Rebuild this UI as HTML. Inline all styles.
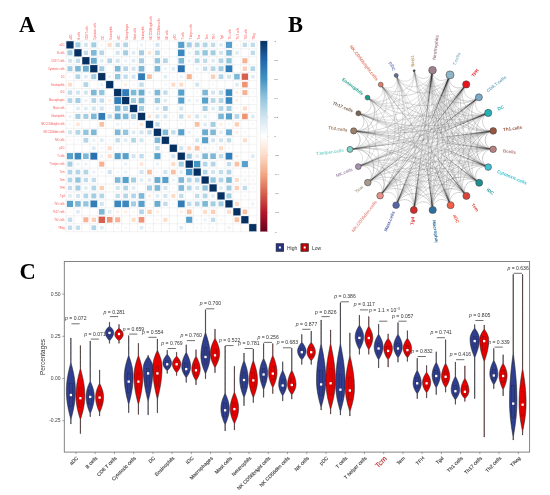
<!DOCTYPE html>
<html><head><meta charset="utf-8"><title>Figure</title>
<style>html,body{margin:0;padding:0;background:#fff;width:550px;height:495px;overflow:hidden}svg{display:block}</style>
</head><body>
<svg width="550" height="495" viewBox="0 0 550 495"><g id="panelA">
<text x="19" y="31.7" font-family="Liberation Serif, Times New Roman, serif" font-weight="bold" font-size="22.5" fill="#000">A</text>
<g><rect x="66.20" y="41.10" width="7.55" height="7.55" fill="#053061"/><rect x="75.41" y="42.36" width="5.02" height="5.02" fill="#a2cde2"/><rect x="83.90" y="42.90" width="3.94" height="3.94" fill="#d1e5f0"/><rect x="91.31" y="42.36" width="5.02" height="5.02" fill="#a2cde2"/><rect x="100.64" y="43.74" width="2.27" height="2.27" fill="#f4f8fb"/><rect x="107.75" y="42.90" width="3.94" height="3.94" fill="#fddbc7"/><rect x="115.51" y="42.71" width="4.34" height="4.34" fill="#c1ddec"/><rect x="123.28" y="42.53" width="4.69" height="4.69" fill="#b2d5e7"/><rect x="140.04" y="43.39" width="2.96" height="2.96" fill="#e8f2f8"/><rect x="148.34" y="43.74" width="2.27" height="2.27" fill="#f4f8fb"/><rect x="155.45" y="42.90" width="3.94" height="3.94" fill="#d1e5f0"/><rect x="164.24" y="43.74" width="2.27" height="2.27" fill="#fef6f1"/><rect x="178.20" y="41.80" width="6.14" height="6.14" fill="#57a0ca"/><rect x="186.71" y="42.36" width="5.02" height="5.02" fill="#a2cde2"/><rect x="194.83" y="42.53" width="4.69" height="4.69" fill="#b2d5e7"/><rect x="202.78" y="42.53" width="4.69" height="4.69" fill="#b2d5e7"/><rect x="210.91" y="42.71" width="4.34" height="4.34" fill="#c1ddec"/><rect x="219.28" y="43.13" width="3.49" height="3.49" fill="#dcecf4"/><rect x="225.90" y="41.80" width="6.14" height="6.14" fill="#57a0ca"/><rect x="235.79" y="43.74" width="2.27" height="2.27" fill="#fef6f1"/><rect x="242.71" y="42.71" width="4.34" height="4.34" fill="#c1ddec"/><rect x="250.66" y="42.71" width="4.34" height="4.34" fill="#c1ddec"/><rect x="67.46" y="50.31" width="5.02" height="5.02" fill="#a2cde2"/><rect x="74.15" y="49.05" width="7.55" height="7.55" fill="#053061"/><rect x="83.71" y="50.66" width="4.34" height="4.34" fill="#c1ddec"/><rect x="91.02" y="50.02" width="5.61" height="5.61" fill="#7eb8d7"/><rect x="99.43" y="50.48" width="4.69" height="4.69" fill="#b2d5e7"/><rect x="115.70" y="50.85" width="3.94" height="3.94" fill="#d1e5f0"/><rect x="123.11" y="50.31" width="5.02" height="5.02" fill="#a2cde2"/><rect x="131.83" y="51.08" width="3.49" height="3.49" fill="#dcecf4"/><rect x="139.01" y="50.31" width="5.02" height="5.02" fill="#a2cde2"/><rect x="147.73" y="51.08" width="3.49" height="3.49" fill="#fee4d5"/><rect x="155.08" y="50.48" width="4.69" height="4.69" fill="#b2d5e7"/><rect x="164.24" y="51.69" width="2.27" height="2.27" fill="#f4f8fb"/><rect x="177.96" y="49.51" width="6.62" height="6.62" fill="#3a88bd"/><rect x="187.74" y="51.34" width="2.96" height="2.96" fill="#e8f2f8"/><rect x="194.83" y="50.48" width="4.69" height="4.69" fill="#b2d5e7"/><rect x="202.46" y="50.16" width="5.33" height="5.33" fill="#92c5de"/><rect x="210.56" y="50.31" width="5.02" height="5.02" fill="#a2cde2"/><rect x="219.05" y="50.85" width="3.94" height="3.94" fill="#d1e5f0"/><rect x="226.17" y="50.02" width="5.61" height="5.61" fill="#7eb8d7"/><rect x="235.18" y="51.08" width="3.49" height="3.49" fill="#dcecf4"/><rect x="250.66" y="50.66" width="4.34" height="4.34" fill="#c1ddec"/><rect x="68.00" y="58.80" width="3.94" height="3.94" fill="#d1e5f0"/><rect x="75.76" y="58.61" width="4.34" height="4.34" fill="#c1ddec"/><rect x="82.10" y="57.00" width="7.55" height="7.55" fill="#053061"/><rect x="90.88" y="57.83" width="5.88" height="5.88" fill="#6aacd0"/><rect x="100.03" y="59.03" width="3.49" height="3.49" fill="#dcecf4"/><rect x="107.38" y="58.43" width="4.69" height="4.69" fill="#b2d5e7"/><rect x="115.70" y="58.80" width="3.94" height="3.94" fill="#d1e5f0"/><rect x="124.14" y="59.29" width="2.96" height="2.96" fill="#e8f2f8"/><rect x="131.83" y="59.03" width="3.49" height="3.49" fill="#dcecf4"/><rect x="139.01" y="58.26" width="5.02" height="5.02" fill="#a2cde2"/><rect x="154.76" y="58.11" width="5.33" height="5.33" fill="#92c5de"/><rect x="163.03" y="58.43" width="4.69" height="4.69" fill="#b2d5e7"/><rect x="178.47" y="57.97" width="5.61" height="5.61" fill="#7eb8d7"/><rect x="187.74" y="59.29" width="2.96" height="2.96" fill="#e8f2f8"/><rect x="194.83" y="58.43" width="4.69" height="4.69" fill="#b2d5e7"/><rect x="202.96" y="58.61" width="4.34" height="4.34" fill="#c1ddec"/><rect x="211.33" y="59.03" width="3.49" height="3.49" fill="#dcecf4"/><rect x="218.68" y="58.43" width="4.69" height="4.69" fill="#b2d5e7"/><rect x="226.31" y="58.11" width="5.33" height="5.33" fill="#92c5de"/><rect x="242.36" y="58.26" width="5.02" height="5.02" fill="#f6b293"/><rect x="67.46" y="66.21" width="5.02" height="5.02" fill="#a2cde2"/><rect x="75.12" y="65.92" width="5.61" height="5.61" fill="#7eb8d7"/><rect x="82.93" y="65.78" width="5.88" height="5.88" fill="#6aacd0"/><rect x="90.05" y="64.95" width="7.55" height="7.55" fill="#053061"/><rect x="99.26" y="66.21" width="5.02" height="5.02" fill="#a2cde2"/><rect x="114.87" y="65.92" width="5.61" height="5.61" fill="#7eb8d7"/><rect x="123.28" y="66.38" width="4.69" height="4.69" fill="#b2d5e7"/><rect x="131.60" y="66.75" width="3.94" height="3.94" fill="#d1e5f0"/><rect x="138.72" y="65.92" width="5.61" height="5.61" fill="#7eb8d7"/><rect x="154.62" y="65.92" width="5.61" height="5.61" fill="#7eb8d7"/><rect x="163.89" y="67.24" width="2.96" height="2.96" fill="#e8f2f8"/><rect x="171.58" y="66.98" width="3.49" height="3.49" fill="#dcecf4"/><rect x="177.74" y="65.19" width="7.07" height="7.07" fill="#2a71b2"/><rect x="195.69" y="67.24" width="2.96" height="2.96" fill="#e8f2f8"/><rect x="202.96" y="66.56" width="4.34" height="4.34" fill="#c1ddec"/><rect x="210.73" y="66.38" width="4.69" height="4.69" fill="#b2d5e7"/><rect x="218.51" y="66.21" width="5.02" height="5.02" fill="#a2cde2"/><rect x="225.55" y="65.30" width="6.85" height="6.85" fill="#327cb8"/><rect x="242.71" y="66.56" width="4.34" height="4.34" fill="#fbceb6"/><rect x="250.48" y="66.38" width="4.69" height="4.69" fill="#b2d5e7"/><rect x="68.84" y="75.54" width="2.27" height="2.27" fill="#f4f8fb"/><rect x="75.58" y="74.33" width="4.69" height="4.69" fill="#b2d5e7"/><rect x="84.13" y="74.93" width="3.49" height="3.49" fill="#dcecf4"/><rect x="91.31" y="74.16" width="5.02" height="5.02" fill="#a2cde2"/><rect x="98.00" y="72.90" width="7.55" height="7.55" fill="#053061"/><rect x="108.24" y="75.19" width="2.96" height="2.96" fill="#e8f2f8"/><rect x="115.01" y="74.01" width="5.33" height="5.33" fill="#92c5de"/><rect x="123.46" y="74.51" width="4.34" height="4.34" fill="#c1ddec"/><rect x="131.60" y="74.70" width="3.94" height="3.94" fill="#d1e5f0"/><rect x="138.10" y="73.25" width="6.85" height="6.85" fill="#327cb8"/><rect x="147.13" y="74.33" width="4.69" height="4.69" fill="#f8c0a4"/><rect x="163.63" y="74.93" width="3.49" height="3.49" fill="#dcecf4"/><rect x="172.19" y="75.54" width="2.27" height="2.27" fill="#f4f8fb"/><rect x="179.79" y="75.19" width="2.96" height="2.96" fill="#e8f2f8"/><rect x="186.71" y="74.16" width="5.02" height="5.02" fill="#f6b293"/><rect x="196.04" y="75.54" width="2.27" height="2.27" fill="#f4f8fb"/><rect x="210.91" y="74.51" width="4.34" height="4.34" fill="#fbceb6"/><rect x="218.68" y="74.33" width="4.69" height="4.69" fill="#b2d5e7"/><rect x="227.00" y="74.70" width="3.94" height="3.94" fill="#d1e5f0"/><rect x="234.12" y="73.87" width="5.61" height="5.61" fill="#7eb8d7"/><rect x="241.68" y="73.48" width="6.39" height="6.39" fill="#d6604d"/><rect x="251.08" y="74.93" width="3.49" height="3.49" fill="#dcecf4"/><rect x="68.00" y="82.65" width="3.94" height="3.94" fill="#fddbc7"/><rect x="83.53" y="82.28" width="4.69" height="4.69" fill="#b2d5e7"/><rect x="100.29" y="83.14" width="2.96" height="2.96" fill="#e8f2f8"/><rect x="105.95" y="80.85" width="7.55" height="7.55" fill="#053061"/><rect x="124.14" y="83.14" width="2.96" height="2.96" fill="#feede3"/><rect x="132.44" y="83.49" width="2.27" height="2.27" fill="#f4f8fb"/><rect x="139.36" y="82.46" width="4.34" height="4.34" fill="#c1ddec"/><rect x="164.24" y="83.49" width="2.27" height="2.27" fill="#f4f8fb"/><rect x="171.35" y="82.65" width="3.94" height="3.94" fill="#fddbc7"/><rect x="179.30" y="82.65" width="3.94" height="3.94" fill="#fddbc7"/><rect x="195.20" y="82.65" width="3.94" height="3.94" fill="#d1e5f0"/><rect x="211.94" y="83.49" width="2.27" height="2.27" fill="#fef6f1"/><rect x="235.18" y="82.88" width="3.49" height="3.49" fill="#dcecf4"/><rect x="242.07" y="81.82" width="5.61" height="5.61" fill="#ec9475"/><rect x="67.81" y="90.41" width="4.34" height="4.34" fill="#c1ddec"/><rect x="75.95" y="90.60" width="3.94" height="3.94" fill="#d1e5f0"/><rect x="83.90" y="90.60" width="3.94" height="3.94" fill="#d1e5f0"/><rect x="91.02" y="89.77" width="5.61" height="5.61" fill="#7eb8d7"/><rect x="99.11" y="89.91" width="5.33" height="5.33" fill="#92c5de"/><rect x="113.90" y="88.80" width="7.55" height="7.55" fill="#053061"/><rect x="122.20" y="89.15" width="6.85" height="6.85" fill="#327cb8"/><rect x="130.77" y="89.77" width="5.61" height="5.61" fill="#7eb8d7"/><rect x="138.58" y="89.63" width="5.88" height="5.88" fill="#6aacd0"/><rect x="147.99" y="91.09" width="2.96" height="2.96" fill="#e8f2f8"/><rect x="154.62" y="89.77" width="5.61" height="5.61" fill="#7eb8d7"/><rect x="163.21" y="90.41" width="4.34" height="4.34" fill="#c1ddec"/><rect x="172.19" y="91.44" width="2.27" height="2.27" fill="#f4f8fb"/><rect x="178.20" y="89.50" width="6.14" height="6.14" fill="#57a0ca"/><rect x="196.04" y="91.44" width="2.27" height="2.27" fill="#f4f8fb"/><rect x="202.32" y="89.77" width="5.61" height="5.61" fill="#7eb8d7"/><rect x="211.10" y="90.60" width="3.94" height="3.94" fill="#d1e5f0"/><rect x="218.86" y="90.41" width="4.34" height="4.34" fill="#c1ddec"/><rect x="225.66" y="89.26" width="6.62" height="6.62" fill="#3a88bd"/><rect x="235.44" y="91.09" width="2.96" height="2.96" fill="#feede3"/><rect x="242.36" y="90.06" width="5.02" height="5.02" fill="#f6b293"/><rect x="251.69" y="91.44" width="2.27" height="2.27" fill="#f4f8fb"/><rect x="67.63" y="98.18" width="4.69" height="4.69" fill="#b2d5e7"/><rect x="75.41" y="98.01" width="5.02" height="5.02" fill="#a2cde2"/><rect x="84.39" y="99.04" width="2.96" height="2.96" fill="#e8f2f8"/><rect x="91.48" y="98.18" width="4.69" height="4.69" fill="#b2d5e7"/><rect x="99.61" y="98.36" width="4.34" height="4.34" fill="#c1ddec"/><rect x="108.24" y="99.04" width="2.96" height="2.96" fill="#feede3"/><rect x="114.25" y="97.10" width="6.85" height="6.85" fill="#327cb8"/><rect x="121.85" y="96.75" width="7.55" height="7.55" fill="#053061"/><rect x="131.06" y="98.01" width="5.02" height="5.02" fill="#a2cde2"/><rect x="138.72" y="97.72" width="5.61" height="5.61" fill="#7eb8d7"/><rect x="148.34" y="99.39" width="2.27" height="2.27" fill="#f4f8fb"/><rect x="154.76" y="97.86" width="5.33" height="5.33" fill="#92c5de"/><rect x="163.63" y="98.78" width="3.49" height="3.49" fill="#dcecf4"/><rect x="178.20" y="97.45" width="6.14" height="6.14" fill="#57a0ca"/><rect x="187.74" y="99.04" width="2.96" height="2.96" fill="#e8f2f8"/><rect x="195.69" y="99.04" width="2.96" height="2.96" fill="#e8f2f8"/><rect x="202.05" y="97.45" width="6.14" height="6.14" fill="#57a0ca"/><rect x="210.73" y="98.18" width="4.69" height="4.69" fill="#b2d5e7"/><rect x="218.68" y="98.18" width="4.69" height="4.69" fill="#b2d5e7"/><rect x="225.66" y="97.21" width="6.62" height="6.62" fill="#3a88bd"/><rect x="235.44" y="99.04" width="2.96" height="2.96" fill="#feede3"/><rect x="251.69" y="99.39" width="2.27" height="2.27" fill="#f4f8fb"/><rect x="76.18" y="106.73" width="3.49" height="3.49" fill="#dcecf4"/><rect x="84.13" y="106.73" width="3.49" height="3.49" fill="#dcecf4"/><rect x="91.85" y="106.50" width="3.94" height="3.94" fill="#d1e5f0"/><rect x="99.80" y="106.50" width="3.94" height="3.94" fill="#d1e5f0"/><rect x="108.59" y="107.34" width="2.27" height="2.27" fill="#f4f8fb"/><rect x="114.87" y="105.67" width="5.61" height="5.61" fill="#7eb8d7"/><rect x="123.11" y="105.96" width="5.02" height="5.02" fill="#a2cde2"/><rect x="129.80" y="104.70" width="7.55" height="7.55" fill="#053061"/><rect x="139.01" y="105.96" width="5.02" height="5.02" fill="#a2cde2"/><rect x="148.34" y="107.34" width="2.27" height="2.27" fill="#f4f8fb"/><rect x="155.68" y="106.73" width="3.49" height="3.49" fill="#dcecf4"/><rect x="163.03" y="106.13" width="4.69" height="4.69" fill="#b2d5e7"/><rect x="179.30" y="106.50" width="3.94" height="3.94" fill="#d1e5f0"/><rect x="202.61" y="105.96" width="5.02" height="5.02" fill="#a2cde2"/><rect x="211.33" y="106.73" width="3.49" height="3.49" fill="#dcecf4"/><rect x="218.68" y="106.13" width="4.69" height="4.69" fill="#b2d5e7"/><rect x="226.46" y="105.96" width="5.02" height="5.02" fill="#a2cde2"/><rect x="235.79" y="107.34" width="2.27" height="2.27" fill="#fef6f1"/><rect x="242.90" y="106.50" width="3.94" height="3.94" fill="#fddbc7"/><rect x="68.49" y="114.94" width="2.96" height="2.96" fill="#e8f2f8"/><rect x="75.41" y="113.91" width="5.02" height="5.02" fill="#a2cde2"/><rect x="83.36" y="113.91" width="5.02" height="5.02" fill="#a2cde2"/><rect x="91.02" y="113.62" width="5.61" height="5.61" fill="#7eb8d7"/><rect x="98.35" y="113.00" width="6.85" height="6.85" fill="#327cb8"/><rect x="107.56" y="114.26" width="4.34" height="4.34" fill="#c1ddec"/><rect x="114.73" y="113.48" width="5.88" height="5.88" fill="#6aacd0"/><rect x="122.82" y="113.62" width="5.61" height="5.61" fill="#7eb8d7"/><rect x="131.06" y="113.91" width="5.02" height="5.02" fill="#a2cde2"/><rect x="137.75" y="112.65" width="7.55" height="7.55" fill="#053061"/><rect x="147.73" y="114.68" width="3.49" height="3.49" fill="#fee4d5"/><rect x="155.45" y="114.45" width="3.94" height="3.94" fill="#d1e5f0"/><rect x="163.40" y="114.45" width="3.94" height="3.94" fill="#d1e5f0"/><rect x="172.19" y="115.29" width="2.27" height="2.27" fill="#fef6f1"/><rect x="179.11" y="114.26" width="4.34" height="4.34" fill="#c1ddec"/><rect x="187.48" y="114.68" width="3.49" height="3.49" fill="#fee4d5"/><rect x="195.20" y="114.45" width="3.94" height="3.94" fill="#d1e5f0"/><rect x="203.38" y="114.68" width="3.49" height="3.49" fill="#dcecf4"/><rect x="218.22" y="113.62" width="5.61" height="5.61" fill="#7eb8d7"/><rect x="225.90" y="113.35" width="6.14" height="6.14" fill="#57a0ca"/><rect x="234.58" y="114.08" width="4.69" height="4.69" fill="#b2d5e7"/><rect x="242.07" y="113.62" width="5.61" height="5.61" fill="#ec9475"/><rect x="251.08" y="114.68" width="3.49" height="3.49" fill="#dcecf4"/><rect x="68.84" y="123.24" width="2.27" height="2.27" fill="#f4f8fb"/><rect x="76.18" y="122.63" width="3.49" height="3.49" fill="#fee4d5"/><rect x="99.43" y="122.03" width="4.69" height="4.69" fill="#f8c0a4"/><rect x="116.19" y="122.89" width="2.96" height="2.96" fill="#e8f2f8"/><rect x="124.49" y="123.24" width="2.27" height="2.27" fill="#f4f8fb"/><rect x="132.44" y="123.24" width="2.27" height="2.27" fill="#f4f8fb"/><rect x="139.78" y="122.63" width="3.49" height="3.49" fill="#fee4d5"/><rect x="145.70" y="120.60" width="7.55" height="7.55" fill="#053061"/><rect x="155.26" y="122.21" width="4.34" height="4.34" fill="#c1ddec"/><rect x="164.24" y="123.24" width="2.27" height="2.27" fill="#f4f8fb"/><rect x="180.14" y="123.24" width="2.27" height="2.27" fill="#f4f8fb"/><rect x="194.83" y="122.03" width="4.69" height="4.69" fill="#f8c0a4"/><rect x="203.38" y="122.63" width="3.49" height="3.49" fill="#dcecf4"/><rect x="210.56" y="121.86" width="5.02" height="5.02" fill="#a2cde2"/><rect x="219.54" y="122.89" width="2.96" height="2.96" fill="#feede3"/><rect x="227.84" y="123.24" width="2.27" height="2.27" fill="#f4f8fb"/><rect x="234.76" y="122.21" width="4.34" height="4.34" fill="#fbceb6"/><rect x="251.69" y="123.24" width="2.27" height="2.27" fill="#fef6f1"/><rect x="68.00" y="130.35" width="3.94" height="3.94" fill="#d1e5f0"/><rect x="75.58" y="129.98" width="4.69" height="4.69" fill="#b2d5e7"/><rect x="83.21" y="129.66" width="5.33" height="5.33" fill="#92c5de"/><rect x="91.02" y="129.52" width="5.61" height="5.61" fill="#7eb8d7"/><rect x="114.87" y="129.52" width="5.61" height="5.61" fill="#7eb8d7"/><rect x="122.96" y="129.66" width="5.33" height="5.33" fill="#92c5de"/><rect x="131.83" y="130.58" width="3.49" height="3.49" fill="#dcecf4"/><rect x="139.55" y="130.35" width="3.94" height="3.94" fill="#d1e5f0"/><rect x="147.31" y="130.16" width="4.34" height="4.34" fill="#c1ddec"/><rect x="153.65" y="128.55" width="7.55" height="7.55" fill="#053061"/><rect x="162.57" y="129.52" width="5.61" height="5.61" fill="#7eb8d7"/><rect x="171.16" y="130.16" width="4.34" height="4.34" fill="#c1ddec"/><rect x="178.20" y="129.25" width="6.14" height="6.14" fill="#57a0ca"/><rect x="187.74" y="130.84" width="2.96" height="2.96" fill="#e8f2f8"/><rect x="196.04" y="131.19" width="2.27" height="2.27" fill="#f4f8fb"/><rect x="202.18" y="129.38" width="5.88" height="5.88" fill="#6aacd0"/><rect x="210.27" y="129.52" width="5.61" height="5.61" fill="#7eb8d7"/><rect x="219.28" y="130.58" width="3.49" height="3.49" fill="#dcecf4"/><rect x="226.03" y="129.38" width="5.88" height="5.88" fill="#6aacd0"/><rect x="235.44" y="130.84" width="2.96" height="2.96" fill="#feede3"/><rect x="243.74" y="131.19" width="2.27" height="2.27" fill="#fef6f1"/><rect x="68.84" y="139.14" width="2.27" height="2.27" fill="#fef6f1"/><rect x="76.79" y="139.14" width="2.27" height="2.27" fill="#f4f8fb"/><rect x="83.53" y="137.93" width="4.69" height="4.69" fill="#b2d5e7"/><rect x="92.34" y="138.79" width="2.96" height="2.96" fill="#e8f2f8"/><rect x="100.03" y="138.53" width="3.49" height="3.49" fill="#dcecf4"/><rect x="108.59" y="139.14" width="2.27" height="2.27" fill="#f4f8fb"/><rect x="115.51" y="138.11" width="4.34" height="4.34" fill="#c1ddec"/><rect x="123.88" y="138.53" width="3.49" height="3.49" fill="#dcecf4"/><rect x="131.23" y="137.93" width="4.69" height="4.69" fill="#b2d5e7"/><rect x="139.55" y="138.30" width="3.94" height="3.94" fill="#d1e5f0"/><rect x="148.34" y="139.14" width="2.27" height="2.27" fill="#f4f8fb"/><rect x="154.62" y="137.47" width="5.61" height="5.61" fill="#7eb8d7"/><rect x="161.60" y="136.50" width="7.55" height="7.55" fill="#053061"/><rect x="172.19" y="139.14" width="2.27" height="2.27" fill="#f4f8fb"/><rect x="180.14" y="139.14" width="2.27" height="2.27" fill="#f4f8fb"/><rect x="195.20" y="138.30" width="3.94" height="3.94" fill="#d1e5f0"/><rect x="202.05" y="137.20" width="6.14" height="6.14" fill="#57a0ca"/><rect x="211.10" y="138.30" width="3.94" height="3.94" fill="#d1e5f0"/><rect x="219.05" y="138.30" width="3.94" height="3.94" fill="#d1e5f0"/><rect x="226.81" y="138.11" width="4.34" height="4.34" fill="#c1ddec"/><rect x="242.90" y="138.30" width="3.94" height="3.94" fill="#fddbc7"/><rect x="92.08" y="146.48" width="3.49" height="3.49" fill="#dcecf4"/><rect x="100.64" y="147.09" width="2.27" height="2.27" fill="#f4f8fb"/><rect x="107.75" y="146.25" width="3.94" height="3.94" fill="#fddbc7"/><rect x="116.54" y="147.09" width="2.27" height="2.27" fill="#f4f8fb"/><rect x="140.39" y="147.09" width="2.27" height="2.27" fill="#fef6f1"/><rect x="155.26" y="146.06" width="4.34" height="4.34" fill="#c1ddec"/><rect x="164.24" y="147.09" width="2.27" height="2.27" fill="#f4f8fb"/><rect x="169.55" y="144.45" width="7.55" height="7.55" fill="#053061"/><rect x="179.30" y="146.25" width="3.94" height="3.94" fill="#d1e5f0"/><rect x="187.25" y="146.25" width="3.94" height="3.94" fill="#fddbc7"/><rect x="194.83" y="145.88" width="4.69" height="4.69" fill="#f8c0a4"/><rect x="203.64" y="146.74" width="2.96" height="2.96" fill="#e8f2f8"/><rect x="211.94" y="147.09" width="2.27" height="2.27" fill="#fef6f1"/><rect x="219.05" y="146.25" width="3.94" height="3.94" fill="#fddbc7"/><rect x="227.84" y="147.09" width="2.27" height="2.27" fill="#f4f8fb"/><rect x="66.90" y="153.10" width="6.14" height="6.14" fill="#57a0ca"/><rect x="74.61" y="152.86" width="6.62" height="6.62" fill="#3a88bd"/><rect x="83.07" y="153.37" width="5.61" height="5.61" fill="#7eb8d7"/><rect x="90.29" y="152.64" width="7.07" height="7.07" fill="#2a71b2"/><rect x="100.29" y="154.69" width="2.96" height="2.96" fill="#e8f2f8"/><rect x="107.75" y="154.20" width="3.94" height="3.94" fill="#fddbc7"/><rect x="114.60" y="153.10" width="6.14" height="6.14" fill="#57a0ca"/><rect x="122.55" y="153.10" width="6.14" height="6.14" fill="#57a0ca"/><rect x="131.60" y="154.20" width="3.94" height="3.94" fill="#d1e5f0"/><rect x="139.36" y="154.01" width="4.34" height="4.34" fill="#c1ddec"/><rect x="148.34" y="155.04" width="2.27" height="2.27" fill="#f4f8fb"/><rect x="154.35" y="153.10" width="6.14" height="6.14" fill="#57a0ca"/><rect x="164.24" y="155.04" width="2.27" height="2.27" fill="#f4f8fb"/><rect x="171.35" y="154.20" width="3.94" height="3.94" fill="#d1e5f0"/><rect x="177.50" y="152.40" width="7.55" height="7.55" fill="#053061"/><rect x="186.71" y="153.66" width="5.02" height="5.02" fill="#a2cde2"/><rect x="195.43" y="154.43" width="3.49" height="3.49" fill="#dcecf4"/><rect x="202.32" y="153.37" width="5.61" height="5.61" fill="#7eb8d7"/><rect x="210.27" y="153.37" width="5.61" height="5.61" fill="#7eb8d7"/><rect x="218.86" y="154.01" width="4.34" height="4.34" fill="#c1ddec"/><rect x="225.55" y="152.75" width="6.85" height="6.85" fill="#327cb8"/><rect x="235.44" y="154.69" width="2.96" height="2.96" fill="#feede3"/><rect x="251.08" y="154.43" width="3.49" height="3.49" fill="#dcecf4"/><rect x="67.46" y="161.61" width="5.02" height="5.02" fill="#a2cde2"/><rect x="76.44" y="162.64" width="2.96" height="2.96" fill="#e8f2f8"/><rect x="84.39" y="162.64" width="2.96" height="2.96" fill="#e8f2f8"/><rect x="99.26" y="161.61" width="5.02" height="5.02" fill="#f6b293"/><rect x="124.14" y="162.64" width="2.96" height="2.96" fill="#e8f2f8"/><rect x="139.78" y="162.38" width="3.49" height="3.49" fill="#fee4d5"/><rect x="155.94" y="162.64" width="2.96" height="2.96" fill="#e8f2f8"/><rect x="171.35" y="162.15" width="3.94" height="3.94" fill="#fddbc7"/><rect x="178.76" y="161.61" width="5.02" height="5.02" fill="#a2cde2"/><rect x="185.45" y="160.35" width="7.55" height="7.55" fill="#053061"/><rect x="193.98" y="160.93" width="6.39" height="6.39" fill="#4393c3"/><rect x="202.78" y="161.78" width="4.69" height="4.69" fill="#b2d5e7"/><rect x="210.73" y="161.78" width="4.69" height="4.69" fill="#b2d5e7"/><rect x="226.81" y="161.96" width="4.34" height="4.34" fill="#c1ddec"/><rect x="234.58" y="161.78" width="4.69" height="4.69" fill="#f8c0a4"/><rect x="241.80" y="161.05" width="6.14" height="6.14" fill="#57a0ca"/><rect x="67.63" y="169.73" width="4.69" height="4.69" fill="#b2d5e7"/><rect x="75.58" y="169.73" width="4.69" height="4.69" fill="#b2d5e7"/><rect x="83.53" y="169.73" width="4.69" height="4.69" fill="#b2d5e7"/><rect x="92.34" y="170.59" width="2.96" height="2.96" fill="#e8f2f8"/><rect x="100.64" y="170.94" width="2.27" height="2.27" fill="#f4f8fb"/><rect x="107.75" y="170.10" width="3.94" height="3.94" fill="#d1e5f0"/><rect x="116.54" y="170.94" width="2.27" height="2.27" fill="#f4f8fb"/><rect x="124.14" y="170.59" width="2.96" height="2.96" fill="#e8f2f8"/><rect x="139.55" y="170.10" width="3.94" height="3.94" fill="#d1e5f0"/><rect x="147.13" y="169.73" width="4.69" height="4.69" fill="#f8c0a4"/><rect x="156.29" y="170.94" width="2.27" height="2.27" fill="#f4f8fb"/><rect x="163.40" y="170.10" width="3.94" height="3.94" fill="#d1e5f0"/><rect x="170.98" y="169.73" width="4.69" height="4.69" fill="#f8c0a4"/><rect x="179.53" y="170.33" width="3.49" height="3.49" fill="#dcecf4"/><rect x="186.03" y="168.88" width="6.39" height="6.39" fill="#4393c3"/><rect x="193.40" y="168.30" width="7.55" height="7.55" fill="#053061"/><rect x="202.78" y="169.73" width="4.69" height="4.69" fill="#b2d5e7"/><rect x="211.10" y="170.10" width="3.94" height="3.94" fill="#d1e5f0"/><rect x="218.86" y="169.91" width="4.34" height="4.34" fill="#c1ddec"/><rect x="226.63" y="169.73" width="4.69" height="4.69" fill="#b2d5e7"/><rect x="243.74" y="170.94" width="2.27" height="2.27" fill="#f4f8fb"/><rect x="251.69" y="170.94" width="2.27" height="2.27" fill="#f4f8fb"/><rect x="67.63" y="177.68" width="4.69" height="4.69" fill="#b2d5e7"/><rect x="75.26" y="177.36" width="5.33" height="5.33" fill="#92c5de"/><rect x="83.71" y="177.86" width="4.34" height="4.34" fill="#c1ddec"/><rect x="91.66" y="177.86" width="4.34" height="4.34" fill="#c1ddec"/><rect x="114.87" y="177.22" width="5.61" height="5.61" fill="#7eb8d7"/><rect x="122.55" y="176.95" width="6.14" height="6.14" fill="#57a0ca"/><rect x="131.06" y="177.51" width="5.02" height="5.02" fill="#a2cde2"/><rect x="139.78" y="178.28" width="3.49" height="3.49" fill="#dcecf4"/><rect x="147.73" y="178.28" width="3.49" height="3.49" fill="#dcecf4"/><rect x="154.48" y="177.08" width="5.88" height="5.88" fill="#6aacd0"/><rect x="162.30" y="176.95" width="6.14" height="6.14" fill="#57a0ca"/><rect x="171.84" y="178.54" width="2.96" height="2.96" fill="#e8f2f8"/><rect x="178.47" y="177.22" width="5.61" height="5.61" fill="#7eb8d7"/><rect x="186.88" y="177.68" width="4.69" height="4.69" fill="#b2d5e7"/><rect x="194.83" y="177.68" width="4.69" height="4.69" fill="#b2d5e7"/><rect x="201.35" y="176.25" width="7.55" height="7.55" fill="#053061"/><rect x="210.41" y="177.36" width="5.33" height="5.33" fill="#92c5de"/><rect x="218.68" y="177.68" width="4.69" height="4.69" fill="#b2d5e7"/><rect x="226.17" y="177.22" width="5.61" height="5.61" fill="#7eb8d7"/><rect x="234.95" y="178.05" width="3.94" height="3.94" fill="#fddbc7"/><rect x="243.39" y="178.54" width="2.96" height="2.96" fill="#e8f2f8"/><rect x="251.69" y="178.89" width="2.27" height="2.27" fill="#fef6f1"/><rect x="67.81" y="185.81" width="4.34" height="4.34" fill="#c1ddec"/><rect x="75.41" y="185.46" width="5.02" height="5.02" fill="#a2cde2"/><rect x="84.13" y="186.23" width="3.49" height="3.49" fill="#dcecf4"/><rect x="91.48" y="185.63" width="4.69" height="4.69" fill="#b2d5e7"/><rect x="99.61" y="185.81" width="4.34" height="4.34" fill="#fbceb6"/><rect x="108.59" y="186.84" width="2.27" height="2.27" fill="#fef6f1"/><rect x="115.70" y="186.00" width="3.94" height="3.94" fill="#d1e5f0"/><rect x="123.28" y="185.63" width="4.69" height="4.69" fill="#b2d5e7"/><rect x="131.83" y="186.23" width="3.49" height="3.49" fill="#dcecf4"/><rect x="146.96" y="185.46" width="5.02" height="5.02" fill="#a2cde2"/><rect x="154.62" y="185.17" width="5.61" height="5.61" fill="#7eb8d7"/><rect x="163.40" y="186.00" width="3.94" height="3.94" fill="#d1e5f0"/><rect x="172.19" y="186.84" width="2.27" height="2.27" fill="#fef6f1"/><rect x="178.47" y="185.17" width="5.61" height="5.61" fill="#7eb8d7"/><rect x="186.88" y="185.63" width="4.69" height="4.69" fill="#b2d5e7"/><rect x="195.20" y="186.00" width="3.94" height="3.94" fill="#d1e5f0"/><rect x="202.46" y="185.31" width="5.33" height="5.33" fill="#92c5de"/><rect x="209.30" y="184.20" width="7.55" height="7.55" fill="#053061"/><rect x="219.28" y="186.23" width="3.49" height="3.49" fill="#dcecf4"/><rect x="226.46" y="185.46" width="5.02" height="5.02" fill="#a2cde2"/><rect x="234.76" y="185.81" width="4.34" height="4.34" fill="#fbceb6"/><rect x="242.71" y="185.81" width="4.34" height="4.34" fill="#c1ddec"/><rect x="251.69" y="186.84" width="2.27" height="2.27" fill="#f4f8fb"/><rect x="68.23" y="194.18" width="3.49" height="3.49" fill="#dcecf4"/><rect x="75.95" y="193.95" width="3.94" height="3.94" fill="#d1e5f0"/><rect x="83.53" y="193.58" width="4.69" height="4.69" fill="#b2d5e7"/><rect x="91.31" y="193.41" width="5.02" height="5.02" fill="#a2cde2"/><rect x="99.43" y="193.58" width="4.69" height="4.69" fill="#b2d5e7"/><rect x="115.51" y="193.76" width="4.34" height="4.34" fill="#c1ddec"/><rect x="123.28" y="193.58" width="4.69" height="4.69" fill="#b2d5e7"/><rect x="131.23" y="193.58" width="4.69" height="4.69" fill="#b2d5e7"/><rect x="138.72" y="193.12" width="5.61" height="5.61" fill="#7eb8d7"/><rect x="147.99" y="194.44" width="2.96" height="2.96" fill="#feede3"/><rect x="155.68" y="194.18" width="3.49" height="3.49" fill="#dcecf4"/><rect x="163.40" y="193.95" width="3.94" height="3.94" fill="#d1e5f0"/><rect x="171.35" y="193.95" width="3.94" height="3.94" fill="#fddbc7"/><rect x="179.11" y="193.76" width="4.34" height="4.34" fill="#c1ddec"/><rect x="195.01" y="193.76" width="4.34" height="4.34" fill="#c1ddec"/><rect x="202.78" y="193.58" width="4.69" height="4.69" fill="#b2d5e7"/><rect x="211.33" y="194.18" width="3.49" height="3.49" fill="#dcecf4"/><rect x="217.25" y="192.15" width="7.55" height="7.55" fill="#053061"/><rect x="226.46" y="193.41" width="5.02" height="5.02" fill="#a2cde2"/><rect x="243.74" y="194.79" width="2.27" height="2.27" fill="#fef6f1"/><rect x="66.90" y="200.80" width="6.14" height="6.14" fill="#57a0ca"/><rect x="75.12" y="201.07" width="5.61" height="5.61" fill="#7eb8d7"/><rect x="83.21" y="201.21" width="5.33" height="5.33" fill="#92c5de"/><rect x="90.40" y="200.45" width="6.85" height="6.85" fill="#327cb8"/><rect x="99.80" y="201.90" width="3.94" height="3.94" fill="#d1e5f0"/><rect x="114.36" y="200.56" width="6.62" height="6.62" fill="#3a88bd"/><rect x="122.31" y="200.56" width="6.62" height="6.62" fill="#3a88bd"/><rect x="131.06" y="201.36" width="5.02" height="5.02" fill="#a2cde2"/><rect x="138.45" y="200.80" width="6.14" height="6.14" fill="#57a0ca"/><rect x="148.34" y="202.74" width="2.27" height="2.27" fill="#f4f8fb"/><rect x="154.48" y="200.93" width="5.88" height="5.88" fill="#6aacd0"/><rect x="163.21" y="201.71" width="4.34" height="4.34" fill="#c1ddec"/><rect x="172.19" y="202.74" width="2.27" height="2.27" fill="#f4f8fb"/><rect x="177.85" y="200.45" width="6.85" height="6.85" fill="#327cb8"/><rect x="187.06" y="201.71" width="4.34" height="4.34" fill="#c1ddec"/><rect x="194.83" y="201.53" width="4.69" height="4.69" fill="#b2d5e7"/><rect x="202.32" y="201.07" width="5.61" height="5.61" fill="#7eb8d7"/><rect x="210.56" y="201.36" width="5.02" height="5.02" fill="#a2cde2"/><rect x="218.51" y="201.36" width="5.02" height="5.02" fill="#a2cde2"/><rect x="225.20" y="200.10" width="7.55" height="7.55" fill="#053061"/><rect x="234.95" y="201.90" width="3.94" height="3.94" fill="#fddbc7"/><rect x="251.34" y="202.39" width="2.96" height="2.96" fill="#e8f2f8"/><rect x="68.84" y="210.69" width="2.27" height="2.27" fill="#fef6f1"/><rect x="76.18" y="210.08" width="3.49" height="3.49" fill="#dcecf4"/><rect x="98.97" y="209.02" width="5.61" height="5.61" fill="#7eb8d7"/><rect x="107.98" y="210.08" width="3.49" height="3.49" fill="#dcecf4"/><rect x="116.19" y="210.34" width="2.96" height="2.96" fill="#feede3"/><rect x="124.14" y="210.34" width="2.96" height="2.96" fill="#feede3"/><rect x="132.44" y="210.69" width="2.27" height="2.27" fill="#fef6f1"/><rect x="139.18" y="209.48" width="4.69" height="4.69" fill="#b2d5e7"/><rect x="147.31" y="209.66" width="4.34" height="4.34" fill="#fbceb6"/><rect x="155.94" y="210.34" width="2.96" height="2.96" fill="#feede3"/><rect x="179.79" y="210.34" width="2.96" height="2.96" fill="#feede3"/><rect x="186.88" y="209.48" width="4.69" height="4.69" fill="#f8c0a4"/><rect x="203.15" y="209.85" width="3.94" height="3.94" fill="#fddbc7"/><rect x="210.91" y="209.66" width="4.34" height="4.34" fill="#fbceb6"/><rect x="227.00" y="209.85" width="3.94" height="3.94" fill="#fddbc7"/><rect x="233.15" y="208.05" width="7.55" height="7.55" fill="#053061"/><rect x="242.53" y="209.48" width="4.69" height="4.69" fill="#f8c0a4"/><rect x="67.81" y="217.61" width="4.34" height="4.34" fill="#c1ddec"/><rect x="83.36" y="217.26" width="5.02" height="5.02" fill="#f6b293"/><rect x="91.66" y="217.61" width="4.34" height="4.34" fill="#fbceb6"/><rect x="98.58" y="216.58" width="6.39" height="6.39" fill="#d6604d"/><rect x="106.92" y="216.97" width="5.61" height="5.61" fill="#ec9475"/><rect x="115.16" y="217.26" width="5.02" height="5.02" fill="#f6b293"/><rect x="131.60" y="217.80" width="3.94" height="3.94" fill="#fddbc7"/><rect x="138.72" y="216.97" width="5.61" height="5.61" fill="#ec9475"/><rect x="156.29" y="218.64" width="2.27" height="2.27" fill="#fef6f1"/><rect x="163.40" y="217.80" width="3.94" height="3.94" fill="#fddbc7"/><rect x="186.15" y="216.70" width="6.14" height="6.14" fill="#57a0ca"/><rect x="196.04" y="218.64" width="2.27" height="2.27" fill="#f4f8fb"/><rect x="203.64" y="218.29" width="2.96" height="2.96" fill="#e8f2f8"/><rect x="210.91" y="217.61" width="4.34" height="4.34" fill="#c1ddec"/><rect x="219.89" y="218.64" width="2.27" height="2.27" fill="#fef6f1"/><rect x="234.58" y="217.43" width="4.69" height="4.69" fill="#f8c0a4"/><rect x="241.10" y="216.00" width="7.55" height="7.55" fill="#053061"/><rect x="67.81" y="225.56" width="4.34" height="4.34" fill="#c1ddec"/><rect x="75.76" y="225.56" width="4.34" height="4.34" fill="#c1ddec"/><rect x="91.48" y="225.38" width="4.69" height="4.69" fill="#b2d5e7"/><rect x="100.03" y="225.98" width="3.49" height="3.49" fill="#dcecf4"/><rect x="116.54" y="226.59" width="2.27" height="2.27" fill="#f4f8fb"/><rect x="124.49" y="226.59" width="2.27" height="2.27" fill="#f4f8fb"/><rect x="139.78" y="225.98" width="3.49" height="3.49" fill="#dcecf4"/><rect x="148.34" y="226.59" width="2.27" height="2.27" fill="#fef6f1"/><rect x="179.53" y="225.98" width="3.49" height="3.49" fill="#dcecf4"/><rect x="196.04" y="226.59" width="2.27" height="2.27" fill="#f4f8fb"/><rect x="203.99" y="226.59" width="2.27" height="2.27" fill="#fef6f1"/><rect x="211.94" y="226.59" width="2.27" height="2.27" fill="#f4f8fb"/><rect x="227.49" y="226.24" width="2.96" height="2.96" fill="#e8f2f8"/><rect x="249.05" y="223.95" width="7.55" height="7.55" fill="#053061"/></g>
<path d="M66.00 40.90V231.70M66.00 40.90H256.80M73.95 40.90V231.70M66.00 48.85H256.80M81.90 40.90V231.70M66.00 56.80H256.80M89.85 40.90V231.70M66.00 64.75H256.80M97.80 40.90V231.70M66.00 72.70H256.80M105.75 40.90V231.70M66.00 80.65H256.80M113.70 40.90V231.70M66.00 88.60H256.80M121.65 40.90V231.70M66.00 96.55H256.80M129.60 40.90V231.70M66.00 104.50H256.80M137.55 40.90V231.70M66.00 112.45H256.80M145.50 40.90V231.70M66.00 120.40H256.80M153.45 40.90V231.70M66.00 128.35H256.80M161.40 40.90V231.70M66.00 136.30H256.80M169.35 40.90V231.70M66.00 144.25H256.80M177.30 40.90V231.70M66.00 152.20H256.80M185.25 40.90V231.70M66.00 160.15H256.80M193.20 40.90V231.70M66.00 168.10H256.80M201.15 40.90V231.70M66.00 176.05H256.80M209.10 40.90V231.70M66.00 184.00H256.80M217.05 40.90V231.70M66.00 191.95H256.80M225.00 40.90V231.70M66.00 199.90H256.80M232.95 40.90V231.70M66.00 207.85H256.80M240.90 40.90V231.70M66.00 215.80H256.80M248.85 40.90V231.70M66.00 223.75H256.80M256.80 40.90V231.70M66.00 231.70H256.80" stroke="#e2e2e2" stroke-width="0.45" fill="none"/>
<g font-family="Liberation Sans, Arial, sans-serif" font-size="2.6" fill="#ff3030" fill-opacity="0.85"><text x="64.6" y="45.77" text-anchor="end">aDC</text><text transform="translate(72.38 39.6) rotate(-90)">aDC</text><text x="64.6" y="53.73" text-anchor="end">B cells</text><text transform="translate(80.33 39.6) rotate(-90)">B cells</text><text x="64.6" y="61.67" text-anchor="end">CD8 T cells</text><text transform="translate(88.28 39.6) rotate(-90)">CD8 T cells</text><text x="64.6" y="69.62" text-anchor="end">Cytotoxic cells</text><text transform="translate(96.22 39.6) rotate(-90)">Cytotoxic cells</text><text x="64.6" y="77.58" text-anchor="end">DC</text><text transform="translate(104.17 39.6) rotate(-90)">DC</text><text x="64.6" y="85.53" text-anchor="end">Eosinophils</text><text transform="translate(112.12 39.6) rotate(-90)">Eosinophils</text><text x="64.6" y="93.47" text-anchor="end">iDC</text><text transform="translate(120.08 39.6) rotate(-90)">iDC</text><text x="64.6" y="101.42" text-anchor="end">Macrophages</text><text transform="translate(128.03 39.6) rotate(-90)">Macrophages</text><text x="64.6" y="109.38" text-anchor="end">Mast cells</text><text transform="translate(135.97 39.6) rotate(-90)">Mast cells</text><text x="64.6" y="117.32" text-anchor="end">Neutrophils</text><text transform="translate(143.93 39.6) rotate(-90)">Neutrophils</text><text x="64.6" y="125.28" text-anchor="end">NK CD56bright cells</text><text transform="translate(151.88 39.6) rotate(-90)">NK CD56bright cells</text><text x="64.6" y="133.22" text-anchor="end">NK CD56dim cells</text><text transform="translate(159.82 39.6) rotate(-90)">NK CD56dim cells</text><text x="64.6" y="141.18" text-anchor="end">NK cells</text><text transform="translate(167.78 39.6) rotate(-90)">NK cells</text><text x="64.6" y="149.12" text-anchor="end">pDC</text><text transform="translate(175.73 39.6) rotate(-90)">pDC</text><text x="64.6" y="157.07" text-anchor="end">T cells</text><text transform="translate(183.68 39.6) rotate(-90)">T cells</text><text x="64.6" y="165.03" text-anchor="end">T helper cells</text><text transform="translate(191.62 39.6) rotate(-90)">T helper cells</text><text x="64.6" y="172.97" text-anchor="end">Tcm</text><text transform="translate(199.57 39.6) rotate(-90)">Tcm</text><text x="64.6" y="180.93" text-anchor="end">Tem</text><text transform="translate(207.53 39.6) rotate(-90)">Tem</text><text x="64.6" y="188.88" text-anchor="end">TFH</text><text transform="translate(215.47 39.6) rotate(-90)">TFH</text><text x="64.6" y="196.83" text-anchor="end">Tgd</text><text transform="translate(223.43 39.6) rotate(-90)">Tgd</text><text x="64.6" y="204.78" text-anchor="end">Th1 cells</text><text transform="translate(231.38 39.6) rotate(-90)">Th1 cells</text><text x="64.6" y="212.73" text-anchor="end">Th17 cells</text><text transform="translate(239.33 39.6) rotate(-90)">Th17 cells</text><text x="64.6" y="220.68" text-anchor="end">Th2 cells</text><text transform="translate(247.28 39.6) rotate(-90)">Th2 cells</text><text x="64.6" y="228.62" text-anchor="end">TReg</text><text transform="translate(255.22 39.6) rotate(-90)">TReg</text></g>
<defs><linearGradient id="cb" x1="0" y1="0" x2="0" y2="1"><stop offset="0.000" stop-color="#053061"/><stop offset="0.100" stop-color="#2166AC"/><stop offset="0.200" stop-color="#4393C3"/><stop offset="0.300" stop-color="#92C5DE"/><stop offset="0.400" stop-color="#D1E5F0"/><stop offset="0.500" stop-color="#FFFFFF"/><stop offset="0.600" stop-color="#FDDBC7"/><stop offset="0.700" stop-color="#F4A582"/><stop offset="0.800" stop-color="#D6604D"/><stop offset="0.900" stop-color="#B2182B"/><stop offset="1.000" stop-color="#67001F"/></linearGradient></defs>
<rect x="260.1" y="40.90" width="7.3" height="190.80" fill="url(#cb)" stroke="#ddd" stroke-width="0.3"/>
<g font-family="Liberation Sans, Arial, sans-serif" font-size="2.4" fill="#222"><path d="M267.4 40.90h1.2" stroke="#888" stroke-width="0.3"/><text x="274.4" y="41.70">1</text><path d="M267.4 59.98h1.2" stroke="#888" stroke-width="0.3"/><text x="274.4" y="60.78">0.8</text><path d="M267.4 79.06h1.2" stroke="#888" stroke-width="0.3"/><text x="274.4" y="79.86">0.6</text><path d="M267.4 98.14h1.2" stroke="#888" stroke-width="0.3"/><text x="274.4" y="98.94">0.4</text><path d="M267.4 117.22h1.2" stroke="#888" stroke-width="0.3"/><text x="274.4" y="118.02">0.2</text><path d="M267.4 136.30h1.2" stroke="#888" stroke-width="0.3"/><text x="274.4" y="137.10">0</text><path d="M267.4 155.38h1.2" stroke="#888" stroke-width="0.3"/><text x="274.4" y="156.18">-0.2</text><path d="M267.4 174.46h1.2" stroke="#888" stroke-width="0.3"/><text x="274.4" y="175.26">-0.4</text><path d="M267.4 193.54h1.2" stroke="#888" stroke-width="0.3"/><text x="274.4" y="194.34">-0.6</text><path d="M267.4 212.62h1.2" stroke="#888" stroke-width="0.3"/><text x="274.4" y="213.42">-0.8</text><path d="M267.4 231.70h1.2" stroke="#888" stroke-width="0.3"/><text x="274.4" y="232.50">-1</text></g>
</g>
<g id="panelB">
<text x="288" y="31.8" font-family="Liberation Serif, Times New Roman, serif" font-weight="bold" font-size="22.5" fill="#000">B</text>
<g fill="none" stroke="#777777"><path d="M432.50 70.20A9.14 9.14 0 0 0 450.00 74.90" stroke-opacity="0.53" stroke-width="0.57"/><path d="M432.50 70.20A18.93 18.93 0 0 0 466.20 84.40" stroke-opacity="0.45" stroke-width="0.50"/><path d="M432.50 70.20A29.08 29.08 0 0 0 478.90 97.30" stroke-opacity="0.56" stroke-width="0.60"/><path d="M432.50 70.20A40.52 40.52 0 0 0 488.20 112.90" stroke-opacity="0.52" stroke-width="0.71"/><path d="M432.50 70.20A54.10 54.10 0 0 0 493.20 130.90" stroke-opacity="0.48" stroke-width="0.67"/><path d="M432.50 70.20A70.46 70.46 0 0 0 493.10 149.30" stroke-opacity="0.42" stroke-width="0.60"/><path d="M432.50 70.20A91.80 91.80 0 0 0 488.20 167.10" stroke-opacity="0.46" stroke-width="0.64"/><path d="M432.50 70.20A121.90 121.90 0 0 0 479.20 182.80" stroke-opacity="0.49" stroke-width="0.65"/><path d="M432.50 70.20A170.10 170.10 0 0 0 466.40 195.90" stroke-opacity="0.39" stroke-width="0.55"/><path d="M432.50 70.20A535.53 535.53 0 0 0 432.70 210.00" stroke-opacity="0.50" stroke-width="0.64"/><path d="M432.50 70.20L413.80 210.00" stroke-opacity="0.52" stroke-width="0.64"/><path d="M432.50 70.20A535.61 535.61 0 0 1 396.10 205.20" stroke-opacity="0.47" stroke-width="0.60"/><path d="M432.50 70.20A262.73 262.73 0 0 1 380.10 195.70" stroke-opacity="0.42" stroke-width="0.56"/><path d="M432.50 70.20A169.45 169.45 0 0 1 367.80 182.60" stroke-opacity="0.40" stroke-width="0.56"/><path d="M432.50 70.20A121.65 121.65 0 0 1 358.30 166.60" stroke-opacity="0.40" stroke-width="0.56"/><path d="M432.50 70.20A93.93 93.93 0 0 1 350.00 149.40" stroke-opacity="0.37" stroke-width="0.55"/><path d="M432.50 70.20A70.33 70.33 0 0 1 353.70 130.90" stroke-opacity="0.46" stroke-width="0.64"/><path d="M432.50 70.20A54.03 54.03 0 0 1 358.40 113.30" stroke-opacity="0.40" stroke-width="0.59"/><path d="M432.50 70.20A40.73 40.73 0 0 1 367.50 97.60" stroke-opacity="0.38" stroke-width="0.57"/><path d="M432.50 70.20A29.10 29.10 0 0 1 380.70 84.60" stroke-opacity="0.50" stroke-width="0.55"/><path d="M432.50 70.20A18.98 18.98 0 0 1 396.20 75.40" stroke-opacity="0.47" stroke-width="0.52"/><path d="M432.50 70.20A9.23 9.23 0 0 1 414.20 70.70" stroke-opacity="0.50" stroke-width="0.55"/><path d="M450.00 74.90A9.47 9.47 0 0 0 466.20 84.40" stroke-opacity="0.59" stroke-width="0.64"/><path d="M450.00 74.90A18.93 18.93 0 0 0 478.90 97.30" stroke-opacity="0.59" stroke-width="0.64"/><path d="M450.00 74.90A29.16 29.16 0 0 0 488.20 112.90" stroke-opacity="0.48" stroke-width="0.53"/><path d="M450.00 74.90A40.83 40.83 0 0 0 493.20 130.90" stroke-opacity="0.52" stroke-width="0.71"/><path d="M450.00 74.90A54.19 54.19 0 0 0 493.10 149.30" stroke-opacity="0.51" stroke-width="0.70"/><path d="M450.00 74.90A70.57 70.57 0 0 0 488.20 167.10" stroke-opacity="0.54" stroke-width="0.72"/><path d="M450.00 74.90A91.81 91.81 0 0 0 479.20 182.80" stroke-opacity="0.49" stroke-width="0.67"/><path d="M450.00 74.90A122.11 122.11 0 0 0 466.40 195.90" stroke-opacity="0.47" stroke-width="0.64"/><path d="M450.00 74.90A170.25 170.25 0 0 0 450.60 205.20" stroke-opacity="0.51" stroke-width="0.67"/><path d="M450.00 74.90A263.12 263.12 0 0 0 432.70 210.00" stroke-opacity="0.52" stroke-width="0.67"/><path d="M450.00 74.90A535.78 535.78 0 0 0 413.80 210.00" stroke-opacity="0.44" stroke-width="0.57"/><path d="M450.00 74.90L396.10 205.20" stroke-opacity="0.44" stroke-width="0.56"/><path d="M450.00 74.90A534.63 534.63 0 0 1 380.10 195.70" stroke-opacity="0.53" stroke-width="0.67"/><path d="M450.00 74.90A261.74 261.74 0 0 1 367.80 182.60" stroke-opacity="0.40" stroke-width="0.55"/><path d="M450.00 74.90A124.70 124.70 0 0 1 350.00 149.40" stroke-opacity="0.44" stroke-width="0.60"/><path d="M450.00 74.90A53.93 53.93 0 0 1 367.50 97.60" stroke-opacity="0.37" stroke-width="0.56"/><path d="M450.00 74.90A29.12 29.12 0 0 1 396.20 75.40" stroke-opacity="0.52" stroke-width="0.56"/><path d="M450.00 74.90A18.66 18.66 0 0 1 414.20 70.70" stroke-opacity="0.50" stroke-width="0.55"/><path d="M466.20 84.40A9.13 9.13 0 0 0 478.90 97.30" stroke-opacity="0.50" stroke-width="0.55"/><path d="M466.20 84.40A18.64 18.64 0 0 0 488.20 112.90" stroke-opacity="0.53" stroke-width="0.57"/><path d="M466.20 84.40A29.10 29.10 0 0 0 493.20 130.90" stroke-opacity="0.56" stroke-width="0.60"/><path d="M466.20 84.40A40.56 40.56 0 0 0 493.10 149.30" stroke-opacity="0.41" stroke-width="0.60"/><path d="M466.20 84.40A53.93 53.93 0 0 0 488.20 167.10" stroke-opacity="0.40" stroke-width="0.59"/><path d="M466.20 84.40A70.18 70.18 0 0 0 479.20 182.80" stroke-opacity="0.38" stroke-width="0.56"/><path d="M466.20 84.40A91.58 91.58 0 0 0 466.40 195.90" stroke-opacity="0.45" stroke-width="0.62"/><path d="M466.20 84.40A121.80 121.80 0 0 0 450.60 205.20" stroke-opacity="0.41" stroke-width="0.57"/><path d="M466.20 84.40A169.84 169.84 0 0 0 432.70 210.00" stroke-opacity="0.43" stroke-width="0.59"/><path d="M466.20 84.40A262.91 262.91 0 0 0 413.80 210.00" stroke-opacity="0.40" stroke-width="0.55"/><path d="M466.20 84.40A535.01 535.01 0 0 0 396.10 205.20" stroke-opacity="0.41" stroke-width="0.55"/><path d="M466.20 84.40L380.10 195.70" stroke-opacity="0.52" stroke-width="0.64"/><path d="M466.20 84.40A532.53 532.53 0 0 1 367.80 182.60" stroke-opacity="0.43" stroke-width="0.56"/><path d="M466.20 84.40A262.04 262.04 0 0 1 358.30 166.60" stroke-opacity="0.42" stroke-width="0.56"/><path d="M466.20 84.40A173.96 173.96 0 0 1 350.00 149.40" stroke-opacity="0.43" stroke-width="0.59"/><path d="M466.20 84.40A121.73 121.73 0 0 1 353.70 130.90" stroke-opacity="0.41" stroke-width="0.57"/><path d="M466.20 84.40A91.67 91.67 0 0 1 358.40 113.30" stroke-opacity="0.40" stroke-width="0.57"/><path d="M466.20 84.40A53.89 53.89 0 0 1 380.70 84.60" stroke-opacity="0.42" stroke-width="0.60"/><path d="M466.20 84.40A29.10 29.10 0 0 1 414.20 70.70" stroke-opacity="0.47" stroke-width="0.52"/><path d="M478.90 97.30A9.16 9.16 0 0 0 488.20 112.90" stroke-opacity="0.50" stroke-width="0.55"/><path d="M478.90 97.30A18.90 18.90 0 0 0 493.20 130.90" stroke-opacity="0.57" stroke-width="0.62"/><path d="M478.90 97.30A29.17 29.17 0 0 0 493.10 149.30" stroke-opacity="0.53" stroke-width="0.57"/><path d="M478.90 97.30A40.66 40.66 0 0 0 488.20 167.10" stroke-opacity="0.46" stroke-width="0.65"/><path d="M478.90 97.30A53.89 53.89 0 0 0 479.20 182.80" stroke-opacity="0.37" stroke-width="0.56"/><path d="M478.90 97.30A70.28 70.28 0 0 0 466.40 195.90" stroke-opacity="0.40" stroke-width="0.57"/><path d="M478.90 97.30A91.62 91.62 0 0 0 450.60 205.20" stroke-opacity="0.39" stroke-width="0.56"/><path d="M478.90 97.30A170.05 170.05 0 0 0 413.80 210.00" stroke-opacity="0.43" stroke-width="0.59"/><path d="M478.90 97.30A262.75 262.75 0 0 0 396.10 205.20" stroke-opacity="0.40" stroke-width="0.55"/><path d="M478.90 97.30A534.15 534.15 0 0 0 380.10 195.70" stroke-opacity="0.49" stroke-width="0.62"/><path d="M478.90 97.30L367.80 182.60" stroke-opacity="0.47" stroke-width="0.59"/><path d="M478.90 97.30A532.82 532.82 0 0 1 358.30 166.60" stroke-opacity="0.46" stroke-width="0.59"/><path d="M478.90 97.30A169.37 169.37 0 0 1 353.70 130.90" stroke-opacity="0.45" stroke-width="0.60"/><path d="M478.90 97.30A91.50 91.50 0 0 1 367.50 97.60" stroke-opacity="0.42" stroke-width="0.59"/><path d="M488.20 112.90A9.42 9.42 0 0 0 493.20 130.90" stroke-opacity="0.51" stroke-width="0.56"/><path d="M488.20 112.90A19.01 19.01 0 0 0 493.10 149.30" stroke-opacity="0.54" stroke-width="0.59"/><path d="M488.20 112.90A29.33 29.33 0 0 0 488.20 167.10" stroke-opacity="0.56" stroke-width="0.60"/><path d="M488.20 112.90A40.69 40.69 0 0 0 479.20 182.80" stroke-opacity="0.43" stroke-width="0.62"/><path d="M488.20 112.90A91.86 91.86 0 0 0 432.70 210.00" stroke-opacity="0.40" stroke-width="0.57"/><path d="M488.20 112.90A122.33 122.33 0 0 0 413.80 210.00" stroke-opacity="0.43" stroke-width="0.59"/><path d="M488.20 112.90A170.36 170.36 0 0 0 396.10 205.20" stroke-opacity="0.40" stroke-width="0.56"/><path d="M488.20 112.90L358.30 166.60" stroke-opacity="0.42" stroke-width="0.55"/><path d="M488.20 112.90A547.55 547.55 0 0 1 350.00 149.40" stroke-opacity="0.47" stroke-width="0.60"/><path d="M488.20 112.90A262.15 262.15 0 0 1 353.70 130.90" stroke-opacity="0.54" stroke-width="0.68"/><path d="M488.20 112.90A169.59 169.59 0 0 1 358.40 113.30" stroke-opacity="0.48" stroke-width="0.64"/><path d="M488.20 112.90A91.30 91.30 0 0 1 380.70 84.60" stroke-opacity="0.42" stroke-width="0.59"/><path d="M488.20 112.90A53.69 53.69 0 0 1 414.20 70.70" stroke-opacity="0.36" stroke-width="0.55"/><path d="M493.20 130.90A9.28 9.28 0 0 0 493.10 149.30" stroke-opacity="0.59" stroke-width="0.64"/><path d="M493.20 130.90A18.92 18.92 0 0 0 488.20 167.10" stroke-opacity="0.66" stroke-width="0.71"/><path d="M493.20 130.90A29.09 29.09 0 0 0 479.20 182.80" stroke-opacity="0.65" stroke-width="0.70"/><path d="M493.20 130.90A40.59 40.59 0 0 0 466.40 195.90" stroke-opacity="0.44" stroke-width="0.64"/><path d="M493.20 130.90A53.98 53.98 0 0 0 450.60 205.20" stroke-opacity="0.48" stroke-width="0.67"/><path d="M493.20 130.90A70.42 70.42 0 0 0 432.70 210.00" stroke-opacity="0.52" stroke-width="0.70"/><path d="M493.20 130.90A92.05 92.05 0 0 0 413.80 210.00" stroke-opacity="0.43" stroke-width="0.60"/><path d="M493.20 130.90A122.27 122.27 0 0 0 396.10 205.20" stroke-opacity="0.44" stroke-width="0.60"/><path d="M493.20 130.90A170.31 170.31 0 0 0 380.10 195.70" stroke-opacity="0.49" stroke-width="0.65"/><path d="M493.20 130.90A262.04 262.04 0 0 0 367.80 182.60" stroke-opacity="0.45" stroke-width="0.59"/><path d="M493.20 130.90A534.54 534.54 0 0 0 358.30 166.60" stroke-opacity="0.44" stroke-width="0.57"/><path d="M493.20 130.90L350.00 149.40" stroke-opacity="0.46" stroke-width="0.57"/><path d="M493.20 130.90A262.62 262.62 0 0 1 358.40 113.30" stroke-opacity="0.42" stroke-width="0.56"/><path d="M493.10 149.30A9.31 9.31 0 0 0 488.20 167.10" stroke-opacity="0.59" stroke-width="0.64"/><path d="M493.10 149.30A18.77 18.77 0 0 0 479.20 182.80" stroke-opacity="0.51" stroke-width="0.56"/><path d="M493.10 149.30A29.07 29.07 0 0 0 466.40 195.90" stroke-opacity="0.57" stroke-width="0.62"/><path d="M493.10 149.30A40.54 40.54 0 0 0 450.60 205.20" stroke-opacity="0.41" stroke-width="0.60"/><path d="M493.10 149.30A53.97 53.97 0 0 0 432.70 210.00" stroke-opacity="0.42" stroke-width="0.60"/><path d="M493.10 149.30A70.62 70.62 0 0 0 413.80 210.00" stroke-opacity="0.38" stroke-width="0.56"/><path d="M493.10 149.30A91.95 91.95 0 0 0 396.10 205.20" stroke-opacity="0.37" stroke-width="0.55"/><path d="M493.10 149.30A122.16 122.16 0 0 0 380.10 195.70" stroke-opacity="0.43" stroke-width="0.59"/><path d="M493.10 149.30A169.40 169.40 0 0 0 367.80 182.60" stroke-opacity="0.43" stroke-width="0.59"/><path d="M493.10 149.30A534.10 534.10 0 0 1 358.40 113.30" stroke-opacity="0.41" stroke-width="0.55"/><path d="M493.10 149.30A169.45 169.45 0 0 1 380.70 84.60" stroke-opacity="0.39" stroke-width="0.55"/><path d="M493.10 149.30A91.47 91.47 0 0 1 414.20 70.70" stroke-opacity="0.40" stroke-width="0.57"/><path d="M488.20 167.10A9.13 9.13 0 0 0 479.20 182.80" stroke-opacity="0.59" stroke-width="0.64"/><path d="M488.20 167.10A18.70 18.70 0 0 0 466.40 195.90" stroke-opacity="0.53" stroke-width="0.57"/><path d="M488.20 167.10A28.97 28.97 0 0 0 450.60 205.20" stroke-opacity="0.56" stroke-width="0.60"/><path d="M488.20 167.10A40.50 40.50 0 0 0 432.70 210.00" stroke-opacity="0.40" stroke-width="0.59"/><path d="M488.20 167.10A54.13 54.13 0 0 0 413.80 210.00" stroke-opacity="0.42" stroke-width="0.60"/><path d="M488.20 167.10A70.48 70.48 0 0 0 396.10 205.20" stroke-opacity="0.38" stroke-width="0.56"/><path d="M488.20 167.10A91.84 91.84 0 0 0 380.10 195.70" stroke-opacity="0.46" stroke-width="0.64"/><path d="M488.20 167.10A533.56 533.56 0 0 0 353.70 130.90" stroke-opacity="0.44" stroke-width="0.57"/><path d="M488.20 167.10A169.72 169.72 0 0 1 396.20 75.40" stroke-opacity="0.39" stroke-width="0.55"/><path d="M488.20 167.10A121.53 121.53 0 0 1 414.20 70.70" stroke-opacity="0.43" stroke-width="0.59"/><path d="M479.20 182.80A9.24 9.24 0 0 0 466.40 195.90" stroke-opacity="0.59" stroke-width="0.64"/><path d="M479.20 182.80A18.80 18.80 0 0 0 450.60 205.20" stroke-opacity="0.53" stroke-width="0.57"/><path d="M479.20 182.80A29.15 29.15 0 0 0 432.70 210.00" stroke-opacity="0.67" stroke-width="0.71"/><path d="M479.20 182.80A40.89 40.89 0 0 0 413.80 210.00" stroke-opacity="0.38" stroke-width="0.57"/><path d="M479.20 182.80A54.24 54.24 0 0 0 396.10 205.20" stroke-opacity="0.45" stroke-width="0.64"/><path d="M479.20 182.80A70.67 70.67 0 0 0 380.10 195.70" stroke-opacity="0.46" stroke-width="0.64"/><path d="M479.20 182.80A121.98 121.98 0 0 0 358.30 166.60" stroke-opacity="0.41" stroke-width="0.57"/><path d="M479.20 182.80A262.36 262.36 0 0 0 353.70 130.90" stroke-opacity="0.46" stroke-width="0.60"/><path d="M466.40 195.90A9.25 9.25 0 0 0 450.60 205.20" stroke-opacity="0.54" stroke-width="0.59"/><path d="M466.40 195.90A18.91 18.91 0 0 0 432.70 210.00" stroke-opacity="0.62" stroke-width="0.67"/><path d="M466.40 195.90A29.47 29.47 0 0 0 413.80 210.00" stroke-opacity="0.55" stroke-width="0.59"/><path d="M466.40 195.90A40.94 40.94 0 0 0 396.10 205.20" stroke-opacity="0.41" stroke-width="0.60"/><path d="M466.40 195.90A54.39 54.39 0 0 0 380.10 195.70" stroke-opacity="0.46" stroke-width="0.65"/><path d="M466.40 195.90A70.35 70.35 0 0 0 367.80 182.60" stroke-opacity="0.41" stroke-width="0.59"/><path d="M466.40 195.90A91.99 91.99 0 0 0 358.30 166.60" stroke-opacity="0.49" stroke-width="0.67"/><path d="M466.40 195.90A125.34 125.34 0 0 0 350.00 149.40" stroke-opacity="0.43" stroke-width="0.59"/><path d="M466.40 195.90A262.67 262.67 0 0 0 358.40 113.30" stroke-opacity="0.42" stroke-width="0.56"/><path d="M466.40 195.90L380.70 84.60" stroke-opacity="0.42" stroke-width="0.55"/><path d="M450.60 205.20A9.35 9.35 0 0 0 432.70 210.00" stroke-opacity="0.54" stroke-width="0.59"/><path d="M450.60 205.20A19.21 19.21 0 0 0 413.80 210.00" stroke-opacity="0.50" stroke-width="0.55"/><path d="M450.60 205.20A29.50 29.50 0 0 0 396.10 205.20" stroke-opacity="0.45" stroke-width="0.50"/><path d="M450.60 205.20A41.07 41.07 0 0 0 380.10 195.70" stroke-opacity="0.37" stroke-width="0.56"/><path d="M450.60 205.20A54.09 54.09 0 0 0 367.80 182.60" stroke-opacity="0.40" stroke-width="0.59"/><path d="M450.60 205.20A94.49 94.49 0 0 0 350.00 149.40" stroke-opacity="0.43" stroke-width="0.60"/><path d="M450.60 205.20A122.11 122.11 0 0 0 353.70 130.90" stroke-opacity="0.41" stroke-width="0.57"/><path d="M450.60 205.20A262.64 262.64 0 0 0 367.50 97.60" stroke-opacity="0.42" stroke-width="0.56"/><path d="M450.60 205.20A533.76 533.76 0 0 1 414.20 70.70" stroke-opacity="0.44" stroke-width="0.57"/><path d="M432.70 210.00A9.53 9.53 0 0 0 413.80 210.00" stroke-opacity="0.54" stroke-width="0.59"/><path d="M432.70 210.00A19.11 19.11 0 0 0 396.10 205.20" stroke-opacity="0.56" stroke-width="0.60"/><path d="M432.70 210.00A29.50 29.50 0 0 0 380.10 195.70" stroke-opacity="0.57" stroke-width="0.62"/><path d="M432.70 210.00A54.28 54.28 0 0 0 358.30 166.60" stroke-opacity="0.36" stroke-width="0.55"/><path d="M413.80 210.00A9.25 9.25 0 0 0 396.10 205.20" stroke-opacity="0.54" stroke-width="0.59"/><path d="M413.80 210.00A18.95 18.95 0 0 0 380.10 195.70" stroke-opacity="0.50" stroke-width="0.55"/><path d="M413.80 210.00A28.98 28.98 0 0 0 367.80 182.60" stroke-opacity="0.53" stroke-width="0.57"/><path d="M413.80 210.00A40.68 40.68 0 0 0 358.30 166.60" stroke-opacity="0.37" stroke-width="0.56"/><path d="M413.80 210.00A262.24 262.24 0 0 0 396.20 75.40" stroke-opacity="0.42" stroke-width="0.56"/><path d="M396.10 205.20A9.38 9.38 0 0 0 380.10 195.70" stroke-opacity="0.50" stroke-width="0.55"/><path d="M396.10 205.20A18.75 18.75 0 0 0 367.80 182.60" stroke-opacity="0.45" stroke-width="0.50"/><path d="M396.10 205.20A29.24 29.24 0 0 0 358.30 166.60" stroke-opacity="0.55" stroke-width="0.59"/><path d="M396.10 205.20A53.91 53.91 0 0 0 353.70 130.90" stroke-opacity="0.37" stroke-width="0.56"/><path d="M380.10 195.70A9.06 9.06 0 0 0 367.80 182.60" stroke-opacity="0.47" stroke-width="0.52"/><path d="M380.10 195.70A18.82 18.82 0 0 0 358.30 166.60" stroke-opacity="0.59" stroke-width="0.64"/><path d="M380.10 195.70A29.89 29.89 0 0 0 350.00 149.40" stroke-opacity="0.48" stroke-width="0.53"/><path d="M380.10 195.70A91.25 91.25 0 0 0 380.70 84.60" stroke-opacity="0.40" stroke-width="0.57"/><path d="M380.10 195.70A121.37 121.37 0 0 0 396.20 75.40" stroke-opacity="0.41" stroke-width="0.57"/><path d="M367.80 182.60A9.38 9.38 0 0 0 358.30 166.60" stroke-opacity="0.51" stroke-width="0.56"/><path d="M367.80 182.60A19.50 19.50 0 0 0 350.00 149.40" stroke-opacity="0.63" stroke-width="0.68"/><path d="M367.80 182.60A29.00 29.00 0 0 0 353.70 130.90" stroke-opacity="0.47" stroke-width="0.52"/><path d="M367.80 182.60A53.57 53.57 0 0 0 367.50 97.60" stroke-opacity="0.37" stroke-width="0.56"/><path d="M367.80 182.60A69.89 69.89 0 0 0 380.70 84.60" stroke-opacity="0.41" stroke-width="0.59"/><path d="M367.80 182.60A91.09 91.09 0 0 0 396.20 75.40" stroke-opacity="0.42" stroke-width="0.59"/><path d="M358.30 166.60A9.63 9.63 0 0 0 350.00 149.40" stroke-opacity="0.45" stroke-width="0.50"/><path d="M358.30 166.60A18.63 18.63 0 0 0 353.70 130.90" stroke-opacity="0.51" stroke-width="0.56"/><path d="M358.30 166.60A28.85 28.85 0 0 0 358.40 113.30" stroke-opacity="0.45" stroke-width="0.50"/><path d="M350.00 149.40A9.51 9.51 0 0 0 353.70 130.90" stroke-opacity="0.62" stroke-width="0.67"/><path d="M350.00 149.40A19.19 19.19 0 0 0 358.40 113.30" stroke-opacity="0.54" stroke-width="0.59"/><path d="M350.00 149.40A29.59 29.59 0 0 0 367.50 97.60" stroke-opacity="0.45" stroke-width="0.50"/><path d="M350.00 149.40A54.98 54.98 0 0 0 396.20 75.40" stroke-opacity="0.37" stroke-width="0.56"/><path d="M353.70 130.90A9.19 9.19 0 0 0 358.40 113.30" stroke-opacity="0.54" stroke-width="0.59"/><path d="M353.70 130.90A18.66 18.66 0 0 0 367.50 97.60" stroke-opacity="0.59" stroke-width="0.64"/><path d="M353.70 130.90A29.01 29.01 0 0 0 380.70 84.60" stroke-opacity="0.45" stroke-width="0.50"/><path d="M358.40 113.30A9.15 9.15 0 0 0 367.50 97.60" stroke-opacity="0.50" stroke-width="0.55"/><path d="M358.40 113.30A18.81 18.81 0 0 0 380.70 84.60" stroke-opacity="0.53" stroke-width="0.57"/><path d="M358.40 113.30A28.97 28.97 0 0 0 396.20 75.40" stroke-opacity="0.45" stroke-width="0.50"/><path d="M367.50 97.60A9.34 9.34 0 0 0 380.70 84.60" stroke-opacity="0.45" stroke-width="0.50"/><path d="M367.50 97.60A18.78 18.78 0 0 0 396.20 75.40" stroke-opacity="0.51" stroke-width="0.56"/><path d="M367.50 97.60A29.17 29.17 0 0 0 414.20 70.70" stroke-opacity="0.45" stroke-width="0.50"/><path d="M380.70 84.60A9.09 9.09 0 0 0 396.20 75.40" stroke-opacity="0.45" stroke-width="0.50"/><path d="M380.70 84.60A18.77 18.77 0 0 0 414.20 70.70" stroke-opacity="0.47" stroke-width="0.52"/><path d="M396.20 75.40A9.38 9.38 0 0 0 414.20 70.70" stroke-opacity="0.45" stroke-width="0.50"/></g>
<defs><linearGradient id="sg0" gradientUnits="userSpaceOnUse" x1="432.50" y1="70.20" x2="425.06" y2="126.04"><stop offset="0" stop-opacity="0.81"/><stop offset="0.5" stop-opacity="0.49"/><stop offset="1" stop-opacity="0.00"/></linearGradient><linearGradient id="sg1" gradientUnits="userSpaceOnUse" x1="450.00" y1="74.90" x2="428.56" y2="126.98"><stop offset="0" stop-opacity="0.85"/><stop offset="0.5" stop-opacity="0.51"/><stop offset="1" stop-opacity="0.00"/></linearGradient><linearGradient id="sg2" gradientUnits="userSpaceOnUse" x1="466.20" y1="84.40" x2="431.80" y2="128.88"><stop offset="0" stop-opacity="0.75"/><stop offset="0.5" stop-opacity="0.45"/><stop offset="1" stop-opacity="0.00"/></linearGradient><linearGradient id="sg3" gradientUnits="userSpaceOnUse" x1="478.90" y1="97.30" x2="434.34" y2="131.46"><stop offset="0" stop-opacity="0.72"/><stop offset="0.5" stop-opacity="0.43"/><stop offset="1" stop-opacity="0.00"/></linearGradient><linearGradient id="sg4" gradientUnits="userSpaceOnUse" x1="488.20" y1="112.90" x2="436.20" y2="134.58"><stop offset="0" stop-opacity="0.75"/><stop offset="0.5" stop-opacity="0.45"/><stop offset="1" stop-opacity="0.00"/></linearGradient><linearGradient id="sg5" gradientUnits="userSpaceOnUse" x1="493.20" y1="130.90" x2="437.20" y2="138.18"><stop offset="0" stop-opacity="0.66"/><stop offset="0.5" stop-opacity="0.40"/><stop offset="1" stop-opacity="0.00"/></linearGradient><linearGradient id="sg6" gradientUnits="userSpaceOnUse" x1="493.10" y1="149.30" x2="437.18" y2="141.86"><stop offset="0" stop-opacity="0.66"/><stop offset="0.5" stop-opacity="0.40"/><stop offset="1" stop-opacity="0.00"/></linearGradient><linearGradient id="sg7" gradientUnits="userSpaceOnUse" x1="488.20" y1="167.10" x2="436.20" y2="145.42"><stop offset="0" stop-opacity="0.66"/><stop offset="0.5" stop-opacity="0.40"/><stop offset="1" stop-opacity="0.00"/></linearGradient><linearGradient id="sg8" gradientUnits="userSpaceOnUse" x1="479.20" y1="182.80" x2="434.40" y2="148.56"><stop offset="0" stop-opacity="0.72"/><stop offset="0.5" stop-opacity="0.43"/><stop offset="1" stop-opacity="0.00"/></linearGradient><linearGradient id="sg9" gradientUnits="userSpaceOnUse" x1="466.40" y1="195.90" x2="431.84" y2="151.18"><stop offset="0" stop-opacity="0.72"/><stop offset="0.5" stop-opacity="0.43"/><stop offset="1" stop-opacity="0.00"/></linearGradient><linearGradient id="sg10" gradientUnits="userSpaceOnUse" x1="450.60" y1="205.20" x2="428.68" y2="153.04"><stop offset="0" stop-opacity="0.72"/><stop offset="0.5" stop-opacity="0.43"/><stop offset="1" stop-opacity="0.00"/></linearGradient><linearGradient id="sg11" gradientUnits="userSpaceOnUse" x1="432.70" y1="210.00" x2="425.10" y2="154.00"><stop offset="0" stop-opacity="0.75"/><stop offset="0.5" stop-opacity="0.45"/><stop offset="1" stop-opacity="0.00"/></linearGradient><linearGradient id="sg12" gradientUnits="userSpaceOnUse" x1="413.80" y1="210.00" x2="421.32" y2="154.00"><stop offset="0" stop-opacity="0.72"/><stop offset="0.5" stop-opacity="0.43"/><stop offset="1" stop-opacity="0.00"/></linearGradient><linearGradient id="sg13" gradientUnits="userSpaceOnUse" x1="396.10" y1="205.20" x2="417.78" y2="153.04"><stop offset="0" stop-opacity="0.66"/><stop offset="0.5" stop-opacity="0.40"/><stop offset="1" stop-opacity="0.00"/></linearGradient><linearGradient id="sg14" gradientUnits="userSpaceOnUse" x1="380.10" y1="195.70" x2="414.58" y2="151.14"><stop offset="0" stop-opacity="0.66"/><stop offset="0.5" stop-opacity="0.40"/><stop offset="1" stop-opacity="0.00"/></linearGradient><linearGradient id="sg15" gradientUnits="userSpaceOnUse" x1="367.80" y1="182.60" x2="412.12" y2="148.52"><stop offset="0" stop-opacity="0.66"/><stop offset="0.5" stop-opacity="0.40"/><stop offset="1" stop-opacity="0.00"/></linearGradient><linearGradient id="sg16" gradientUnits="userSpaceOnUse" x1="358.30" y1="166.60" x2="410.22" y2="145.32"><stop offset="0" stop-opacity="0.54"/><stop offset="0.5" stop-opacity="0.33"/><stop offset="1" stop-opacity="0.00"/></linearGradient><linearGradient id="sg17" gradientUnits="userSpaceOnUse" x1="350.00" y1="149.40" x2="408.56" y2="141.88"><stop offset="0" stop-opacity="0.57"/><stop offset="0.5" stop-opacity="0.34"/><stop offset="1" stop-opacity="0.00"/></linearGradient><linearGradient id="sg18" gradientUnits="userSpaceOnUse" x1="353.70" y1="130.90" x2="409.30" y2="138.18"><stop offset="0" stop-opacity="0.60"/><stop offset="0.5" stop-opacity="0.36"/><stop offset="1" stop-opacity="0.00"/></linearGradient><linearGradient id="sg19" gradientUnits="userSpaceOnUse" x1="358.40" y1="113.30" x2="410.24" y2="134.66"><stop offset="0" stop-opacity="0.42"/><stop offset="0.5" stop-opacity="0.26"/><stop offset="1" stop-opacity="0.00"/></linearGradient><linearGradient id="sg20" gradientUnits="userSpaceOnUse" x1="367.50" y1="97.60" x2="412.06" y2="131.52"><stop offset="0" stop-opacity="0.40"/><stop offset="0.5" stop-opacity="0.24"/><stop offset="1" stop-opacity="0.00"/></linearGradient><linearGradient id="sg21" gradientUnits="userSpaceOnUse" x1="380.70" y1="84.60" x2="414.70" y2="128.92"><stop offset="0" stop-opacity="0.40"/><stop offset="0.5" stop-opacity="0.24"/><stop offset="1" stop-opacity="0.00"/></linearGradient><linearGradient id="sg22" gradientUnits="userSpaceOnUse" x1="396.20" y1="75.40" x2="417.80" y2="127.08"><stop offset="0" stop-opacity="0.28"/><stop offset="0.5" stop-opacity="0.17"/><stop offset="1" stop-opacity="0.00"/></linearGradient><linearGradient id="sg23" gradientUnits="userSpaceOnUse" x1="414.20" y1="70.70" x2="421.40" y2="126.14"><stop offset="0" stop-opacity="0.13"/><stop offset="0.5" stop-opacity="0.08"/><stop offset="1" stop-opacity="0.00"/></linearGradient></defs>
<defs><radialGradient id="cdg" cx="423.20" cy="140.00" r="34" gradientUnits="userSpaceOnUse"><stop offset="0" stop-color="#808080" stop-opacity="0.12"/><stop offset="0.6" stop-color="#808080" stop-opacity="0.07"/><stop offset="1" stop-color="#808080" stop-opacity="0"/></radialGradient></defs>
<circle cx="423.20" cy="140.00" r="34" fill="url(#cdg)"/>
<g fill="none" stroke-linecap="round"><path d="M432.50 70.20L425.06 126.04" stroke="url(#sg0)" stroke-width="0.91"/><path d="M450.00 74.90L428.56 126.98" stroke="url(#sg1)" stroke-width="0.95"/><path d="M466.20 84.40L431.80 128.88" stroke="url(#sg2)" stroke-width="0.87"/><path d="M478.90 97.30L434.34 131.46" stroke="url(#sg3)" stroke-width="0.85"/><path d="M488.20 112.90L436.20 134.58" stroke="url(#sg4)" stroke-width="0.87"/><path d="M493.20 130.90L437.20 138.18" stroke="url(#sg5)" stroke-width="0.81"/><path d="M493.10 149.30L437.18 141.86" stroke="url(#sg6)" stroke-width="0.81"/><path d="M488.20 167.10L436.20 145.42" stroke="url(#sg7)" stroke-width="0.81"/><path d="M479.20 182.80L434.40 148.56" stroke="url(#sg8)" stroke-width="0.85"/><path d="M466.40 195.90L431.84 151.18" stroke="url(#sg9)" stroke-width="0.85"/><path d="M450.60 205.20L428.68 153.04" stroke="url(#sg10)" stroke-width="0.85"/><path d="M432.70 210.00L425.10 154.00" stroke="url(#sg11)" stroke-width="0.87"/><path d="M413.80 210.00L421.32 154.00" stroke="url(#sg12)" stroke-width="0.85"/><path d="M396.10 205.20L417.78 153.04" stroke="url(#sg13)" stroke-width="0.81"/><path d="M380.10 195.70L414.58 151.14" stroke="url(#sg14)" stroke-width="0.81"/><path d="M367.80 182.60L412.12 148.52" stroke="url(#sg15)" stroke-width="0.81"/><path d="M358.30 166.60L410.22 145.32" stroke="url(#sg16)" stroke-width="0.73"/><path d="M350.00 149.40L408.56 141.88" stroke="url(#sg17)" stroke-width="0.75"/><path d="M353.70 130.90L409.30 138.18" stroke="url(#sg18)" stroke-width="0.77"/><path d="M358.40 113.30L410.24 134.66" stroke="url(#sg19)" stroke-width="0.65"/><path d="M367.50 97.60L412.06 131.52" stroke="url(#sg20)" stroke-width="0.63"/><path d="M380.70 84.60L414.70 128.92" stroke="url(#sg21)" stroke-width="0.63"/><path d="M396.20 75.40L417.80 127.08" stroke="url(#sg22)" stroke-width="0.55"/><path d="M414.20 70.70L421.40 126.14" stroke="url(#sg23)" stroke-width="0.35"/></g>
<g><circle cx="432.50" cy="70.20" r="3.80" fill="#a0808f" stroke="#4a4a4a" stroke-width="0.6"/><circle cx="450.00" cy="74.90" r="4.00" fill="#8fb5c8" stroke="#4a4a4a" stroke-width="0.6"/><circle cx="466.20" cy="84.40" r="3.60" fill="#e8141c" stroke="#4a4a4a" stroke-width="0.6"/><circle cx="478.90" cy="97.30" r="3.50" fill="#7aaac6" stroke="#4a4a4a" stroke-width="0.6"/><circle cx="488.20" cy="112.90" r="3.60" fill="#22b2b6" stroke="#4a4a4a" stroke-width="0.6"/><circle cx="493.20" cy="130.90" r="3.30" fill="#985640" stroke="#4a4a4a" stroke-width="0.6"/><circle cx="493.10" cy="149.30" r="3.30" fill="#b88080" stroke="#4a4a4a" stroke-width="0.6"/><circle cx="488.20" cy="167.10" r="3.30" fill="#3ec0d2" stroke="#4a4a4a" stroke-width="0.6"/><circle cx="479.20" cy="182.80" r="3.50" fill="#1c9090" stroke="#4a4a4a" stroke-width="0.6"/><circle cx="466.40" cy="195.90" r="3.50" fill="#d8443a" stroke="#4a4a4a" stroke-width="0.6"/><circle cx="450.60" cy="205.20" r="3.50" fill="#f0604a" stroke="#4a4a4a" stroke-width="0.6"/><circle cx="432.70" cy="210.00" r="3.60" fill="#2e6e9e" stroke="#4a4a4a" stroke-width="0.6"/><circle cx="413.80" cy="210.00" r="3.50" fill="#d42a2a" stroke="#4a4a4a" stroke-width="0.6"/><circle cx="396.10" cy="205.20" r="3.30" fill="#5566a8" stroke="#4a4a4a" stroke-width="0.6"/><circle cx="380.10" cy="195.70" r="3.30" fill="#e8908a" stroke="#4a4a4a" stroke-width="0.6"/><circle cx="367.80" cy="182.60" r="3.30" fill="#a89a8a" stroke="#4a4a4a" stroke-width="0.6"/><circle cx="358.30" cy="166.60" r="2.90" fill="#a890b0" stroke="#4a4a4a" stroke-width="0.6"/><circle cx="350.00" cy="149.40" r="3.00" fill="#7dd4c8" stroke="#4a4a4a" stroke-width="0.6"/><circle cx="353.70" cy="130.90" r="3.10" fill="#9e8068" stroke="#4a4a4a" stroke-width="0.6"/><circle cx="358.40" cy="113.30" r="2.50" fill="#7b6450" stroke="#4a4a4a" stroke-width="0.6"/><circle cx="367.50" cy="97.60" r="2.40" fill="#1a9a85" stroke="#4a4a4a" stroke-width="0.6"/><circle cx="380.70" cy="84.60" r="2.40" fill="#e07b65" stroke="#4a4a4a" stroke-width="0.6"/><circle cx="396.20" cy="75.40" r="2.00" fill="#6070a0" stroke="#4a4a4a" stroke-width="0.6"/><circle cx="414.20" cy="70.70" r="1.00" fill="#333333" stroke="#4a4a4a" stroke-width="0.6"/></g>
<clipPath id="bclip"><rect x="280" y="0" width="270" height="242.6"/></clipPath>
<g font-family="Liberation Sans, Arial, sans-serif" font-size="4.5" font-weight="bold" clip-path="url(#bclip)"><text transform="translate(433.87 59.89) rotate(-82.4)" fill="#a0808f" dy="1.6">Neutrophils</text><text transform="translate(454.04 65.10) rotate(-67.6)" fill="#8fb5c8" dy="1.6">T.cells</text><text transform="translate(472.44 76.33) rotate(-52.3)" fill="#e8141c" dy="1.6">TFH</text><text transform="translate(486.92 91.16) rotate(-37.5)" fill="#7aaac6" dy="1.6">CD8.T.cells</text><text transform="translate(497.61 108.97) rotate(-22.6)" fill="#22b2b6" dy="1.6">DC</text><text transform="translate(503.02 129.62) rotate(-7.4)" fill="#985640" dy="1.6">Th1.cells</text><text transform="translate(502.91 150.61) rotate(7.6)" fill="#b88080" dy="1.6">Bcells</text><text transform="translate(497.34 170.91) rotate(22.6)" fill="#3ec0d2" dy="1.6">Cytotoxic.cells</text><text transform="translate(487.22 188.93) rotate(37.4)" fill="#1c9090" dy="1.6">iDC</text><text transform="translate(472.58 203.89) rotate(52.3)" fill="#d8443a" dy="1.6">Tem</text><text transform="translate(454.51 214.51) rotate(67.2)" fill="#f0604a" dy="1.6">aDC</text><text transform="translate(434.07 220.11) rotate(82.3)" fill="#2e6e9e" dy="1.6">Macrophages</text><text transform="translate(412.89 216.74) rotate(277.6)" fill="#d42a2a" dy="1.6" text-anchor="end">Tgd</text><text transform="translate(393.57 211.29) rotate(292.6)" fill="#5566a8" dy="1.6" text-anchor="end">Mast.cells</text><text transform="translate(376.06 200.92) rotate(307.7)" fill="#e8908a" dy="1.6" text-anchor="end">NK.CD56dim.cells</text><text transform="translate(362.57 186.62) rotate(322.4)" fill="#a89a8a" dy="1.6" text-anchor="end">Tcm</text><text transform="translate(352.56 168.95) rotate(337.7)" fill="#a890b0" dy="1.6" text-anchor="end">NK.cells</text><text transform="translate(343.75 150.20) rotate(352.7)" fill="#7dd4c8" dy="1.6" text-anchor="end">T.helper.cells</text><text transform="translate(347.35 130.07) rotate(7.5)" fill="#9e8068" dy="1.6" text-anchor="end">Th2.cells</text><text transform="translate(353.04 111.09) rotate(22.4)" fill="#7b6450" dy="1.6" text-anchor="end">Th17.cells</text><text transform="translate(362.96 94.15) rotate(37.3)" fill="#1a9a85" dy="1.6" text-anchor="end">Eosinophils</text><text transform="translate(377.23 80.08) rotate(52.5)" fill="#e07b65" dy="1.6" text-anchor="end">NK.CD56bright.cells</text><text transform="translate(394.16 70.51) rotate(67.3)" fill="#7585bb" dy="1.6" text-anchor="end">pDC</text><text transform="translate(413.65 66.44) rotate(82.6)" fill="#c0a070" dy="1.6" text-anchor="end">TReg</text></g>
</g>
<g id="legend">
<rect x="276.1" y="243.7" width="7.6" height="7.6" fill="#28337e" stroke="#1a1a1a" stroke-width="0.6"/>
<rect x="278.9" y="246.5" width="2" height="2" fill="#fff"/>
<rect x="300.9" y="243.7" width="7.6" height="7.6" fill="#d80000" stroke="#1a1a1a" stroke-width="0.6"/>
<path d="M302.7 244v7M306.7 244v7" stroke="#400" stroke-width="0.4"/>
<rect x="303.7" y="246.5" width="2" height="2" fill="#fff"/>
<text x="287" y="249.6" font-family="Liberation Sans, Arial, sans-serif" font-size="5" fill="#333">High</text>
<text x="312" y="249.6" font-family="Liberation Sans, Arial, sans-serif" font-size="5" fill="#333">Low</text>
</g>
<g id="panelC">
<text x="19.5" y="279.4" font-family="Liberation Serif, Times New Roman, serif" font-weight="bold" font-size="22.5" fill="#000">C</text>
<rect x="64.30" y="261.50" width="465.30" height="190.60" fill="none" stroke="#777" stroke-width="0.9"/>
<g font-family="Liberation Sans, Arial, sans-serif" font-size="5.0" fill="#444"><path d="M62.2 294.10H64.30" stroke="#555" stroke-width="0.5"/><text x="60.6" y="295.80" text-anchor="end">0.50</text><path d="M62.2 336.30H64.30" stroke="#555" stroke-width="0.5"/><text x="60.6" y="338.00" text-anchor="end">0.25</text><path d="M62.2 378.50H64.30" stroke="#555" stroke-width="0.5"/><text x="60.6" y="380.20" text-anchor="end">0.00</text><path d="M62.2 420.70H64.30" stroke="#555" stroke-width="0.5"/><text x="60.6" y="422.40" text-anchor="end">-0.25</text></g>
<text transform="translate(45.3 357) rotate(-90)" text-anchor="middle" font-family="Liberation Sans, Arial, sans-serif" font-size="6.4" fill="#333">Percentages</text>
<g font-family="Liberation Sans, Arial, sans-serif" font-size="5.0" fill="#3a3a3a" stroke="#3a3a3a" stroke-width="0.12"><path d="M76.00 452.10V454.10" stroke="#555" stroke-width="0.5"/><text transform="translate(78.60 458.50) rotate(-45)" text-anchor="end">aDC</text><path d="M95.23 452.10V454.10" stroke="#555" stroke-width="0.5"/><text transform="translate(97.83 458.50) rotate(-45)" text-anchor="end">B cells</text><path d="M114.46 452.10V454.10" stroke="#555" stroke-width="0.5"/><text transform="translate(117.06 458.50) rotate(-45)" text-anchor="end">CD8 T cells</text><path d="M133.69 452.10V454.10" stroke="#555" stroke-width="0.5"/><text transform="translate(136.29 458.50) rotate(-45)" text-anchor="end">Cytotoxic cells</text><path d="M152.92 452.10V454.10" stroke="#555" stroke-width="0.5"/><text transform="translate(155.52 458.50) rotate(-45)" text-anchor="end">DC</text><path d="M172.15 452.10V454.10" stroke="#555" stroke-width="0.5"/><text transform="translate(174.75 458.50) rotate(-45)" text-anchor="end">Eosinophils</text><path d="M191.38 452.10V454.10" stroke="#555" stroke-width="0.5"/><text transform="translate(193.98 458.50) rotate(-45)" text-anchor="end">iDC</text><path d="M210.61 452.10V454.10" stroke="#555" stroke-width="0.5"/><text transform="translate(213.21 458.50) rotate(-45)" text-anchor="end">Macrophages</text><path d="M229.84 452.10V454.10" stroke="#555" stroke-width="0.5"/><text transform="translate(232.44 458.50) rotate(-45)" text-anchor="end">Mast cells</text><path d="M249.07 452.10V454.10" stroke="#555" stroke-width="0.5"/><text transform="translate(251.67 458.50) rotate(-45)" text-anchor="end">Neutrophils</text><path d="M268.30 452.10V454.10" stroke="#555" stroke-width="0.5"/><text transform="translate(270.90 458.50) rotate(-45)" text-anchor="end">NK CD56bright cells</text><path d="M287.53 452.10V454.10" stroke="#555" stroke-width="0.5"/><text transform="translate(290.13 458.50) rotate(-45)" text-anchor="end">NK CD56dim cells</text><path d="M306.76 452.10V454.10" stroke="#555" stroke-width="0.5"/><text transform="translate(309.36 458.50) rotate(-45)" text-anchor="end">NK cells</text><path d="M325.99 452.10V454.10" stroke="#555" stroke-width="0.5"/><text transform="translate(328.59 458.50) rotate(-45)" text-anchor="end">pDC</text><path d="M345.22 452.10V454.10" stroke="#555" stroke-width="0.5"/><text transform="translate(347.82 458.50) rotate(-45)" text-anchor="end">T cells</text><path d="M364.45 452.10V454.10" stroke="#555" stroke-width="0.5"/><text transform="translate(367.05 458.50) rotate(-45)" text-anchor="end">T helper cells</text><path d="M383.68 452.10V454.10" stroke="#555" stroke-width="0.5"/><text transform="translate(387.28 459.10) rotate(-45)" text-anchor="end" fill="#ff2222" font-size="7.2">Tcm</text><path d="M402.91 452.10V454.10" stroke="#555" stroke-width="0.5"/><text transform="translate(405.51 458.50) rotate(-45)" text-anchor="end">Tem</text><path d="M422.14 452.10V454.10" stroke="#555" stroke-width="0.5"/><text transform="translate(424.74 458.50) rotate(-45)" text-anchor="end">TFH</text><path d="M441.37 452.10V454.10" stroke="#555" stroke-width="0.5"/><text transform="translate(443.97 458.50) rotate(-45)" text-anchor="end">Tgd</text><path d="M460.60 452.10V454.10" stroke="#555" stroke-width="0.5"/><text transform="translate(463.20 458.50) rotate(-45)" text-anchor="end">Th1 cells</text><path d="M479.83 452.10V454.10" stroke="#555" stroke-width="0.5"/><text transform="translate(482.43 458.50) rotate(-45)" text-anchor="end">Th17 cells</text><path d="M499.06 452.10V454.10" stroke="#555" stroke-width="0.5"/><text transform="translate(501.66 458.50) rotate(-45)" text-anchor="end">Th2 cells</text><path d="M518.29 452.10V454.10" stroke="#555" stroke-width="0.5"/><text transform="translate(520.89 458.50) rotate(-45)" text-anchor="end">TReg</text></g>
<g><path d="M70.90 338.00 L71.02 338.00 71.02 339.25 71.02 340.49 71.02 341.74 71.02 342.99 71.02 344.23 71.02 345.48 71.02 346.72 71.02 347.97 71.02 349.22 71.02 350.46 71.02 351.71 71.02 352.96 71.02 354.20 71.02 355.45 71.02 356.70 71.02 357.94 71.02 359.19 71.02 360.43 71.02 361.68 71.02 362.00 71.09 362.93 71.39 364.17 71.70 365.42 72.01 366.67 72.32 367.91 72.62 369.16 72.91 370.41 73.19 371.65 73.46 372.90 73.71 374.14 73.94 375.39 74.16 376.64 74.37 377.88 74.55 379.13 74.72 380.38 74.87 381.62 75.00 382.87 75.12 384.12 75.21 385.36 75.29 386.61 75.35 387.86 75.39 389.10 75.41 390.35 75.41 391.00 75.41 391.59 75.39 392.84 75.35 394.09 75.29 395.33 75.22 396.58 75.12 397.83 75.01 399.07 74.88 400.32 74.73 401.57 74.56 402.81 74.38 404.06 74.17 405.30 73.95 406.55 73.72 407.80 73.47 409.04 73.20 410.29 72.93 411.54 72.64 412.78 72.33 414.03 72.03 415.28 71.71 416.52 71.40 417.77 71.10 419.01 71.02 420.00 71.02 420.26 71.02 421.51 71.02 422.75 71.02 424.00 L70.78 424.00 70.78 422.75 70.78 421.51 70.78 420.26 70.78 420.00 70.70 419.01 70.40 417.77 70.09 416.52 69.77 415.28 69.47 414.03 69.16 412.78 68.87 411.54 68.60 410.29 68.33 409.04 68.08 407.80 67.85 406.55 67.63 405.30 67.42 404.06 67.24 402.81 67.07 401.57 66.92 400.32 66.79 399.07 66.68 397.83 66.58 396.58 66.51 395.33 66.45 394.09 66.41 392.84 66.39 391.59 66.39 391.00 66.39 390.35 66.41 389.10 66.45 387.86 66.51 386.61 66.59 385.36 66.68 384.12 66.80 382.87 66.93 381.62 67.08 380.38 67.25 379.13 67.43 377.88 67.64 376.64 67.86 375.39 68.09 374.14 68.34 372.90 68.61 371.65 68.89 370.41 69.18 369.16 69.48 367.91 69.79 366.67 70.10 365.42 70.41 364.17 70.71 362.93 70.78 362.00 70.78 361.68 70.78 360.43 70.78 359.19 70.78 357.94 70.78 356.70 70.78 355.45 70.78 354.20 70.78 352.96 70.78 351.71 70.78 350.46 70.78 349.22 70.78 347.97 70.78 346.72 70.78 345.48 70.78 344.23 70.78 342.99 70.78 341.74 70.78 340.49 70.78 339.25 70.78 338.00 Z" fill="#2f3e8e" stroke="#1a1a1a" stroke-width="0.55"/><rect x="69.50" y="383.76" width="2.8" height="22.48" fill="none" stroke="#111" stroke-opacity="0.7" stroke-width="0.28"/><rect x="69.75" y="393.85" width="2.3" height="2.3" fill="#fff"/><path d="M80.40 345.60 L80.52 345.60 80.52 346.88 80.52 348.15 80.52 349.43 80.52 350.70 80.52 351.98 80.52 353.25 80.52 354.53 80.52 355.80 80.52 357.08 80.52 358.35 80.52 359.63 80.52 360.90 80.52 362.18 80.52 363.46 80.52 364.73 80.52 366.01 80.52 367.28 80.52 368.00 80.52 368.56 80.81 369.83 81.13 371.11 81.45 372.38 81.77 373.66 82.08 374.93 82.38 376.21 82.67 377.48 82.94 378.76 83.20 380.03 83.44 381.31 83.66 382.59 83.86 383.86 84.05 385.14 84.21 386.41 84.36 387.69 84.48 388.96 84.59 390.24 84.67 391.51 84.73 392.79 84.78 394.06 84.80 395.34 84.80 396.00 84.80 396.61 84.77 397.89 84.71 399.17 84.63 400.44 84.51 401.72 84.37 402.99 84.21 404.27 84.01 405.54 83.79 406.82 83.54 408.09 83.27 409.37 82.98 410.64 82.66 411.92 82.32 413.19 81.97 414.47 81.60 415.74 81.22 417.02 80.85 418.30 80.52 419.57 80.52 420.00 80.52 420.85 80.52 422.12 80.52 423.40 80.52 424.67 80.52 425.95 80.52 427.22 80.52 428.50 80.52 429.77 80.52 431.05 80.52 432.32 80.52 433.60 L80.28 433.60 80.28 432.32 80.28 431.05 80.28 429.77 80.28 428.50 80.28 427.22 80.28 425.95 80.28 424.67 80.28 423.40 80.28 422.12 80.28 420.85 80.28 420.00 80.28 419.57 79.95 418.30 79.58 417.02 79.20 415.74 78.83 414.47 78.48 413.19 78.14 411.92 77.82 410.64 77.53 409.37 77.26 408.09 77.01 406.82 76.79 405.54 76.59 404.27 76.43 402.99 76.29 401.72 76.17 400.44 76.09 399.17 76.03 397.89 76.00 396.61 76.00 396.00 76.00 395.34 76.02 394.06 76.07 392.79 76.13 391.51 76.21 390.24 76.32 388.96 76.44 387.69 76.59 386.41 76.75 385.14 76.94 383.86 77.14 382.59 77.36 381.31 77.60 380.03 77.86 378.76 78.13 377.48 78.42 376.21 78.72 374.93 79.03 373.66 79.35 372.38 79.67 371.11 79.99 369.83 80.28 368.56 80.28 368.00 80.28 367.28 80.28 366.01 80.28 364.73 80.28 363.46 80.28 362.18 80.28 360.90 80.28 359.63 80.28 358.35 80.28 357.08 80.28 355.80 80.28 354.53 80.28 353.25 80.28 351.98 80.28 350.70 80.28 349.43 80.28 348.15 80.28 346.88 80.28 345.60 Z" fill="#e60000" stroke="#1a1a1a" stroke-width="0.55"/><rect x="79.00" y="387.32" width="2.8" height="20.32" fill="none" stroke="#111" stroke-opacity="0.7" stroke-width="0.28"/><rect x="79.25" y="397.05" width="2.3" height="2.3" fill="#fff"/><path d="M90.20 341.00 L90.32 341.00 90.32 342.10 90.32 343.19 90.32 344.29 90.32 345.39 90.32 346.49 90.32 347.58 90.32 348.68 90.32 349.78 90.32 350.87 90.32 351.97 90.32 353.07 90.32 354.17 90.32 355.26 90.32 356.36 90.32 357.46 90.32 358.55 90.32 359.65 90.32 360.75 90.32 361.84 90.32 362.94 90.32 364.04 90.32 365.14 90.32 366.23 90.32 367.33 90.32 368.43 90.32 369.52 90.32 370.62 90.32 371.72 90.32 372.82 90.32 373.91 90.32 375.01 90.32 376.11 90.32 377.20 90.32 378.30 90.32 379.40 90.32 380.50 90.32 381.00 90.41 381.59 90.86 382.69 91.33 383.79 91.78 384.88 92.20 385.98 92.59 387.08 92.95 388.18 93.27 389.27 93.55 390.37 93.78 391.47 93.97 392.56 94.11 393.66 94.21 394.76 94.26 395.86 94.27 396.50 94.27 396.95 94.23 398.05 94.16 399.15 94.06 400.24 93.91 401.34 93.74 402.44 93.52 403.53 93.28 404.63 93.00 405.73 92.69 406.83 92.35 407.92 91.98 409.02 91.60 410.12 91.19 411.21 90.78 412.31 90.38 413.41 90.32 414.00 90.32 414.51 90.32 415.60 90.32 416.70 L90.08 416.70 90.08 415.60 90.08 414.51 90.08 414.00 90.02 413.41 89.62 412.31 89.21 411.21 88.80 410.12 88.42 409.02 88.05 407.92 87.71 406.83 87.40 405.73 87.12 404.63 86.88 403.53 86.66 402.44 86.49 401.34 86.34 400.24 86.24 399.15 86.17 398.05 86.13 396.95 86.13 396.50 86.14 395.86 86.19 394.76 86.29 393.66 86.43 392.56 86.62 391.47 86.85 390.37 87.13 389.27 87.45 388.18 87.81 387.08 88.20 385.98 88.62 384.88 89.07 383.79 89.54 382.69 89.99 381.59 90.08 381.00 90.08 380.50 90.08 379.40 90.08 378.30 90.08 377.20 90.08 376.11 90.08 375.01 90.08 373.91 90.08 372.82 90.08 371.72 90.08 370.62 90.08 369.52 90.08 368.43 90.08 367.33 90.08 366.23 90.08 365.14 90.08 364.04 90.08 362.94 90.08 361.84 90.08 360.75 90.08 359.65 90.08 358.55 90.08 357.46 90.08 356.36 90.08 355.26 90.08 354.17 90.08 353.07 90.08 351.97 90.08 350.87 90.08 349.78 90.08 348.68 90.08 347.58 90.08 346.49 90.08 345.39 90.08 344.29 90.08 343.19 90.08 342.10 90.08 341.00 Z" fill="#2f3e8e" stroke="#1a1a1a" stroke-width="0.55"/><rect x="88.80" y="390.52" width="2.8" height="13.48" fill="none" stroke="#111" stroke-opacity="0.7" stroke-width="0.28"/><rect x="89.05" y="395.75" width="2.3" height="2.3" fill="#fff"/><path d="M99.60 370.00 L99.72 370.00 99.72 370.67 99.72 371.33 99.72 372.00 99.72 372.67 99.72 373.33 99.72 374.00 99.72 374.67 99.72 375.33 99.72 376.00 99.72 376.67 99.72 377.33 99.72 378.00 99.72 378.67 99.72 379.33 99.72 380.00 99.72 380.67 99.72 381.33 99.72 382.00 99.72 382.67 99.72 383.00 99.72 383.33 100.01 384.00 100.31 384.67 100.61 385.33 100.91 386.00 101.20 386.67 101.48 387.33 101.74 388.00 101.99 388.67 102.23 389.33 102.44 390.00 102.64 390.67 102.82 391.33 102.98 392.00 103.13 392.67 103.25 393.33 103.35 394.00 103.43 394.67 103.50 395.33 103.54 396.00 103.56 396.67 103.56 397.00 103.56 397.33 103.54 398.00 103.51 398.67 103.46 399.33 103.40 400.00 103.32 400.67 103.23 401.33 103.12 402.00 102.99 402.67 102.86 403.33 102.70 404.00 102.53 404.67 102.35 405.33 102.16 406.00 101.95 406.67 101.73 407.33 101.50 408.00 101.26 408.67 101.00 409.33 100.74 410.00 100.48 410.67 100.21 411.33 99.95 412.00 99.72 412.67 99.72 413.00 99.72 413.33 99.72 414.00 99.72 414.67 99.72 415.33 99.72 416.00 L99.48 416.00 99.48 415.33 99.48 414.67 99.48 414.00 99.48 413.33 99.48 413.00 99.48 412.67 99.25 412.00 98.99 411.33 98.72 410.67 98.46 410.00 98.20 409.33 97.94 408.67 97.70 408.00 97.47 407.33 97.25 406.67 97.04 406.00 96.85 405.33 96.67 404.67 96.50 404.00 96.34 403.33 96.21 402.67 96.08 402.00 95.97 401.33 95.88 400.67 95.80 400.00 95.74 399.33 95.69 398.67 95.66 398.00 95.64 397.33 95.64 397.00 95.64 396.67 95.66 396.00 95.70 395.33 95.77 394.67 95.85 394.00 95.95 393.33 96.07 392.67 96.22 392.00 96.38 391.33 96.56 390.67 96.76 390.00 96.97 389.33 97.21 388.67 97.46 388.00 97.72 387.33 98.00 386.67 98.29 386.00 98.59 385.33 98.89 384.67 99.19 384.00 99.48 383.33 99.48 383.00 99.48 382.67 99.48 382.00 99.48 381.33 99.48 380.67 99.48 380.00 99.48 379.33 99.48 378.67 99.48 378.00 99.48 377.33 99.48 376.67 99.48 376.00 99.48 375.33 99.48 374.67 99.48 374.00 99.48 373.33 99.48 372.67 99.48 372.00 99.48 371.33 99.48 370.67 99.48 370.00 Z" fill="#e60000" stroke="#1a1a1a" stroke-width="0.55"/><rect x="98.20" y="391.76" width="2.8" height="12.40" fill="none" stroke="#111" stroke-opacity="0.7" stroke-width="0.28"/><rect x="98.45" y="396.45" width="2.3" height="2.3" fill="#fff"/><path d="M109.50 322.20 L109.62 322.20 109.62 322.51 109.62 322.81 109.62 323.12 109.62 323.42 109.62 323.73 109.62 324.03 109.62 324.34 109.62 324.65 109.62 324.95 109.62 325.26 109.62 325.56 109.62 325.87 109.62 326.00 109.64 326.18 109.94 326.48 110.26 326.79 110.58 327.09 110.89 327.40 111.19 327.70 111.48 328.01 111.76 328.32 112.02 328.62 112.26 328.93 112.49 329.23 112.70 329.54 112.89 329.84 113.06 330.15 113.21 330.46 113.34 330.76 113.45 331.07 113.54 331.37 113.60 331.68 113.65 331.99 113.68 332.29 113.68 332.50 113.68 332.60 113.67 332.90 113.65 333.21 113.61 333.51 113.56 333.82 113.50 334.13 113.43 334.43 113.35 334.74 113.25 335.04 113.14 335.35 113.02 335.66 112.89 335.96 112.75 336.27 112.60 336.57 112.43 336.88 112.26 337.18 112.07 337.49 111.88 337.80 111.67 338.10 111.46 338.41 111.24 338.71 111.01 339.02 110.77 339.32 110.53 339.63 110.29 339.94 110.05 340.24 109.81 340.55 109.62 340.85 109.62 341.00 109.62 341.16 109.62 341.47 109.62 341.77 109.62 342.08 109.62 342.38 109.62 342.69 109.62 342.99 109.62 343.30 L109.38 343.30 109.38 342.99 109.38 342.69 109.38 342.38 109.38 342.08 109.38 341.77 109.38 341.47 109.38 341.16 109.38 341.00 109.38 340.85 109.19 340.55 108.95 340.24 108.71 339.94 108.47 339.63 108.23 339.32 107.99 339.02 107.76 338.71 107.54 338.41 107.33 338.10 107.12 337.80 106.93 337.49 106.74 337.18 106.57 336.88 106.40 336.57 106.25 336.27 106.11 335.96 105.98 335.66 105.86 335.35 105.75 335.04 105.65 334.74 105.57 334.43 105.50 334.13 105.44 333.82 105.39 333.51 105.35 333.21 105.33 332.90 105.32 332.60 105.32 332.50 105.32 332.29 105.35 331.99 105.40 331.68 105.46 331.37 105.55 331.07 105.66 330.76 105.79 330.46 105.94 330.15 106.11 329.84 106.30 329.54 106.51 329.23 106.74 328.93 106.98 328.62 107.24 328.32 107.52 328.01 107.81 327.70 108.11 327.40 108.42 327.09 108.74 326.79 109.06 326.48 109.36 326.18 109.38 326.00 109.38 325.87 109.38 325.56 109.38 325.26 109.38 324.95 109.38 324.65 109.38 324.34 109.38 324.03 109.38 323.73 109.38 323.42 109.38 323.12 109.38 322.81 109.38 322.51 109.38 322.20 Z" fill="#2f3e8e" stroke="#1a1a1a" stroke-width="0.55"/><rect x="108.10" y="329.76" width="2.8" height="7.00" fill="none" stroke="#111" stroke-opacity="0.7" stroke-width="0.28"/><rect x="108.35" y="331.75" width="2.3" height="2.3" fill="#fff"/><path d="M119.00 324.40 L119.12 324.40 119.12 324.67 119.12 324.95 119.12 325.22 119.12 325.50 119.12 325.77 119.12 326.04 119.12 326.32 119.12 326.59 119.12 326.87 119.12 327.14 119.12 327.41 119.12 327.69 119.12 327.96 119.12 328.00 119.20 328.23 119.47 328.51 119.76 328.78 120.04 329.06 120.32 329.33 120.60 329.60 120.86 329.88 121.11 330.15 121.35 330.43 121.58 330.70 121.80 330.97 122.00 331.25 122.19 331.52 122.36 331.80 122.52 332.07 122.66 332.34 122.78 332.62 122.89 332.89 122.98 333.17 123.05 333.44 123.11 333.71 123.15 333.99 123.17 334.26 123.18 334.50 123.18 334.53 123.17 334.81 123.14 335.08 123.10 335.36 123.03 335.63 122.96 335.90 122.86 336.18 122.75 336.45 122.62 336.73 122.48 337.00 122.32 337.27 122.14 337.55 121.95 337.82 121.75 338.10 121.53 338.37 121.29 338.64 121.05 338.92 120.79 339.19 120.53 339.47 120.25 339.74 119.97 340.01 119.68 340.29 119.40 340.56 119.13 340.83 119.12 341.00 119.12 341.11 119.12 341.38 119.12 341.66 119.12 341.93 119.12 342.20 119.12 342.48 119.12 342.75 119.12 343.03 119.12 343.30 L118.88 343.30 118.88 343.03 118.88 342.75 118.88 342.48 118.88 342.20 118.88 341.93 118.88 341.66 118.88 341.38 118.88 341.11 118.88 341.00 118.87 340.83 118.60 340.56 118.32 340.29 118.03 340.01 117.75 339.74 117.47 339.47 117.21 339.19 116.95 338.92 116.71 338.64 116.47 338.37 116.25 338.10 116.05 337.82 115.86 337.55 115.68 337.27 115.52 337.00 115.38 336.73 115.25 336.45 115.14 336.18 115.04 335.90 114.97 335.63 114.90 335.36 114.86 335.08 114.83 334.81 114.82 334.53 114.82 334.50 114.83 334.26 114.85 333.99 114.89 333.71 114.95 333.44 115.02 333.17 115.11 332.89 115.22 332.62 115.34 332.34 115.48 332.07 115.64 331.80 115.81 331.52 116.00 331.25 116.20 330.97 116.42 330.70 116.65 330.43 116.89 330.15 117.14 329.88 117.40 329.60 117.68 329.33 117.96 329.06 118.24 328.78 118.53 328.51 118.80 328.23 118.88 328.00 118.88 327.96 118.88 327.69 118.88 327.41 118.88 327.14 118.88 326.87 118.88 326.59 118.88 326.32 118.88 326.04 118.88 325.77 118.88 325.50 118.88 325.22 118.88 324.95 118.88 324.67 118.88 324.40 Z" fill="#e60000" stroke="#1a1a1a" stroke-width="0.55"/><rect x="117.60" y="330.86" width="2.8" height="6.28" fill="none" stroke="#111" stroke-opacity="0.7" stroke-width="0.28"/><rect x="117.85" y="332.85" width="2.3" height="2.3" fill="#fff"/><path d="M128.70 335.60 L128.82 335.60 128.82 336.72 128.82 337.83 128.82 338.95 128.82 340.07 128.82 341.19 128.82 342.30 128.82 343.42 128.82 344.54 128.82 345.66 128.82 346.77 128.82 347.89 128.82 349.01 128.82 350.13 128.82 351.24 128.82 352.36 128.82 353.48 128.82 354.60 128.82 355.00 128.89 355.71 129.24 356.83 129.61 357.95 129.97 359.07 130.33 360.18 130.67 361.30 130.99 362.42 131.30 363.53 131.58 364.65 131.84 365.77 132.08 366.89 132.30 368.00 132.49 369.12 132.65 370.24 132.79 371.36 132.91 372.47 133.00 373.59 133.06 374.71 133.09 375.83 133.10 376.70 133.10 376.94 133.09 378.06 133.06 379.18 133.02 380.30 132.96 381.41 132.89 382.53 132.80 383.65 132.69 384.77 132.57 385.88 132.44 387.00 132.29 388.12 132.12 389.23 131.94 390.35 131.75 391.47 131.55 392.59 131.33 393.70 131.10 394.82 130.86 395.94 130.60 397.06 130.34 398.17 130.07 399.29 129.79 400.41 129.51 401.53 129.23 402.64 128.96 403.76 128.82 404.88 128.82 405.00 128.82 406.00 128.82 407.11 128.82 408.23 128.82 409.35 128.82 410.47 128.82 411.58 128.82 412.70 L128.58 412.70 128.58 411.58 128.58 410.47 128.58 409.35 128.58 408.23 128.58 407.11 128.58 406.00 128.58 405.00 128.58 404.88 128.44 403.76 128.17 402.64 127.89 401.53 127.61 400.41 127.33 399.29 127.06 398.17 126.80 397.06 126.54 395.94 126.30 394.82 126.07 393.70 125.85 392.59 125.65 391.47 125.46 390.35 125.28 389.23 125.11 388.12 124.96 387.00 124.83 385.88 124.71 384.77 124.60 383.65 124.51 382.53 124.44 381.41 124.38 380.30 124.34 379.18 124.31 378.06 124.30 376.94 124.30 376.70 124.31 375.83 124.34 374.71 124.40 373.59 124.49 372.47 124.61 371.36 124.75 370.24 124.91 369.12 125.10 368.00 125.32 366.89 125.56 365.77 125.82 364.65 126.10 363.53 126.41 362.42 126.73 361.30 127.07 360.18 127.43 359.07 127.79 357.95 128.16 356.83 128.51 355.71 128.58 355.00 128.58 354.60 128.58 353.48 128.58 352.36 128.58 351.24 128.58 350.13 128.58 349.01 128.58 347.89 128.58 346.77 128.58 345.66 128.58 344.54 128.58 343.42 128.58 342.30 128.58 341.19 128.58 340.07 128.58 338.95 128.58 337.83 128.58 336.72 128.58 335.60 Z" fill="#2f3e8e" stroke="#1a1a1a" stroke-width="0.55"/><rect x="127.30" y="372.99" width="2.8" height="19.60" fill="none" stroke="#111" stroke-opacity="0.7" stroke-width="0.28"/><rect x="127.55" y="380.45" width="2.3" height="2.3" fill="#fff"/><path d="M138.40 343.30 L138.52 343.30 138.52 344.33 138.52 345.36 138.52 346.39 138.52 347.42 138.52 348.45 138.52 349.48 138.52 350.51 138.52 351.54 138.52 352.57 138.52 353.60 138.52 354.63 138.52 355.00 138.57 355.67 138.90 356.70 139.23 357.73 139.57 358.76 139.90 359.79 140.22 360.82 140.53 361.85 140.82 362.88 141.09 363.91 141.35 364.94 141.59 365.97 141.81 367.00 142.00 368.03 142.18 369.06 142.33 370.09 142.47 371.12 142.58 372.15 142.67 373.18 142.73 374.21 142.78 375.24 142.80 376.27 142.80 376.70 142.80 377.30 142.78 378.33 142.76 379.37 142.71 380.40 142.66 381.43 142.59 382.46 142.51 383.49 142.42 384.52 142.31 385.55 142.19 386.58 142.06 387.61 141.91 388.64 141.76 389.67 141.59 390.70 141.41 391.73 141.21 392.76 141.01 393.79 140.80 394.82 140.58 395.85 140.34 396.88 140.10 397.91 139.86 398.94 139.60 399.97 139.34 401.00 139.09 402.03 138.83 403.07 138.58 404.10 138.52 405.00 138.52 405.13 138.52 406.16 138.52 407.19 138.52 408.22 138.52 409.25 138.52 410.28 138.52 411.31 138.52 412.34 138.52 413.37 138.52 414.40 L138.28 414.40 138.28 413.37 138.28 412.34 138.28 411.31 138.28 410.28 138.28 409.25 138.28 408.22 138.28 407.19 138.28 406.16 138.28 405.13 138.28 405.00 138.22 404.10 137.97 403.07 137.71 402.03 137.46 401.00 137.20 399.97 136.94 398.94 136.70 397.91 136.46 396.88 136.22 395.85 136.00 394.82 135.79 393.79 135.59 392.76 135.39 391.73 135.21 390.70 135.04 389.67 134.89 388.64 134.74 387.61 134.61 386.58 134.49 385.55 134.38 384.52 134.29 383.49 134.21 382.46 134.14 381.43 134.09 380.40 134.04 379.37 134.02 378.33 134.00 377.30 134.00 376.70 134.00 376.27 134.02 375.24 134.07 374.21 134.13 373.18 134.22 372.15 134.33 371.12 134.47 370.09 134.62 369.06 134.80 368.03 134.99 367.00 135.21 365.97 135.45 364.94 135.71 363.91 135.98 362.88 136.27 361.85 136.58 360.82 136.90 359.79 137.23 358.76 137.57 357.73 137.90 356.70 138.23 355.67 138.28 355.00 138.28 354.63 138.28 353.60 138.28 352.57 138.28 351.54 138.28 350.51 138.28 349.48 138.28 348.45 138.28 347.42 138.28 346.39 138.28 345.36 138.28 344.33 138.28 343.30 Z" fill="#e60000" stroke="#1a1a1a" stroke-width="0.55"/><rect x="137.00" y="372.99" width="2.8" height="19.60" fill="none" stroke="#111" stroke-opacity="0.7" stroke-width="0.28"/><rect x="137.25" y="380.45" width="2.3" height="2.3" fill="#fff"/><path d="M148.10 355.30 L148.22 355.30 148.22 356.00 148.22 356.16 148.68 357.02 149.23 357.89 149.76 358.75 150.27 359.61 150.75 360.47 151.18 361.34 151.58 362.20 151.92 363.06 152.22 363.92 152.47 364.79 152.67 365.65 152.81 366.51 152.90 367.37 152.94 368.23 152.94 368.40 152.94 369.10 152.93 369.96 152.91 370.82 152.89 371.68 152.86 372.55 152.82 373.41 152.77 374.27 152.72 375.13 152.66 376.00 152.59 376.86 152.51 377.72 152.43 378.58 152.34 379.44 152.25 380.31 152.15 381.17 152.04 382.03 151.92 382.89 151.80 383.76 151.67 384.62 151.53 385.48 151.39 386.34 151.24 387.21 151.09 388.07 150.93 388.93 150.76 389.79 150.59 390.66 150.42 391.52 150.23 392.38 150.05 393.24 149.86 394.10 149.67 394.97 149.47 395.83 149.27 396.69 149.07 397.55 148.87 398.42 148.67 399.28 148.47 400.14 148.28 401.00 148.22 401.87 148.22 402.00 148.22 402.73 148.22 403.59 148.22 404.45 148.22 405.31 148.22 406.18 148.22 407.04 148.22 407.90 148.22 408.76 148.22 409.63 148.22 410.49 148.22 411.35 148.22 412.21 148.22 413.08 148.22 413.94 148.22 414.80 L147.98 414.80 147.98 413.94 147.98 413.08 147.98 412.21 147.98 411.35 147.98 410.49 147.98 409.63 147.98 408.76 147.98 407.90 147.98 407.04 147.98 406.18 147.98 405.31 147.98 404.45 147.98 403.59 147.98 402.73 147.98 402.00 147.98 401.87 147.92 401.00 147.73 400.14 147.53 399.28 147.33 398.42 147.13 397.55 146.93 396.69 146.73 395.83 146.53 394.97 146.34 394.10 146.15 393.24 145.97 392.38 145.78 391.52 145.61 390.66 145.44 389.79 145.27 388.93 145.11 388.07 144.96 387.21 144.81 386.34 144.67 385.48 144.53 384.62 144.40 383.76 144.28 382.89 144.16 382.03 144.05 381.17 143.95 380.31 143.86 379.44 143.77 378.58 143.69 377.72 143.61 376.86 143.54 376.00 143.48 375.13 143.43 374.27 143.38 373.41 143.34 372.55 143.31 371.68 143.29 370.82 143.27 369.96 143.26 369.10 143.26 368.40 143.26 368.23 143.30 367.37 143.39 366.51 143.53 365.65 143.73 364.79 143.98 363.92 144.28 363.06 144.62 362.20 145.02 361.34 145.45 360.47 145.93 359.61 146.44 358.75 146.97 357.89 147.52 357.02 147.98 356.16 147.98 356.00 147.98 355.30 Z" fill="#2f3e8e" stroke="#1a1a1a" stroke-width="0.55"/><rect x="146.70" y="368.14" width="2.8" height="18.16" fill="none" stroke="#111" stroke-opacity="0.7" stroke-width="0.28"/><rect x="146.95" y="372.25" width="2.3" height="2.3" fill="#fff"/><path d="M157.40 339.10 L157.52 339.10 157.52 340.17 157.52 341.24 157.52 342.30 157.52 343.37 157.52 344.44 157.52 345.51 157.52 346.58 157.52 347.64 157.52 348.71 157.52 349.78 157.52 350.00 157.71 350.85 158.16 351.92 158.62 352.99 159.06 354.05 159.49 355.12 159.89 356.19 160.27 357.26 160.61 358.33 160.91 359.39 161.19 360.46 161.42 361.53 161.62 362.60 161.78 363.67 161.90 364.73 161.98 365.80 162.02 366.87 162.02 367.40 162.02 367.94 162.01 369.01 161.98 370.08 161.95 371.14 161.90 372.21 161.85 373.28 161.78 374.35 161.70 375.42 161.61 376.48 161.51 377.55 161.40 378.62 161.27 379.69 161.14 380.76 161.00 381.82 160.84 382.89 160.68 383.96 160.50 385.03 160.32 386.10 160.13 387.17 159.93 388.23 159.72 389.30 159.50 390.37 159.27 391.44 159.04 392.51 158.81 393.57 158.56 394.64 158.32 395.71 158.08 396.78 157.83 397.85 157.60 398.91 157.52 399.98 157.52 400.00 157.52 401.05 157.52 402.12 157.52 403.19 157.52 404.26 157.52 405.32 157.52 406.39 157.52 407.46 157.52 408.53 157.52 409.60 157.52 410.66 157.52 411.73 157.52 412.80 L157.28 412.80 157.28 411.73 157.28 410.66 157.28 409.60 157.28 408.53 157.28 407.46 157.28 406.39 157.28 405.32 157.28 404.26 157.28 403.19 157.28 402.12 157.28 401.05 157.28 400.00 157.28 399.98 157.20 398.91 156.97 397.85 156.72 396.78 156.48 395.71 156.24 394.64 155.99 393.57 155.76 392.51 155.53 391.44 155.30 390.37 155.08 389.30 154.87 388.23 154.67 387.17 154.48 386.10 154.30 385.03 154.12 383.96 153.96 382.89 153.80 381.82 153.66 380.76 153.53 379.69 153.40 378.62 153.29 377.55 153.19 376.48 153.10 375.42 153.02 374.35 152.95 373.28 152.90 372.21 152.85 371.14 152.82 370.08 152.79 369.01 152.78 367.94 152.78 367.40 152.78 366.87 152.82 365.80 152.90 364.73 153.02 363.67 153.18 362.60 153.38 361.53 153.61 360.46 153.89 359.39 154.19 358.33 154.53 357.26 154.91 356.19 155.31 355.12 155.74 354.05 156.18 352.99 156.64 351.92 157.09 350.85 157.28 350.00 157.28 349.78 157.28 348.71 157.28 347.64 157.28 346.58 157.28 345.51 157.28 344.44 157.28 343.37 157.28 342.30 157.28 341.24 157.28 340.17 157.28 339.10 Z" fill="#e60000" stroke="#1a1a1a" stroke-width="0.55"/><rect x="156.00" y="366.34" width="2.8" height="19.60" fill="none" stroke="#111" stroke-opacity="0.7" stroke-width="0.28"/><rect x="156.25" y="372.25" width="2.3" height="2.3" fill="#fff"/><path d="M167.20 350.20 L167.32 350.20 167.32 350.54 167.32 350.87 167.32 351.21 167.32 351.54 167.32 351.88 167.32 352.22 167.32 352.55 167.32 352.89 167.32 353.23 167.32 353.56 167.32 353.90 167.32 354.00 167.34 354.23 167.57 354.57 167.82 354.91 168.07 355.24 168.32 355.58 168.57 355.92 168.81 356.25 169.04 356.59 169.27 356.92 169.49 357.26 169.69 357.60 169.89 357.93 170.08 358.27 170.26 358.61 170.43 358.94 170.58 359.28 170.72 359.61 170.86 359.95 170.98 360.29 171.08 360.62 171.18 360.96 171.26 361.30 171.33 361.63 171.39 361.97 171.43 362.30 171.47 362.64 171.48 362.98 171.49 363.30 171.49 363.31 171.48 363.65 171.45 363.99 171.40 364.32 171.34 364.66 171.25 364.99 171.15 365.33 171.03 365.67 170.89 366.00 170.73 366.34 170.56 366.68 170.37 367.01 170.16 367.35 169.93 367.68 169.70 368.02 169.44 368.36 169.18 368.69 168.90 369.03 168.61 369.37 168.31 369.70 168.01 370.04 167.71 370.37 167.41 370.71 167.32 371.00 167.32 371.05 167.32 371.38 167.32 371.72 167.32 372.06 167.32 372.39 167.32 372.73 167.32 373.06 167.32 373.40 L167.08 373.40 167.08 373.06 167.08 372.73 167.08 372.39 167.08 372.06 167.08 371.72 167.08 371.38 167.08 371.05 167.08 371.00 166.99 370.71 166.69 370.37 166.39 370.04 166.09 369.70 165.79 369.37 165.50 369.03 165.22 368.69 164.96 368.36 164.70 368.02 164.47 367.68 164.24 367.35 164.03 367.01 163.84 366.68 163.67 366.34 163.51 366.00 163.37 365.67 163.25 365.33 163.15 364.99 163.06 364.66 163.00 364.32 162.95 363.99 162.92 363.65 162.91 363.31 162.91 363.30 162.92 362.98 162.93 362.64 162.97 362.30 163.01 361.97 163.07 361.63 163.14 361.30 163.22 360.96 163.32 360.62 163.42 360.29 163.54 359.95 163.68 359.61 163.82 359.28 163.97 358.94 164.14 358.61 164.32 358.27 164.51 357.93 164.71 357.60 164.91 357.26 165.13 356.92 165.36 356.59 165.59 356.25 165.83 355.92 166.08 355.58 166.33 355.24 166.58 354.91 166.83 354.57 167.06 354.23 167.08 354.00 167.08 353.90 167.08 353.56 167.08 353.23 167.08 352.89 167.08 352.55 167.08 352.22 167.08 351.88 167.08 351.54 167.08 351.21 167.08 350.87 167.08 350.54 167.08 350.20 Z" fill="#2f3e8e" stroke="#1a1a1a" stroke-width="0.55"/><rect x="165.80" y="360.15" width="2.8" height="7.72" fill="none" stroke="#111" stroke-opacity="0.7" stroke-width="0.28"/><rect x="166.05" y="363.15" width="2.3" height="2.3" fill="#fff"/><path d="M176.60 352.20 L176.72 352.20 176.72 352.54 176.72 352.88 176.72 353.21 176.72 353.55 176.72 353.89 176.72 354.23 176.72 354.56 176.72 354.90 176.72 355.24 176.72 355.58 176.72 355.91 176.72 356.00 176.77 356.25 177.04 356.59 177.33 356.93 177.61 357.27 177.89 357.60 178.17 357.94 178.43 358.28 178.69 358.62 178.93 358.95 179.16 359.29 179.38 359.63 179.58 359.97 179.77 360.30 179.94 360.64 180.10 360.98 180.24 361.32 180.37 361.66 180.48 361.99 180.57 362.33 180.65 362.67 180.71 363.01 180.75 363.34 180.77 363.68 180.78 364.00 180.78 364.02 180.77 364.36 180.75 364.69 180.72 365.03 180.67 365.37 180.61 365.71 180.53 366.04 180.44 366.38 180.34 366.72 180.23 367.06 180.10 367.40 179.96 367.73 179.81 368.07 179.65 368.41 179.47 368.75 179.29 369.08 179.09 369.42 178.88 369.76 178.66 370.10 178.44 370.43 178.20 370.77 177.96 371.11 177.71 371.45 177.46 371.79 177.20 372.12 176.95 372.46 176.72 372.80 176.72 373.00 176.72 373.14 176.72 373.47 176.72 373.81 176.72 374.15 176.72 374.49 176.72 374.82 176.72 375.16 176.72 375.50 L176.48 375.50 176.48 375.16 176.48 374.82 176.48 374.49 176.48 374.15 176.48 373.81 176.48 373.47 176.48 373.14 176.48 373.00 176.48 372.80 176.25 372.46 176.00 372.12 175.74 371.79 175.49 371.45 175.24 371.11 175.00 370.77 174.76 370.43 174.54 370.10 174.32 369.76 174.11 369.42 173.91 369.08 173.73 368.75 173.55 368.41 173.39 368.07 173.24 367.73 173.10 367.40 172.97 367.06 172.86 366.72 172.76 366.38 172.67 366.04 172.59 365.71 172.53 365.37 172.48 365.03 172.45 364.69 172.43 364.36 172.42 364.02 172.42 364.00 172.43 363.68 172.45 363.34 172.49 363.01 172.55 362.67 172.63 362.33 172.72 361.99 172.83 361.66 172.96 361.32 173.10 360.98 173.26 360.64 173.43 360.30 173.62 359.97 173.82 359.63 174.04 359.29 174.27 358.95 174.51 358.62 174.77 358.28 175.03 357.94 175.31 357.60 175.59 357.27 175.87 356.93 176.16 356.59 176.43 356.25 176.48 356.00 176.48 355.91 176.48 355.58 176.48 355.24 176.48 354.90 176.48 354.56 176.48 354.23 176.48 353.89 176.48 353.55 176.48 353.21 176.48 352.88 176.48 352.54 176.48 352.20 Z" fill="#e60000" stroke="#1a1a1a" stroke-width="0.55"/><rect x="175.20" y="360.62" width="2.8" height="7.72" fill="none" stroke="#111" stroke-opacity="0.7" stroke-width="0.28"/><rect x="175.45" y="363.15" width="2.3" height="2.3" fill="#fff"/><path d="M186.20 344.80 L186.32 344.80 186.32 345.34 186.32 345.89 186.32 346.43 186.32 346.98 186.32 347.52 186.32 348.07 186.32 348.61 186.32 349.16 186.32 349.70 186.32 350.25 186.32 350.79 186.32 351.34 186.32 351.88 186.32 352.00 186.36 352.43 186.61 352.97 186.88 353.52 187.14 354.06 187.40 354.61 187.66 355.15 187.91 355.70 188.16 356.24 188.39 356.79 188.62 357.33 188.83 357.88 189.04 358.42 189.23 358.97 189.41 359.51 189.58 360.06 189.74 360.60 189.89 361.15 190.02 361.69 190.14 362.24 190.24 362.78 190.33 363.33 190.41 363.87 190.48 364.42 190.53 364.96 190.57 365.51 190.59 366.05 190.60 366.60 190.60 366.70 190.59 367.14 190.56 367.69 190.51 368.23 190.43 368.78 190.33 369.32 190.21 369.87 190.06 370.41 189.89 370.96 189.70 371.50 189.49 372.05 189.26 372.59 189.00 373.14 188.73 373.68 188.44 374.23 188.14 374.77 187.82 375.32 187.48 375.86 187.14 376.41 186.80 376.95 186.47 377.50 186.32 378.00 186.32 378.04 186.32 378.59 186.32 379.13 186.32 379.68 186.32 380.22 186.32 380.77 186.32 381.31 186.32 381.86 186.32 382.40 L186.08 382.40 186.08 381.86 186.08 381.31 186.08 380.77 186.08 380.22 186.08 379.68 186.08 379.13 186.08 378.59 186.08 378.04 186.08 378.00 185.93 377.50 185.60 376.95 185.26 376.41 184.92 375.86 184.58 375.32 184.26 374.77 183.96 374.23 183.67 373.68 183.40 373.14 183.14 372.59 182.91 372.05 182.70 371.50 182.51 370.96 182.34 370.41 182.19 369.87 182.07 369.32 181.97 368.78 181.89 368.23 181.84 367.69 181.81 367.14 181.80 366.70 181.80 366.60 181.81 366.05 181.83 365.51 181.87 364.96 181.92 364.42 181.99 363.87 182.07 363.33 182.16 362.78 182.26 362.24 182.38 361.69 182.51 361.15 182.66 360.60 182.82 360.06 182.99 359.51 183.17 358.97 183.36 358.42 183.57 357.88 183.78 357.33 184.01 356.79 184.24 356.24 184.49 355.70 184.74 355.15 185.00 354.61 185.26 354.06 185.52 353.52 185.79 352.97 186.04 352.43 186.08 352.00 186.08 351.88 186.08 351.34 186.08 350.79 186.08 350.25 186.08 349.70 186.08 349.16 186.08 348.61 186.08 348.07 186.08 347.52 186.08 346.98 186.08 346.43 186.08 345.89 186.08 345.34 186.08 344.80 Z" fill="#2f3e8e" stroke="#1a1a1a" stroke-width="0.55"/><rect x="184.80" y="363.01" width="2.8" height="10.96" fill="none" stroke="#111" stroke-opacity="0.7" stroke-width="0.28"/><rect x="185.05" y="367.95" width="2.3" height="2.3" fill="#fff"/><path d="M196.00 349.70 L196.12 349.70 196.12 350.21 196.12 350.72 196.12 351.23 196.12 351.73 196.12 352.24 196.12 352.75 196.12 353.26 196.12 353.77 196.12 354.28 196.12 354.79 196.12 355.30 196.12 355.80 196.12 356.00 196.12 356.31 196.37 356.82 196.63 357.33 196.89 357.84 197.15 358.35 197.41 358.86 197.66 359.37 197.90 359.87 198.13 360.38 198.36 360.89 198.57 361.40 198.77 361.91 198.96 362.42 199.13 362.93 199.29 363.43 199.44 363.94 199.58 364.45 199.70 364.96 199.81 365.47 199.91 365.98 199.99 366.49 200.06 367.00 200.11 367.50 200.15 368.01 200.17 368.52 200.18 369.03 200.18 369.10 200.17 369.54 200.15 370.05 200.11 370.56 200.05 371.07 199.97 371.57 199.88 372.08 199.77 372.59 199.64 373.10 199.50 373.61 199.34 374.12 199.16 374.63 198.97 375.13 198.76 375.64 198.54 376.15 198.31 376.66 198.06 377.17 197.80 377.68 197.53 378.19 197.25 378.70 196.96 379.20 196.67 379.71 196.39 380.22 196.12 380.73 196.12 381.00 196.12 381.24 196.12 381.75 196.12 382.26 196.12 382.77 196.12 383.27 196.12 383.78 196.12 384.29 196.12 384.80 L195.88 384.80 195.88 384.29 195.88 383.78 195.88 383.27 195.88 382.77 195.88 382.26 195.88 381.75 195.88 381.24 195.88 381.00 195.88 380.73 195.61 380.22 195.33 379.71 195.04 379.20 194.75 378.70 194.47 378.19 194.20 377.68 193.94 377.17 193.69 376.66 193.46 376.15 193.24 375.64 193.03 375.13 192.84 374.63 192.66 374.12 192.50 373.61 192.36 373.10 192.23 372.59 192.12 372.08 192.03 371.57 191.95 371.07 191.89 370.56 191.85 370.05 191.83 369.54 191.82 369.10 191.82 369.03 191.83 368.52 191.85 368.01 191.89 367.50 191.94 367.00 192.01 366.49 192.09 365.98 192.19 365.47 192.30 364.96 192.42 364.45 192.56 363.94 192.71 363.43 192.87 362.93 193.04 362.42 193.23 361.91 193.43 361.40 193.64 360.89 193.87 360.38 194.10 359.87 194.34 359.37 194.59 358.86 194.85 358.35 195.11 357.84 195.37 357.33 195.63 356.82 195.88 356.31 195.88 356.00 195.88 355.80 195.88 355.30 195.88 354.79 195.88 354.28 195.88 353.77 195.88 353.26 195.88 352.75 195.88 352.24 195.88 351.73 195.88 351.23 195.88 350.72 195.88 350.21 195.88 349.70 Z" fill="#e60000" stroke="#1a1a1a" stroke-width="0.55"/><rect x="194.60" y="364.78" width="2.8" height="10.60" fill="none" stroke="#111" stroke-opacity="0.7" stroke-width="0.28"/><rect x="194.85" y="369.15" width="2.3" height="2.3" fill="#fff"/><path d="M205.50 309.70 L205.62 309.70 205.62 310.70 205.62 311.70 205.62 312.70 205.62 313.71 205.62 314.71 205.62 315.71 205.62 316.71 205.62 317.71 205.62 318.71 205.62 319.71 205.62 320.72 205.62 321.72 205.62 322.72 205.62 323.72 205.62 324.72 205.62 325.72 205.62 326.72 205.62 327.73 205.62 328.73 205.62 329.73 205.62 330.73 205.62 331.73 205.62 332.00 205.68 332.73 205.98 333.73 206.30 334.74 206.61 335.74 206.92 336.74 207.22 337.74 207.52 338.74 207.80 339.74 208.07 340.74 208.32 341.75 208.56 342.75 208.79 343.75 208.99 344.75 209.19 345.75 209.36 346.75 209.52 347.76 209.66 348.76 209.78 349.76 209.88 350.76 209.97 351.76 210.03 352.76 210.08 353.76 210.11 354.77 210.12 355.77 210.12 355.80 210.10 356.77 210.06 357.77 209.98 358.77 209.87 359.77 209.73 360.77 209.55 361.78 209.35 362.78 209.11 363.78 208.85 364.78 208.56 365.78 208.24 366.78 207.90 367.78 207.54 368.79 207.15 369.79 206.75 370.79 206.34 371.79 205.94 372.79 205.62 373.79 205.62 374.00 205.62 374.79 205.62 375.80 205.62 376.80 205.62 377.80 205.62 378.80 L205.38 378.80 205.38 377.80 205.38 376.80 205.38 375.80 205.38 374.79 205.38 374.00 205.38 373.79 205.06 372.79 204.66 371.79 204.25 370.79 203.85 369.79 203.46 368.79 203.10 367.78 202.76 366.78 202.44 365.78 202.15 364.78 201.89 363.78 201.65 362.78 201.45 361.78 201.27 360.77 201.13 359.77 201.02 358.77 200.94 357.77 200.90 356.77 200.88 355.80 200.88 355.77 200.89 354.77 200.92 353.76 200.97 352.76 201.03 351.76 201.12 350.76 201.22 349.76 201.34 348.76 201.48 347.76 201.64 346.75 201.81 345.75 202.01 344.75 202.21 343.75 202.44 342.75 202.68 341.75 202.93 340.74 203.20 339.74 203.48 338.74 203.78 337.74 204.08 336.74 204.39 335.74 204.70 334.74 205.02 333.73 205.32 332.73 205.38 332.00 205.38 331.73 205.38 330.73 205.38 329.73 205.38 328.73 205.38 327.73 205.38 326.72 205.38 325.72 205.38 324.72 205.38 323.72 205.38 322.72 205.38 321.72 205.38 320.72 205.38 319.71 205.38 318.71 205.38 317.71 205.38 316.71 205.38 315.71 205.38 314.71 205.38 313.71 205.38 312.70 205.38 311.70 205.38 310.70 205.38 309.70 Z" fill="#2f3e8e" stroke="#1a1a1a" stroke-width="0.55"/><rect x="204.10" y="347.63" width="2.8" height="16.72" fill="none" stroke="#111" stroke-opacity="0.7" stroke-width="0.28"/><rect x="204.35" y="355.85" width="2.3" height="2.3" fill="#fff"/><path d="M215.00 329.10 L215.12 329.10 215.12 329.73 215.12 330.36 215.12 331.00 215.12 331.63 215.12 332.26 215.12 332.89 215.12 333.52 215.12 334.16 215.12 334.79 215.12 335.42 215.12 336.05 215.12 336.68 215.12 337.31 215.12 337.95 215.12 338.00 215.23 338.58 215.53 339.21 215.84 339.84 216.14 340.47 216.45 341.11 216.75 341.74 217.03 342.37 217.31 343.00 217.57 343.63 217.82 344.27 218.06 344.90 218.28 345.53 218.48 346.16 218.67 346.79 218.85 347.42 219.00 348.06 219.14 348.69 219.26 349.32 219.37 349.95 219.45 350.58 219.52 351.22 219.57 351.85 219.60 352.48 219.62 353.11 219.62 353.30 219.62 353.74 219.59 354.38 219.55 355.01 219.49 355.64 219.40 356.27 219.30 356.90 219.18 357.53 219.04 358.17 218.88 358.80 218.71 359.43 218.51 360.06 218.30 360.69 218.08 361.33 217.83 361.96 217.57 362.59 217.30 363.22 217.01 363.85 216.71 364.49 216.40 365.12 216.08 365.75 215.76 366.38 215.44 367.01 215.14 367.64 215.12 368.00 215.12 368.28 215.12 368.91 215.12 369.54 215.12 370.17 215.12 370.80 215.12 371.44 215.12 372.07 215.12 372.70 L214.88 372.70 214.88 372.07 214.88 371.44 214.88 370.80 214.88 370.17 214.88 369.54 214.88 368.91 214.88 368.28 214.88 368.00 214.86 367.64 214.56 367.01 214.24 366.38 213.92 365.75 213.60 365.12 213.29 364.49 212.99 363.85 212.70 363.22 212.43 362.59 212.17 361.96 211.92 361.33 211.70 360.69 211.49 360.06 211.29 359.43 211.12 358.80 210.96 358.17 210.82 357.53 210.70 356.90 210.60 356.27 210.51 355.64 210.45 355.01 210.41 354.38 210.38 353.74 210.38 353.30 210.38 353.11 210.40 352.48 210.43 351.85 210.48 351.22 210.55 350.58 210.63 349.95 210.74 349.32 210.86 348.69 211.00 348.06 211.15 347.42 211.33 346.79 211.52 346.16 211.72 345.53 211.94 344.90 212.18 344.27 212.43 343.63 212.69 343.00 212.97 342.37 213.25 341.74 213.55 341.11 213.86 340.47 214.16 339.84 214.47 339.21 214.77 338.58 214.88 338.00 214.88 337.95 214.88 337.31 214.88 336.68 214.88 336.05 214.88 335.42 214.88 334.79 214.88 334.16 214.88 333.52 214.88 332.89 214.88 332.26 214.88 331.63 214.88 331.00 214.88 330.36 214.88 329.73 214.88 329.10 Z" fill="#e60000" stroke="#1a1a1a" stroke-width="0.55"/><rect x="213.60" y="348.99" width="2.8" height="12.40" fill="none" stroke="#111" stroke-opacity="0.7" stroke-width="0.28"/><rect x="213.85" y="354.15" width="2.3" height="2.3" fill="#fff"/><path d="M225.10 346.00 L225.22 346.00 225.22 347.23 225.22 348.46 225.22 349.69 225.22 350.92 225.22 352.15 225.22 353.38 225.22 354.61 225.22 355.84 225.22 357.07 225.22 358.30 225.22 359.53 225.22 360.77 225.22 362.00 225.22 363.23 225.22 364.46 225.22 365.69 225.22 366.92 225.22 368.15 225.22 369.38 225.22 370.61 225.22 371.84 225.22 373.07 225.22 374.30 225.22 375.53 225.22 376.76 225.22 377.99 225.22 379.22 225.22 380.45 225.22 381.68 225.22 382.91 225.22 384.14 225.22 385.37 225.22 386.60 225.22 387.83 225.22 389.07 225.22 390.30 225.22 391.53 225.22 392.76 225.22 393.00 225.47 393.99 226.00 395.22 226.52 396.45 227.01 397.68 227.47 398.91 227.89 400.14 228.25 401.37 228.56 402.60 228.82 403.83 229.02 405.06 229.17 406.29 229.25 407.52 229.28 408.70 229.28 408.75 229.25 409.98 229.17 411.21 229.03 412.44 228.84 413.67 228.59 414.90 228.30 416.13 227.95 417.37 227.56 418.60 227.13 419.83 226.66 421.06 226.17 422.29 225.66 423.52 225.22 424.75 225.22 425.00 225.22 425.98 225.22 427.21 225.22 428.44 225.22 429.67 225.22 430.90 L224.98 430.90 224.98 429.67 224.98 428.44 224.98 427.21 224.98 425.98 224.98 425.00 224.98 424.75 224.54 423.52 224.03 422.29 223.54 421.06 223.07 419.83 222.64 418.60 222.25 417.37 221.90 416.13 221.61 414.90 221.36 413.67 221.17 412.44 221.03 411.21 220.95 409.98 220.92 408.75 220.92 408.70 220.95 407.52 221.03 406.29 221.18 405.06 221.38 403.83 221.64 402.60 221.95 401.37 222.31 400.14 222.73 398.91 223.19 397.68 223.68 396.45 224.20 395.22 224.73 393.99 224.98 393.00 224.98 392.76 224.98 391.53 224.98 390.30 224.98 389.07 224.98 387.83 224.98 386.60 224.98 385.37 224.98 384.14 224.98 382.91 224.98 381.68 224.98 380.45 224.98 379.22 224.98 377.99 224.98 376.76 224.98 375.53 224.98 374.30 224.98 373.07 224.98 371.84 224.98 370.61 224.98 369.38 224.98 368.15 224.98 366.92 224.98 365.69 224.98 364.46 224.98 363.23 224.98 362.00 224.98 360.77 224.98 359.53 224.98 358.30 224.98 357.07 224.98 355.84 224.98 354.61 224.98 353.38 224.98 352.15 224.98 350.92 224.98 349.69 224.98 348.46 224.98 347.23 224.98 346.00 Z" fill="#2f3e8e" stroke="#1a1a1a" stroke-width="0.55"/><rect x="223.70" y="403.85" width="2.8" height="13.12" fill="none" stroke="#111" stroke-opacity="0.7" stroke-width="0.28"/><rect x="223.95" y="409.15" width="2.3" height="2.3" fill="#fff"/><path d="M234.40 366.30 L234.52 366.30 234.52 367.22 234.52 368.14 234.52 369.07 234.52 369.99 234.52 370.91 234.52 371.83 234.52 372.75 234.52 373.67 234.52 374.60 234.52 375.52 234.52 376.44 234.52 377.36 234.52 378.28 234.52 379.20 234.52 380.13 234.52 381.05 234.52 381.97 234.52 382.89 234.52 383.81 234.52 384.73 234.52 385.66 234.52 386.58 234.52 387.50 234.52 388.42 234.52 389.34 234.52 390.27 234.52 391.19 234.52 392.00 234.52 392.11 234.76 393.03 235.13 393.95 235.51 394.87 235.87 395.80 236.22 396.72 236.55 397.64 236.86 398.56 237.15 399.48 237.42 400.40 237.66 401.33 237.87 402.25 238.06 403.17 238.22 404.09 238.35 405.01 238.45 405.93 238.52 406.86 238.57 407.78 238.58 408.70 238.56 409.62 238.51 410.54 238.42 411.47 238.30 412.39 238.15 413.31 237.96 414.23 237.74 415.15 237.48 416.07 237.20 417.00 236.89 417.92 236.55 418.84 236.19 419.76 235.80 420.68 235.40 421.60 234.99 422.53 234.60 423.45 234.52 424.00 234.52 424.37 234.52 425.29 234.52 426.21 234.52 427.13 234.52 428.06 234.52 428.98 234.52 429.90 L234.28 429.90 234.28 428.98 234.28 428.06 234.28 427.13 234.28 426.21 234.28 425.29 234.28 424.37 234.28 424.00 234.20 423.45 233.81 422.53 233.40 421.60 233.00 420.68 232.61 419.76 232.25 418.84 231.91 417.92 231.60 417.00 231.32 416.07 231.06 415.15 230.84 414.23 230.65 413.31 230.50 412.39 230.38 411.47 230.29 410.54 230.24 409.62 230.22 408.70 230.23 407.78 230.28 406.86 230.35 405.93 230.45 405.01 230.58 404.09 230.74 403.17 230.93 402.25 231.14 401.33 231.38 400.40 231.65 399.48 231.94 398.56 232.25 397.64 232.58 396.72 232.93 395.80 233.29 394.87 233.67 393.95 234.04 393.03 234.28 392.11 234.28 392.00 234.28 391.19 234.28 390.27 234.28 389.34 234.28 388.42 234.28 387.50 234.28 386.58 234.28 385.66 234.28 384.73 234.28 383.81 234.28 382.89 234.28 381.97 234.28 381.05 234.28 380.13 234.28 379.20 234.28 378.28 234.28 377.36 234.28 376.44 234.28 375.52 234.28 374.60 234.28 373.67 234.28 372.75 234.28 371.83 234.28 370.91 234.28 369.99 234.28 369.07 234.28 368.14 234.28 367.22 234.28 366.30 Z" fill="#e60000" stroke="#1a1a1a" stroke-width="0.55"/><rect x="233.00" y="402.29" width="2.8" height="13.12" fill="none" stroke="#111" stroke-opacity="0.7" stroke-width="0.28"/><rect x="233.25" y="407.95" width="2.3" height="2.3" fill="#fff"/><path d="M244.00 353.10 L244.12 353.10 244.12 353.86 244.12 354.62 244.12 355.39 244.12 356.15 244.12 356.91 244.12 357.67 244.12 358.44 244.12 359.20 244.12 359.96 244.12 360.00 244.21 360.72 244.46 361.49 244.73 362.25 244.99 363.01 245.25 363.77 245.51 364.53 245.76 365.30 246.00 366.06 246.23 366.82 246.45 367.58 246.66 368.35 246.86 369.11 247.04 369.87 247.21 370.63 247.37 371.40 247.52 372.16 247.65 372.92 247.77 373.68 247.87 374.44 247.96 375.21 248.03 375.97 248.09 376.73 248.13 377.49 248.16 378.26 248.18 379.02 248.18 379.40 248.18 379.78 248.16 380.54 248.13 381.31 248.08 382.07 248.02 382.83 247.94 383.59 247.84 384.36 247.73 385.12 247.60 385.88 247.46 386.64 247.30 387.40 247.13 388.17 246.95 388.93 246.75 389.69 246.53 390.45 246.31 391.22 246.07 391.98 245.82 392.74 245.56 393.50 245.30 394.27 245.02 395.03 244.75 395.79 244.47 396.55 244.20 397.31 244.12 398.00 244.12 398.08 244.12 398.84 244.12 399.60 244.12 400.36 244.12 401.13 244.12 401.89 244.12 402.65 244.12 403.41 244.12 404.18 244.12 404.94 244.12 405.70 L243.88 405.70 243.88 404.94 243.88 404.18 243.88 403.41 243.88 402.65 243.88 401.89 243.88 401.13 243.88 400.36 243.88 399.60 243.88 398.84 243.88 398.08 243.88 398.00 243.80 397.31 243.53 396.55 243.25 395.79 242.98 395.03 242.70 394.27 242.44 393.50 242.18 392.74 241.93 391.98 241.69 391.22 241.47 390.45 241.25 389.69 241.05 388.93 240.87 388.17 240.70 387.40 240.54 386.64 240.40 385.88 240.27 385.12 240.16 384.36 240.06 383.59 239.98 382.83 239.92 382.07 239.87 381.31 239.84 380.54 239.82 379.78 239.82 379.40 239.82 379.02 239.84 378.26 239.87 377.49 239.91 376.73 239.97 375.97 240.04 375.21 240.13 374.44 240.23 373.68 240.35 372.92 240.48 372.16 240.63 371.40 240.79 370.63 240.96 369.87 241.14 369.11 241.34 368.35 241.55 367.58 241.77 366.82 242.00 366.06 242.24 365.30 242.49 364.53 242.75 363.77 243.01 363.01 243.27 362.25 243.54 361.49 243.79 360.72 243.88 360.00 243.88 359.96 243.88 359.20 243.88 358.44 243.88 357.67 243.88 356.91 243.88 356.15 243.88 355.39 243.88 354.62 243.88 353.86 243.88 353.10 Z" fill="#2f3e8e" stroke="#1a1a1a" stroke-width="0.55"/><rect x="242.60" y="372.22" width="2.8" height="15.28" fill="none" stroke="#111" stroke-opacity="0.7" stroke-width="0.28"/><rect x="242.85" y="378.85" width="2.3" height="2.3" fill="#fff"/><path d="M253.30 349.10 L253.42 349.10 253.42 349.88 253.42 350.65 253.42 351.43 253.42 352.20 253.42 352.98 253.42 353.75 253.42 354.53 253.42 355.30 253.42 356.08 253.42 356.85 253.42 357.63 253.42 358.40 253.42 359.18 253.42 359.96 253.42 360.00 253.50 360.73 253.74 361.51 254.00 362.28 254.26 363.06 254.51 363.83 254.76 364.61 255.00 365.38 255.24 366.16 255.46 366.93 255.68 367.71 255.89 368.48 256.08 369.26 256.27 370.03 256.44 370.81 256.60 371.59 256.74 372.36 256.88 373.14 257.00 373.91 257.11 374.69 257.20 375.46 257.28 376.24 257.35 377.01 257.40 377.79 257.44 378.56 257.47 379.34 257.48 380.11 257.48 380.40 257.48 380.89 257.46 381.67 257.42 382.44 257.36 383.22 257.28 383.99 257.19 384.77 257.07 385.54 256.94 386.32 256.79 387.09 256.63 387.87 256.44 388.64 256.24 389.42 256.03 390.19 255.80 390.97 255.55 391.74 255.30 392.52 255.02 393.30 254.74 394.07 254.45 394.85 254.16 395.62 253.86 396.40 253.57 397.17 253.42 397.95 253.42 398.00 253.42 398.72 253.42 399.50 253.42 400.27 253.42 401.05 253.42 401.82 253.42 402.60 L253.18 402.60 253.18 401.82 253.18 401.05 253.18 400.27 253.18 399.50 253.18 398.72 253.18 398.00 253.18 397.95 253.03 397.17 252.74 396.40 252.44 395.62 252.15 394.85 251.86 394.07 251.58 393.30 251.30 392.52 251.05 391.74 250.80 390.97 250.57 390.19 250.36 389.42 250.16 388.64 249.97 387.87 249.81 387.09 249.66 386.32 249.53 385.54 249.41 384.77 249.32 383.99 249.24 383.22 249.18 382.44 249.14 381.67 249.12 380.89 249.12 380.40 249.12 380.11 249.13 379.34 249.16 378.56 249.20 377.79 249.25 377.01 249.32 376.24 249.40 375.46 249.49 374.69 249.60 373.91 249.72 373.14 249.86 372.36 250.00 371.59 250.16 370.81 250.33 370.03 250.52 369.26 250.71 368.48 250.92 367.71 251.14 366.93 251.36 366.16 251.60 365.38 251.84 364.61 252.09 363.83 252.34 363.06 252.60 362.28 252.86 361.51 253.10 360.73 253.18 360.00 253.18 359.96 253.18 359.18 253.18 358.40 253.18 357.63 253.18 356.85 253.18 356.08 253.18 355.30 253.18 354.53 253.18 353.75 253.18 352.98 253.18 352.20 253.18 351.43 253.18 350.65 253.18 349.88 253.18 349.10 Z" fill="#e60000" stroke="#1a1a1a" stroke-width="0.55"/><rect x="251.90" y="372.26" width="2.8" height="15.28" fill="none" stroke="#111" stroke-opacity="0.7" stroke-width="0.28"/><rect x="252.15" y="379.25" width="2.3" height="2.3" fill="#fff"/><path d="M263.60 343.60 L263.72 343.60 263.72 344.38 263.72 345.16 263.72 345.93 263.72 346.71 263.72 347.49 263.72 348.27 263.72 349.05 263.72 349.83 263.72 350.60 263.72 351.38 263.72 352.16 263.72 352.94 263.72 353.72 263.72 354.50 263.72 355.27 263.72 356.05 263.72 356.83 263.72 357.61 263.72 358.00 263.73 358.39 264.05 359.17 264.39 359.94 264.73 360.72 265.06 361.50 265.37 362.28 265.67 363.06 265.95 363.83 266.22 364.61 266.46 365.39 266.68 366.17 266.87 366.95 267.04 367.73 267.19 368.50 267.31 369.28 267.41 370.06 267.49 370.84 267.54 371.62 267.56 372.40 267.56 372.70 267.56 373.17 267.54 373.95 267.50 374.73 267.44 375.51 267.36 376.29 267.27 377.07 267.16 377.84 267.03 378.62 266.88 379.40 266.72 380.18 266.54 380.96 266.35 381.73 266.13 382.51 265.91 383.29 265.67 384.07 265.41 384.85 265.15 385.63 264.87 386.40 264.59 387.18 264.30 387.96 264.01 388.74 263.74 389.52 263.72 390.00 263.72 390.30 263.72 391.07 263.72 391.85 263.72 392.63 263.72 393.41 263.72 394.19 263.72 394.97 263.72 395.74 263.72 396.52 263.72 397.30 L263.48 397.30 263.48 396.52 263.48 395.74 263.48 394.97 263.48 394.19 263.48 393.41 263.48 392.63 263.48 391.85 263.48 391.07 263.48 390.30 263.48 390.00 263.46 389.52 263.19 388.74 262.90 387.96 262.61 387.18 262.33 386.40 262.05 385.63 261.79 384.85 261.53 384.07 261.29 383.29 261.07 382.51 260.85 381.73 260.66 380.96 260.48 380.18 260.32 379.40 260.17 378.62 260.04 377.84 259.93 377.07 259.84 376.29 259.76 375.51 259.70 374.73 259.66 373.95 259.64 373.17 259.64 372.70 259.64 372.40 259.66 371.62 259.71 370.84 259.79 370.06 259.89 369.28 260.01 368.50 260.16 367.73 260.33 366.95 260.52 366.17 260.74 365.39 260.98 364.61 261.25 363.83 261.53 363.06 261.83 362.28 262.14 361.50 262.47 360.72 262.81 359.94 263.15 359.17 263.47 358.39 263.48 358.00 263.48 357.61 263.48 356.83 263.48 356.05 263.48 355.27 263.48 354.50 263.48 353.72 263.48 352.94 263.48 352.16 263.48 351.38 263.48 350.60 263.48 349.83 263.48 349.05 263.48 348.27 263.48 347.49 263.48 346.71 263.48 345.93 263.48 345.16 263.48 344.38 263.48 343.60 Z" fill="#2f3e8e" stroke="#1a1a1a" stroke-width="0.55"/><rect x="262.20" y="368.41" width="2.8" height="13.12" fill="none" stroke="#111" stroke-opacity="0.7" stroke-width="0.28"/><rect x="262.45" y="373.35" width="2.3" height="2.3" fill="#fff"/><path d="M272.80 343.60 L272.92 343.60 272.92 344.32 272.92 345.05 272.92 345.77 272.92 346.50 272.92 347.22 272.92 347.95 272.92 348.67 272.92 349.40 272.92 350.12 272.92 350.85 272.92 351.57 272.92 352.30 272.92 353.02 272.92 353.74 272.92 354.47 272.92 355.00 272.92 355.19 273.10 355.92 273.37 356.64 273.65 357.37 273.92 358.09 274.19 358.82 274.46 359.54 274.71 360.27 274.96 360.99 275.19 361.72 275.41 362.44 275.62 363.17 275.81 363.89 275.99 364.61 276.16 365.34 276.31 366.06 276.45 366.79 276.57 367.51 276.68 368.24 276.77 368.96 276.84 369.69 276.90 370.41 276.94 371.14 276.97 371.86 276.98 372.59 276.98 372.70 276.97 373.31 276.94 374.03 276.89 374.76 276.82 375.48 276.73 376.21 276.61 376.93 276.48 377.66 276.32 378.38 276.15 379.11 275.95 379.83 275.74 380.56 275.51 381.28 275.26 382.01 274.99 382.73 274.71 383.46 274.41 384.18 274.11 384.90 273.79 385.63 273.47 386.35 273.15 387.08 272.92 387.80 272.92 388.00 272.92 388.53 272.92 389.25 272.92 389.98 272.92 390.70 272.92 391.43 272.92 392.15 272.92 392.88 272.92 393.60 L272.68 393.60 272.68 392.88 272.68 392.15 272.68 391.43 272.68 390.70 272.68 389.98 272.68 389.25 272.68 388.53 272.68 388.00 272.68 387.80 272.45 387.08 272.13 386.35 271.81 385.63 271.49 384.90 271.19 384.18 270.89 383.46 270.61 382.73 270.34 382.01 270.09 381.28 269.86 380.56 269.65 379.83 269.45 379.11 269.28 378.38 269.12 377.66 268.99 376.93 268.87 376.21 268.78 375.48 268.71 374.76 268.66 374.03 268.63 373.31 268.62 372.70 268.62 372.59 268.63 371.86 268.66 371.14 268.70 370.41 268.76 369.69 268.83 368.96 268.92 368.24 269.03 367.51 269.15 366.79 269.29 366.06 269.44 365.34 269.61 364.61 269.79 363.89 269.98 363.17 270.19 362.44 270.41 361.72 270.64 360.99 270.89 360.27 271.14 359.54 271.41 358.82 271.68 358.09 271.95 357.37 272.23 356.64 272.50 355.92 272.68 355.19 272.68 355.00 272.68 354.47 272.68 353.74 272.68 353.02 272.68 352.30 272.68 351.57 272.68 350.85 272.68 350.12 272.68 349.40 272.68 348.67 272.68 347.95 272.68 347.22 272.68 346.50 272.68 345.77 272.68 345.05 272.68 344.32 272.68 343.60 Z" fill="#e60000" stroke="#1a1a1a" stroke-width="0.55"/><rect x="271.40" y="366.43" width="2.8" height="13.48" fill="none" stroke="#111" stroke-opacity="0.7" stroke-width="0.28"/><rect x="271.65" y="372.45" width="2.3" height="2.3" fill="#fff"/><path d="M282.70 361.80 L282.82 361.80 282.82 362.37 282.82 362.93 282.82 363.50 282.82 364.07 282.82 364.63 282.82 365.20 282.82 365.77 282.82 366.33 282.82 366.90 282.82 367.47 282.82 368.03 282.82 368.60 282.82 369.17 282.82 369.73 282.82 370.00 282.82 370.30 283.03 370.87 283.28 371.43 283.53 372.00 283.78 372.57 284.02 373.13 284.26 373.70 284.49 374.27 284.71 374.83 284.93 375.40 285.13 375.97 285.32 376.53 285.50 377.10 285.67 377.67 285.82 378.23 285.96 378.80 286.09 379.37 286.21 379.93 286.32 380.50 286.41 381.07 286.48 381.63 286.55 382.20 286.59 382.77 286.63 383.33 286.65 383.90 286.66 384.47 286.66 384.50 286.65 385.03 286.62 385.60 286.56 386.17 286.49 386.73 286.39 387.30 286.27 387.87 286.13 388.43 285.97 389.00 285.79 389.57 285.59 390.13 285.37 390.70 285.13 391.27 284.87 391.83 284.60 392.40 284.31 392.97 284.01 393.53 283.70 394.10 283.39 394.67 283.08 395.23 282.82 395.80 282.82 396.00 282.82 396.37 282.82 396.93 282.82 397.50 282.82 398.07 282.82 398.63 282.82 399.20 282.82 399.77 282.82 400.33 282.82 400.90 L282.58 400.90 282.58 400.33 282.58 399.77 282.58 399.20 282.58 398.63 282.58 398.07 282.58 397.50 282.58 396.93 282.58 396.37 282.58 396.00 282.58 395.80 282.32 395.23 282.01 394.67 281.70 394.10 281.39 393.53 281.09 392.97 280.80 392.40 280.53 391.83 280.27 391.27 280.03 390.70 279.81 390.13 279.61 389.57 279.43 389.00 279.27 388.43 279.13 387.87 279.01 387.30 278.91 386.73 278.84 386.17 278.78 385.60 278.75 385.03 278.74 384.50 278.74 384.47 278.75 383.90 278.77 383.33 278.81 382.77 278.85 382.20 278.92 381.63 278.99 381.07 279.08 380.50 279.19 379.93 279.31 379.37 279.44 378.80 279.58 378.23 279.73 377.67 279.90 377.10 280.08 376.53 280.27 375.97 280.47 375.40 280.69 374.83 280.91 374.27 281.14 373.70 281.38 373.13 281.62 372.57 281.87 372.00 282.12 371.43 282.37 370.87 282.58 370.30 282.58 370.00 282.58 369.73 282.58 369.17 282.58 368.60 282.58 368.03 282.58 367.47 282.58 366.90 282.58 366.33 282.58 365.77 282.58 365.20 282.58 364.63 282.58 364.07 282.58 363.50 282.58 362.93 282.58 362.37 282.58 361.80 Z" fill="#2f3e8e" stroke="#1a1a1a" stroke-width="0.55"/><rect x="281.30" y="379.48" width="2.8" height="10.96" fill="none" stroke="#111" stroke-opacity="0.7" stroke-width="0.28"/><rect x="281.55" y="384.35" width="2.3" height="2.3" fill="#fff"/><path d="M291.80 348.20 L291.92 348.20 291.92 348.94 291.92 349.68 291.92 350.41 291.92 351.15 291.92 351.89 291.92 352.63 291.92 353.36 291.92 354.10 291.92 354.84 291.92 355.58 291.92 356.31 291.92 357.05 291.92 357.79 291.92 358.53 291.92 359.27 291.92 360.00 291.92 360.74 291.92 361.48 291.92 362.22 291.92 362.95 291.92 363.69 291.92 364.43 291.92 365.17 291.92 365.90 291.92 366.64 291.92 367.38 291.92 368.12 291.92 368.86 291.92 369.59 291.92 370.00 291.92 370.33 292.24 371.07 292.58 371.81 292.93 372.54 293.26 373.28 293.59 374.02 293.90 374.76 294.19 375.49 294.46 376.23 294.71 376.97 294.94 377.71 295.15 378.44 295.34 379.18 295.50 379.92 295.64 380.66 295.76 381.40 295.85 382.13 295.92 382.87 295.96 383.61 295.98 384.35 295.98 384.50 295.97 385.08 295.90 385.82 295.80 386.56 295.64 387.30 295.44 388.03 295.19 388.77 294.91 389.51 294.58 390.25 294.21 390.99 293.80 391.72 293.36 392.46 292.90 393.20 292.43 393.94 291.97 394.67 291.92 395.00 291.92 395.41 291.92 396.15 291.92 396.89 291.92 397.62 291.92 398.36 291.92 399.10 L291.68 399.10 291.68 398.36 291.68 397.62 291.68 396.89 291.68 396.15 291.68 395.41 291.68 395.00 291.63 394.67 291.17 393.94 290.70 393.20 290.24 392.46 289.80 391.72 289.39 390.99 289.02 390.25 288.69 389.51 288.41 388.77 288.16 388.03 287.96 387.30 287.80 386.56 287.70 385.82 287.63 385.08 287.62 384.50 287.62 384.35 287.64 383.61 287.68 382.87 287.75 382.13 287.84 381.40 287.96 380.66 288.10 379.92 288.26 379.18 288.45 378.44 288.66 377.71 288.89 376.97 289.14 376.23 289.41 375.49 289.70 374.76 290.01 374.02 290.34 373.28 290.67 372.54 291.02 371.81 291.36 371.07 291.68 370.33 291.68 370.00 291.68 369.59 291.68 368.86 291.68 368.12 291.68 367.38 291.68 366.64 291.68 365.90 291.68 365.17 291.68 364.43 291.68 363.69 291.68 362.95 291.68 362.22 291.68 361.48 291.68 360.74 291.68 360.00 291.68 359.27 291.68 358.53 291.68 357.79 291.68 357.05 291.68 356.31 291.68 355.58 291.68 354.84 291.68 354.10 291.68 353.36 291.68 352.63 291.68 351.89 291.68 351.15 291.68 350.41 291.68 349.68 291.68 348.94 291.68 348.20 Z" fill="#e60000" stroke="#1a1a1a" stroke-width="0.55"/><rect x="290.40" y="378.98" width="2.8" height="10.60" fill="none" stroke="#111" stroke-opacity="0.7" stroke-width="0.28"/><rect x="290.65" y="383.85" width="2.3" height="2.3" fill="#fff"/><path d="M301.80 334.40 L301.92 334.40 301.92 334.83 301.92 335.27 301.92 335.70 301.92 336.14 301.92 336.57 301.92 337.01 301.92 337.44 301.92 337.88 301.92 338.31 301.92 338.75 301.92 339.18 301.92 339.62 301.92 340.05 301.92 340.49 301.92 340.92 301.92 341.36 301.92 341.79 301.92 342.00 301.93 342.23 302.24 342.66 302.56 343.10 302.88 343.53 303.20 343.97 303.50 344.40 303.80 344.83 304.08 345.27 304.34 345.70 304.59 346.14 304.81 346.57 305.02 347.01 305.21 347.44 305.38 347.88 305.53 348.31 305.66 348.75 305.77 349.18 305.85 349.62 305.92 350.05 305.96 350.49 305.98 350.92 305.98 351.10 305.98 351.36 305.95 351.79 305.90 352.23 305.83 352.66 305.74 353.10 305.62 353.53 305.49 353.97 305.33 354.40 305.15 354.83 304.94 355.27 304.72 355.70 304.48 356.14 304.22 356.57 303.94 357.01 303.65 357.44 303.34 357.88 303.02 358.31 302.69 358.75 302.36 359.18 302.04 359.62 301.92 360.00 301.92 360.05 301.92 360.49 301.92 360.92 301.92 361.36 301.92 361.79 301.92 362.23 301.92 362.66 301.92 363.10 301.92 363.53 301.92 363.97 301.92 364.40 L301.68 364.40 301.68 363.97 301.68 363.53 301.68 363.10 301.68 362.66 301.68 362.23 301.68 361.79 301.68 361.36 301.68 360.92 301.68 360.49 301.68 360.05 301.68 360.00 301.56 359.62 301.24 359.18 300.91 358.75 300.58 358.31 300.26 357.88 299.95 357.44 299.66 357.01 299.38 356.57 299.12 356.14 298.88 355.70 298.66 355.27 298.45 354.83 298.27 354.40 298.11 353.97 297.98 353.53 297.86 353.10 297.77 352.66 297.70 352.23 297.65 351.79 297.62 351.36 297.62 351.10 297.62 350.92 297.64 350.49 297.68 350.05 297.75 349.62 297.83 349.18 297.94 348.75 298.07 348.31 298.22 347.88 298.39 347.44 298.58 347.01 298.79 346.57 299.01 346.14 299.26 345.70 299.52 345.27 299.80 344.83 300.10 344.40 300.40 343.97 300.72 343.53 301.04 343.10 301.36 342.66 301.67 342.23 301.68 342.00 301.68 341.79 301.68 341.36 301.68 340.92 301.68 340.49 301.68 340.05 301.68 339.62 301.68 339.18 301.68 338.75 301.68 338.31 301.68 337.88 301.68 337.44 301.68 337.01 301.68 336.57 301.68 336.14 301.68 335.70 301.68 335.27 301.68 334.83 301.68 334.40 Z" fill="#2f3e8e" stroke="#1a1a1a" stroke-width="0.55"/><rect x="300.40" y="348.12" width="2.8" height="8.08" fill="none" stroke="#111" stroke-opacity="0.7" stroke-width="0.28"/><rect x="300.65" y="351.05" width="2.3" height="2.3" fill="#fff"/><path d="M311.20 331.10 L311.32 331.10 311.32 331.58 311.32 332.07 311.32 332.55 311.32 333.03 311.32 333.51 311.32 334.00 311.32 334.48 311.32 334.96 311.32 335.44 311.32 335.93 311.32 336.41 311.32 336.89 311.32 337.37 311.32 337.86 311.32 338.34 311.32 338.82 311.32 339.30 311.32 339.79 311.32 340.27 311.32 340.75 311.32 341.23 311.32 341.72 311.32 342.00 311.32 342.20 311.60 342.68 311.92 343.17 312.23 343.65 312.55 344.13 312.85 344.61 313.15 345.10 313.43 345.58 313.69 346.06 313.94 346.54 314.17 347.03 314.38 347.51 314.57 347.99 314.75 348.47 314.90 348.96 315.03 349.44 315.14 349.92 315.23 350.40 315.30 350.89 315.35 351.37 315.37 351.85 315.38 352.20 315.38 352.33 315.36 352.82 315.30 353.30 315.22 353.78 315.12 354.27 314.98 354.75 314.82 355.23 314.62 355.71 314.41 356.20 314.16 356.68 313.89 357.16 313.60 357.64 313.29 358.13 312.95 358.61 312.60 359.09 312.24 359.57 311.87 360.06 311.50 360.54 311.32 361.00 311.32 361.02 311.32 361.50 311.32 361.99 311.32 362.47 311.32 362.95 311.32 363.43 311.32 363.92 311.32 364.40 L311.08 364.40 311.08 363.92 311.08 363.43 311.08 362.95 311.08 362.47 311.08 361.99 311.08 361.50 311.08 361.02 311.08 361.00 310.90 360.54 310.53 360.06 310.16 359.57 309.80 359.09 309.45 358.61 309.11 358.13 308.80 357.64 308.51 357.16 308.24 356.68 307.99 356.20 307.78 355.71 307.58 355.23 307.42 354.75 307.28 354.27 307.18 353.78 307.10 353.30 307.04 352.82 307.02 352.33 307.02 352.20 307.03 351.85 307.05 351.37 307.10 350.89 307.17 350.40 307.26 349.92 307.37 349.44 307.50 348.96 307.65 348.47 307.83 347.99 308.02 347.51 308.23 347.03 308.46 346.54 308.71 346.06 308.97 345.58 309.25 345.10 309.55 344.61 309.85 344.13 310.17 343.65 310.48 343.17 310.80 342.68 311.08 342.20 311.08 342.00 311.08 341.72 311.08 341.23 311.08 340.75 311.08 340.27 311.08 339.79 311.08 339.30 311.08 338.82 311.08 338.34 311.08 337.86 311.08 337.37 311.08 336.89 311.08 336.41 311.08 335.93 311.08 335.44 311.08 334.96 311.08 334.48 311.08 334.00 311.08 333.51 311.08 333.03 311.08 332.55 311.08 332.07 311.08 331.58 311.08 331.10 Z" fill="#e60000" stroke="#1a1a1a" stroke-width="0.55"/><rect x="309.80" y="347.73" width="2.8" height="8.44" fill="none" stroke="#111" stroke-opacity="0.7" stroke-width="0.28"/><rect x="310.05" y="351.05" width="2.3" height="2.3" fill="#fff"/><path d="M321.10 320.00 L321.22 320.00 321.22 321.30 321.22 322.61 321.22 323.91 321.22 325.22 321.22 326.52 321.22 327.83 321.22 329.13 321.22 330.43 321.22 331.74 321.22 333.04 321.22 334.35 321.22 335.65 321.22 336.96 321.22 338.26 321.22 339.57 321.22 340.87 321.22 342.17 321.22 343.00 321.22 343.48 321.40 344.78 321.66 346.09 321.92 347.39 322.19 348.70 322.45 350.00 322.70 351.30 322.95 352.61 323.20 353.91 323.43 355.22 323.65 356.52 323.87 357.83 324.07 359.13 324.27 360.43 324.45 361.74 324.62 363.04 324.78 364.35 324.93 365.65 325.07 366.96 325.19 368.26 325.30 369.57 325.40 370.87 325.48 372.17 325.56 373.48 325.61 374.78 325.66 376.09 325.69 377.39 325.71 378.70 325.72 380.00 325.71 381.30 325.67 382.61 325.62 383.91 325.54 385.22 325.43 386.52 325.31 387.83 325.16 389.13 324.99 390.43 324.80 391.74 324.59 393.04 324.35 394.35 324.10 395.65 323.83 396.96 323.54 398.26 323.24 399.57 322.92 400.87 322.59 402.17 322.24 403.48 321.90 404.78 321.55 406.09 321.22 407.39 321.22 408.00 321.22 408.70 321.22 410.00 L320.98 410.00 320.98 408.70 320.98 408.00 320.98 407.39 320.65 406.09 320.30 404.78 319.96 403.48 319.61 402.17 319.28 400.87 318.96 399.57 318.66 398.26 318.37 396.96 318.10 395.65 317.85 394.35 317.61 393.04 317.40 391.74 317.21 390.43 317.04 389.13 316.89 387.83 316.77 386.52 316.66 385.22 316.58 383.91 316.53 382.61 316.49 381.30 316.48 380.00 316.49 378.70 316.51 377.39 316.54 376.09 316.59 374.78 316.64 373.48 316.72 372.17 316.80 370.87 316.90 369.57 317.01 368.26 317.13 366.96 317.27 365.65 317.42 364.35 317.58 363.04 317.75 361.74 317.93 360.43 318.13 359.13 318.33 357.83 318.55 356.52 318.77 355.22 319.00 353.91 319.25 352.61 319.50 351.30 319.75 350.00 320.01 348.70 320.28 347.39 320.54 346.09 320.80 344.78 320.98 343.48 320.98 343.00 320.98 342.17 320.98 340.87 320.98 339.57 320.98 338.26 320.98 336.96 320.98 335.65 320.98 334.35 320.98 333.04 320.98 331.74 320.98 330.43 320.98 329.13 320.98 327.83 320.98 326.52 320.98 325.22 320.98 323.91 320.98 322.61 320.98 321.30 320.98 320.00 Z" fill="#2f3e8e" stroke="#1a1a1a" stroke-width="0.55"/><rect x="319.70" y="370.28" width="2.8" height="25.00" fill="none" stroke="#111" stroke-opacity="0.7" stroke-width="0.28"/><rect x="319.95" y="383.25" width="2.3" height="2.3" fill="#fff"/><path d="M330.60 330.00 L330.72 330.00 330.72 331.22 330.72 332.43 330.72 333.65 330.72 334.87 330.72 336.09 330.72 337.30 330.72 338.52 330.72 339.74 330.72 340.96 330.72 342.17 330.72 343.00 330.72 343.39 330.87 344.61 331.11 345.83 331.35 347.04 331.59 348.26 331.84 349.48 332.08 350.70 332.32 351.91 332.55 353.13 332.77 354.35 332.99 355.57 333.20 356.78 333.40 358.00 333.59 359.22 333.78 360.43 333.95 361.65 334.11 362.87 334.27 364.09 334.41 365.30 334.55 366.52 334.67 367.74 334.79 368.96 334.89 370.17 334.98 371.39 335.07 372.61 335.14 373.83 335.20 375.04 335.25 376.26 335.28 377.48 335.31 378.70 335.33 379.91 335.33 381.00 335.33 381.13 335.32 382.35 335.29 383.57 335.24 384.78 335.17 386.00 335.08 387.22 334.97 388.43 334.85 389.65 334.71 390.87 334.54 392.09 334.36 393.30 334.17 394.52 333.95 395.74 333.72 396.96 333.48 398.17 333.22 399.39 332.94 400.61 332.65 401.83 332.35 403.04 332.05 404.26 331.73 405.48 331.41 406.70 331.09 407.91 330.78 409.13 330.72 410.00 330.72 410.35 330.72 411.57 330.72 412.78 330.72 414.00 L330.48 414.00 330.48 412.78 330.48 411.57 330.48 410.35 330.48 410.00 330.42 409.13 330.11 407.91 329.79 406.70 329.47 405.48 329.15 404.26 328.85 403.04 328.55 401.83 328.26 400.61 327.98 399.39 327.72 398.17 327.48 396.96 327.25 395.74 327.03 394.52 326.84 393.30 326.66 392.09 326.49 390.87 326.35 389.65 326.23 388.43 326.12 387.22 326.03 386.00 325.96 384.78 325.91 383.57 325.88 382.35 325.87 381.13 325.87 381.00 325.87 379.91 325.89 378.70 325.92 377.48 325.95 376.26 326.00 375.04 326.06 373.83 326.13 372.61 326.22 371.39 326.31 370.17 326.41 368.96 326.53 367.74 326.65 366.52 326.79 365.30 326.93 364.09 327.09 362.87 327.25 361.65 327.42 360.43 327.61 359.22 327.80 358.00 328.00 356.78 328.21 355.57 328.43 354.35 328.65 353.13 328.88 351.91 329.12 350.70 329.36 349.48 329.61 348.26 329.85 347.04 330.09 345.83 330.33 344.61 330.48 343.39 330.48 343.00 330.48 342.17 330.48 340.96 330.48 339.74 330.48 338.52 330.48 337.30 330.48 336.09 330.48 334.87 330.48 333.65 330.48 332.43 330.48 331.22 330.48 330.00 Z" fill="#e60000" stroke="#1a1a1a" stroke-width="0.55"/><rect x="329.20" y="368.82" width="2.8" height="25.72" fill="none" stroke="#111" stroke-opacity="0.7" stroke-width="0.28"/><rect x="329.45" y="382.15" width="2.3" height="2.3" fill="#fff"/><path d="M340.40 302.60 L340.52 302.60 340.52 304.23 340.52 305.86 340.52 307.49 340.52 309.12 340.52 310.74 340.52 312.37 340.52 314.00 340.52 315.63 340.52 317.26 340.52 318.89 340.52 320.52 340.52 322.15 340.52 323.78 340.52 325.41 340.52 327.03 340.52 328.66 340.52 330.29 340.52 331.92 340.52 333.55 340.52 335.18 340.52 336.81 340.52 338.44 340.52 340.07 340.52 341.70 340.52 343.00 340.52 343.32 340.71 344.95 341.00 346.58 341.31 348.21 341.61 349.84 341.91 351.47 342.20 353.10 342.48 354.73 342.76 356.36 343.02 357.99 343.26 359.61 343.50 361.24 343.72 362.87 343.92 364.50 344.11 366.13 344.29 367.76 344.45 369.39 344.59 371.02 344.72 372.65 344.83 374.28 344.92 375.90 344.99 377.53 345.05 379.16 345.10 380.79 345.12 382.42 345.13 384.00 345.13 384.05 345.11 385.68 345.05 387.31 344.96 388.94 344.83 390.57 344.67 392.19 344.47 393.82 344.23 395.45 343.96 397.08 343.66 398.71 343.33 400.34 342.97 401.97 342.58 403.60 342.17 405.23 341.74 406.86 341.30 408.48 340.85 410.11 340.52 411.74 340.52 412.00 340.52 413.37 340.52 415.00 L340.28 415.00 340.28 413.37 340.28 412.00 340.28 411.74 339.95 410.11 339.50 408.48 339.06 406.86 338.63 405.23 338.22 403.60 337.83 401.97 337.47 400.34 337.14 398.71 336.84 397.08 336.57 395.45 336.33 393.82 336.13 392.19 335.97 390.57 335.84 388.94 335.75 387.31 335.69 385.68 335.67 384.05 335.67 384.00 335.68 382.42 335.70 380.79 335.75 379.16 335.81 377.53 335.88 375.90 335.97 374.28 336.08 372.65 336.21 371.02 336.35 369.39 336.51 367.76 336.69 366.13 336.88 364.50 337.08 362.87 337.30 361.24 337.54 359.61 337.78 357.99 338.04 356.36 338.32 354.73 338.60 353.10 338.89 351.47 339.19 349.84 339.49 348.21 339.80 346.58 340.09 344.95 340.28 343.32 340.28 343.00 340.28 341.70 340.28 340.07 340.28 338.44 340.28 336.81 340.28 335.18 340.28 333.55 340.28 331.92 340.28 330.29 340.28 328.66 340.28 327.03 340.28 325.41 340.28 323.78 340.28 322.15 340.28 320.52 340.28 318.89 340.28 317.26 340.28 315.63 340.28 314.00 340.28 312.37 340.28 310.74 340.28 309.12 340.28 307.49 340.28 305.86 340.28 304.23 340.28 302.60 Z" fill="#2f3e8e" stroke="#1a1a1a" stroke-width="0.55"/><rect x="339.00" y="374.14" width="2.8" height="26.44" fill="none" stroke="#111" stroke-opacity="0.7" stroke-width="0.28"/><rect x="339.25" y="388.55" width="2.3" height="2.3" fill="#fff"/><path d="M349.90 332.90 L350.02 332.90 350.02 334.10 350.02 335.31 350.02 336.51 350.02 337.72 350.02 338.92 350.02 340.13 350.02 341.33 350.02 342.53 350.02 343.74 350.02 344.94 350.02 346.15 350.02 347.35 350.02 348.56 350.02 349.76 350.02 350.97 350.02 352.17 350.02 353.37 350.02 354.58 350.02 355.00 350.03 355.78 350.28 356.99 350.54 358.19 350.81 359.40 351.08 360.60 351.34 361.80 351.59 363.01 351.84 364.21 352.08 365.42 352.31 366.62 352.53 367.83 352.74 369.03 352.94 370.23 353.13 371.44 353.31 372.64 353.47 373.85 353.62 375.05 353.76 376.26 353.89 377.46 354.00 378.67 354.10 379.87 354.18 381.07 354.25 382.28 354.31 383.48 354.36 384.69 354.39 385.89 354.41 387.10 354.41 388.00 354.41 388.30 354.39 389.50 354.34 390.71 354.27 391.91 354.18 393.12 354.05 394.32 353.90 395.53 353.73 396.73 353.53 397.93 353.31 399.14 353.07 400.34 352.80 401.55 352.51 402.75 352.21 403.96 351.88 405.16 351.54 406.37 351.18 407.57 350.82 408.77 350.45 409.98 350.10 411.18 350.02 412.00 350.02 412.39 350.02 413.59 350.02 414.80 350.02 416.00 L349.78 416.00 349.78 414.80 349.78 413.59 349.78 412.39 349.78 412.00 349.70 411.18 349.35 409.98 348.98 408.77 348.62 407.57 348.26 406.37 347.92 405.16 347.59 403.96 347.29 402.75 347.00 401.55 346.73 400.34 346.49 399.14 346.27 397.93 346.07 396.73 345.90 395.53 345.75 394.32 345.62 393.12 345.53 391.91 345.46 390.71 345.41 389.50 345.39 388.30 345.39 388.00 345.39 387.10 345.41 385.89 345.44 384.69 345.49 383.48 345.55 382.28 345.62 381.07 345.70 379.87 345.80 378.67 345.91 377.46 346.04 376.26 346.18 375.05 346.33 373.85 346.49 372.64 346.67 371.44 346.86 370.23 347.06 369.03 347.27 367.83 347.49 366.62 347.72 365.42 347.96 364.21 348.21 363.01 348.46 361.80 348.72 360.60 348.99 359.40 349.26 358.19 349.52 356.99 349.77 355.78 349.78 355.00 349.78 354.58 349.78 353.37 349.78 352.17 349.78 350.97 349.78 349.76 349.78 348.56 349.78 347.35 349.78 346.15 349.78 344.94 349.78 343.74 349.78 342.53 349.78 341.33 349.78 340.13 349.78 338.92 349.78 337.72 349.78 336.51 349.78 335.31 349.78 334.10 349.78 332.90 Z" fill="#e60000" stroke="#1a1a1a" stroke-width="0.55"/><rect x="348.50" y="377.82" width="2.8" height="22.12" fill="none" stroke="#111" stroke-opacity="0.7" stroke-width="0.28"/><rect x="348.75" y="389.35" width="2.3" height="2.3" fill="#fff"/><path d="M359.40 315.20 L359.52 315.20 359.52 315.77 359.52 316.33 359.52 316.90 359.52 317.47 359.52 318.03 359.52 318.60 359.52 319.17 359.52 319.73 359.52 320.30 359.52 320.87 359.52 321.43 359.52 322.00 359.52 322.57 359.52 323.13 359.52 323.70 359.52 324.27 359.52 324.83 359.52 325.00 359.59 325.40 359.90 325.97 360.23 326.53 360.55 327.10 360.87 327.67 361.18 328.23 361.48 328.80 361.75 329.37 362.02 329.93 362.26 330.50 362.49 331.07 362.69 331.63 362.88 332.20 363.04 332.77 363.18 333.33 363.31 333.90 363.41 334.47 363.48 335.03 363.54 335.60 363.57 336.17 363.58 336.70 363.58 336.73 363.57 337.30 363.54 337.87 363.50 338.43 363.44 339.00 363.36 339.57 363.26 340.13 363.15 340.70 363.02 341.27 362.87 341.83 362.71 342.40 362.53 342.97 362.34 343.53 362.13 344.10 361.91 344.67 361.67 345.23 361.42 345.80 361.16 346.37 360.89 346.93 360.61 347.50 360.33 348.07 360.04 348.63 359.75 349.20 359.52 349.77 359.52 350.00 359.52 350.33 359.52 350.90 359.52 351.47 359.52 352.03 359.52 352.60 359.52 353.17 359.52 353.73 359.52 354.30 L359.28 354.30 359.28 353.73 359.28 353.17 359.28 352.60 359.28 352.03 359.28 351.47 359.28 350.90 359.28 350.33 359.28 350.00 359.28 349.77 359.05 349.20 358.76 348.63 358.47 348.07 358.19 347.50 357.91 346.93 357.64 346.37 357.38 345.80 357.13 345.23 356.89 344.67 356.67 344.10 356.46 343.53 356.27 342.97 356.09 342.40 355.93 341.83 355.78 341.27 355.65 340.70 355.54 340.13 355.44 339.57 355.36 339.00 355.30 338.43 355.26 337.87 355.23 337.30 355.22 336.73 355.22 336.70 355.23 336.17 355.26 335.60 355.32 335.03 355.39 334.47 355.49 333.90 355.62 333.33 355.76 332.77 355.92 332.20 356.11 331.63 356.31 331.07 356.54 330.50 356.78 329.93 357.05 329.37 357.32 328.80 357.62 328.23 357.93 327.67 358.25 327.10 358.57 326.53 358.90 325.97 359.21 325.40 359.28 325.00 359.28 324.83 359.28 324.27 359.28 323.70 359.28 323.13 359.28 322.57 359.28 322.00 359.28 321.43 359.28 320.87 359.28 320.30 359.28 319.73 359.28 319.17 359.28 318.60 359.28 318.03 359.28 317.47 359.28 316.90 359.28 316.33 359.28 315.77 359.28 315.20 Z" fill="#2f3e8e" stroke="#1a1a1a" stroke-width="0.55"/><rect x="358.00" y="332.89" width="2.8" height="10.60" fill="none" stroke="#111" stroke-opacity="0.7" stroke-width="0.28"/><rect x="358.25" y="336.75" width="2.3" height="2.3" fill="#fff"/><path d="M368.80 316.50 L368.92 316.50 368.92 317.05 368.92 317.60 368.92 318.14 368.92 318.69 368.92 319.24 368.92 319.79 368.92 320.33 368.92 320.88 368.92 321.43 368.92 321.98 368.92 322.53 368.92 323.07 368.92 323.62 368.92 324.17 368.92 324.72 368.92 325.27 368.92 325.81 368.92 326.00 368.95 326.36 369.24 326.91 369.53 327.46 369.82 328.00 370.11 328.55 370.39 329.10 370.66 329.65 370.92 330.20 371.16 330.74 371.39 331.29 371.60 331.84 371.80 332.39 371.98 332.93 372.14 333.48 372.28 334.03 372.41 334.58 372.51 335.13 372.60 335.67 372.67 336.22 372.72 336.77 372.75 337.32 372.76 337.87 372.76 337.90 372.75 338.41 372.73 338.96 372.68 339.51 372.62 340.06 372.53 340.60 372.43 341.15 372.31 341.70 372.18 342.25 372.02 342.80 371.85 343.34 371.67 343.89 371.46 344.44 371.24 344.99 371.01 345.53 370.76 346.08 370.50 346.63 370.23 347.18 369.95 347.73 369.66 348.27 369.37 348.82 369.09 349.37 368.92 349.92 368.92 350.00 368.92 350.47 368.92 351.01 368.92 351.56 368.92 352.11 368.92 352.66 368.92 353.20 368.92 353.75 368.92 354.30 L368.68 354.30 368.68 353.75 368.68 353.20 368.68 352.66 368.68 352.11 368.68 351.56 368.68 351.01 368.68 350.47 368.68 350.00 368.68 349.92 368.51 349.37 368.23 348.82 367.94 348.27 367.65 347.73 367.37 347.18 367.10 346.63 366.84 346.08 366.59 345.53 366.36 344.99 366.14 344.44 365.93 343.89 365.75 343.34 365.58 342.80 365.42 342.25 365.29 341.70 365.17 341.15 365.07 340.60 364.98 340.06 364.92 339.51 364.87 338.96 364.85 338.41 364.84 337.90 364.84 337.87 364.85 337.32 364.88 336.77 364.93 336.22 365.00 335.67 365.09 335.13 365.19 334.58 365.32 334.03 365.46 333.48 365.62 332.93 365.80 332.39 366.00 331.84 366.21 331.29 366.44 330.74 366.68 330.20 366.94 329.65 367.21 329.10 367.49 328.55 367.78 328.00 368.07 327.46 368.36 326.91 368.65 326.36 368.68 326.00 368.68 325.81 368.68 325.27 368.68 324.72 368.68 324.17 368.68 323.62 368.68 323.07 368.68 322.53 368.68 321.98 368.68 321.43 368.68 320.88 368.68 320.33 368.68 319.79 368.68 319.24 368.68 318.69 368.68 318.14 368.68 317.60 368.68 317.05 368.68 316.50 Z" fill="#e60000" stroke="#1a1a1a" stroke-width="0.55"/><rect x="367.40" y="332.92" width="2.8" height="10.24" fill="none" stroke="#111" stroke-opacity="0.7" stroke-width="0.28"/><rect x="367.65" y="336.85" width="2.3" height="2.3" fill="#fff"/><path d="M378.60 324.20 L378.72 324.20 378.72 324.83 378.72 325.47 378.72 326.10 378.72 326.73 378.72 327.37 378.72 328.00 378.72 328.63 378.72 329.27 378.72 329.90 378.72 330.53 378.72 331.17 378.72 331.80 378.72 332.43 378.72 333.07 378.72 333.70 378.72 334.00 378.74 334.33 379.08 334.97 379.43 335.60 379.78 336.23 380.12 336.87 380.46 337.50 380.77 338.13 381.07 338.77 381.36 339.40 381.62 340.03 381.86 340.67 382.08 341.30 382.28 341.93 382.45 342.57 382.60 343.20 382.73 343.83 382.83 344.47 382.91 345.10 382.96 345.73 382.99 346.37 383.00 346.80 383.00 347.00 382.98 347.63 382.94 348.27 382.87 348.90 382.78 349.53 382.67 350.17 382.54 350.80 382.38 351.43 382.20 352.07 382.01 352.70 381.78 353.33 381.54 353.97 381.28 354.60 381.01 355.23 380.71 355.87 380.40 356.50 380.08 357.13 379.74 357.77 379.40 358.40 379.06 359.03 378.74 359.67 378.72 360.00 378.72 360.30 378.72 360.93 378.72 361.57 378.72 362.20 378.72 362.83 378.72 363.47 378.72 364.10 378.72 364.73 378.72 365.37 378.72 366.00 378.72 366.63 378.72 367.27 378.72 367.90 L378.48 367.90 378.48 367.27 378.48 366.63 378.48 366.00 378.48 365.37 378.48 364.73 378.48 364.10 378.48 363.47 378.48 362.83 378.48 362.20 378.48 361.57 378.48 360.93 378.48 360.30 378.48 360.00 378.46 359.67 378.14 359.03 377.80 358.40 377.46 357.77 377.12 357.13 376.80 356.50 376.49 355.87 376.19 355.23 375.92 354.60 375.66 353.97 375.42 353.33 375.19 352.70 375.00 352.07 374.82 351.43 374.66 350.80 374.53 350.17 374.42 349.53 374.33 348.90 374.26 348.27 374.22 347.63 374.20 347.00 374.20 346.80 374.21 346.37 374.24 345.73 374.29 345.10 374.37 344.47 374.47 343.83 374.60 343.20 374.75 342.57 374.92 341.93 375.12 341.30 375.34 340.67 375.58 340.03 375.84 339.40 376.13 338.77 376.43 338.13 376.74 337.50 377.08 336.87 377.42 336.23 377.77 335.60 378.12 334.97 378.46 334.33 378.48 334.00 378.48 333.70 378.48 333.07 378.48 332.43 378.48 331.80 378.48 331.17 378.48 330.53 378.48 329.90 378.48 329.27 378.48 328.63 378.48 328.00 378.48 327.37 378.48 326.73 378.48 326.10 378.48 325.47 378.48 324.83 378.48 324.20 Z" fill="#2f3e8e" stroke="#1a1a1a" stroke-width="0.55"/><rect x="377.20" y="343.09" width="2.8" height="10.96" fill="none" stroke="#111" stroke-opacity="0.7" stroke-width="0.28"/><rect x="377.45" y="347.35" width="2.3" height="2.3" fill="#fff"/><path d="M388.10 333.90 L388.22 333.90 388.22 334.38 388.22 334.86 388.22 335.34 388.22 335.82 388.22 336.30 388.22 336.78 388.22 337.26 388.22 337.74 388.22 338.00 388.22 338.22 388.50 338.70 388.82 339.18 389.14 339.66 389.45 340.14 389.75 340.62 390.05 341.10 390.33 341.58 390.59 342.06 390.84 342.53 391.07 343.01 391.29 343.49 391.49 343.97 391.67 344.45 391.83 344.93 391.97 345.41 392.09 345.89 392.19 346.37 392.27 346.85 392.33 347.33 392.37 347.81 392.39 348.29 392.39 348.50 392.39 348.77 392.37 349.25 392.33 349.73 392.28 350.21 392.21 350.69 392.13 351.17 392.02 351.65 391.90 352.13 391.77 352.61 391.61 353.09 391.45 353.57 391.26 354.05 391.07 354.53 390.85 355.01 390.63 355.49 390.39 355.97 390.13 356.45 389.87 356.93 389.60 357.41 389.32 357.89 389.03 358.37 388.74 358.84 388.45 359.32 388.22 359.80 388.22 360.00 388.22 360.28 388.22 360.76 388.22 361.24 388.22 361.72 388.22 362.20 388.22 362.68 388.22 363.16 388.22 363.64 388.22 364.12 388.22 364.60 388.22 365.08 388.22 365.56 388.22 366.04 388.22 366.52 388.22 367.00 L387.98 367.00 387.98 366.52 387.98 366.04 387.98 365.56 387.98 365.08 387.98 364.60 387.98 364.12 387.98 363.64 387.98 363.16 387.98 362.68 387.98 362.20 387.98 361.72 387.98 361.24 387.98 360.76 387.98 360.28 387.98 360.00 387.98 359.80 387.75 359.32 387.46 358.84 387.17 358.37 386.88 357.89 386.60 357.41 386.33 356.93 386.07 356.45 385.81 355.97 385.57 355.49 385.35 355.01 385.13 354.53 384.94 354.05 384.75 353.57 384.59 353.09 384.43 352.61 384.30 352.13 384.18 351.65 384.07 351.17 383.99 350.69 383.92 350.21 383.87 349.73 383.83 349.25 383.81 348.77 383.81 348.50 383.81 348.29 383.83 347.81 383.87 347.33 383.93 346.85 384.01 346.37 384.11 345.89 384.23 345.41 384.37 344.93 384.53 344.45 384.71 343.97 384.91 343.49 385.13 343.01 385.36 342.53 385.61 342.06 385.87 341.58 386.15 341.10 386.45 340.62 386.75 340.14 387.06 339.66 387.38 339.18 387.70 338.70 387.98 338.22 387.98 338.00 387.98 337.74 387.98 337.26 387.98 336.78 387.98 336.30 387.98 335.82 387.98 335.34 387.98 334.86 387.98 334.38 387.98 333.90 Z" fill="#e60000" stroke="#1a1a1a" stroke-width="0.55"/><rect x="386.70" y="346.32" width="2.8" height="9.52" fill="none" stroke="#111" stroke-opacity="0.7" stroke-width="0.28"/><rect x="386.95" y="349.75" width="2.3" height="2.3" fill="#fff"/><path d="M398.00 322.60 L398.12 322.60 398.12 323.17 398.12 323.75 398.12 324.32 398.12 324.90 398.12 325.47 398.12 326.04 398.12 326.62 398.12 327.19 398.12 327.77 398.12 328.34 398.12 328.91 398.12 329.49 398.12 330.06 398.12 330.63 398.12 331.21 398.12 331.78 398.12 332.36 398.12 332.93 398.12 333.50 398.12 334.00 398.12 334.08 398.30 334.65 398.61 335.23 398.92 335.80 399.23 336.37 399.53 336.95 399.82 337.52 400.10 338.10 400.37 338.67 400.62 339.24 400.86 339.82 401.08 340.39 401.28 340.97 401.47 341.54 401.64 342.11 401.78 342.69 401.92 343.26 402.03 343.83 402.12 344.41 402.19 344.98 402.24 345.56 402.28 346.13 402.29 346.70 402.29 346.80 402.28 347.28 402.25 347.85 402.19 348.43 402.10 349.00 401.99 349.57 401.85 350.15 401.69 350.72 401.51 351.30 401.30 351.87 401.06 352.44 400.81 353.02 400.53 353.59 400.24 354.17 399.92 354.74 399.59 355.31 399.25 355.89 398.90 356.46 398.54 357.03 398.20 357.61 398.12 358.00 398.12 358.18 398.12 358.76 398.12 359.33 398.12 359.90 398.12 360.48 398.12 361.05 398.12 361.63 398.12 362.20 L397.88 362.20 397.88 361.63 397.88 361.05 397.88 360.48 397.88 359.90 397.88 359.33 397.88 358.76 397.88 358.18 397.88 358.00 397.80 357.61 397.46 357.03 397.10 356.46 396.75 355.89 396.41 355.31 396.08 354.74 395.76 354.17 395.47 353.59 395.19 353.02 394.94 352.44 394.70 351.87 394.49 351.30 394.31 350.72 394.15 350.15 394.01 349.57 393.90 349.00 393.81 348.43 393.75 347.85 393.72 347.28 393.71 346.80 393.71 346.70 393.72 346.13 393.76 345.56 393.81 344.98 393.88 344.41 393.97 343.83 394.08 343.26 394.22 342.69 394.36 342.11 394.53 341.54 394.72 340.97 394.92 340.39 395.14 339.82 395.38 339.24 395.63 338.67 395.90 338.10 396.18 337.52 396.47 336.95 396.77 336.37 397.08 335.80 397.39 335.23 397.70 334.65 397.88 334.08 397.88 334.00 397.88 333.50 397.88 332.93 397.88 332.36 397.88 331.78 397.88 331.21 397.88 330.63 397.88 330.06 397.88 329.49 397.88 328.91 397.88 328.34 397.88 327.77 397.88 327.19 397.88 326.62 397.88 326.04 397.88 325.47 397.88 324.90 397.88 324.32 397.88 323.75 397.88 323.17 397.88 322.60 Z" fill="#2f3e8e" stroke="#1a1a1a" stroke-width="0.55"/><rect x="396.60" y="343.09" width="2.8" height="10.24" fill="none" stroke="#111" stroke-opacity="0.7" stroke-width="0.28"/><rect x="396.85" y="347.35" width="2.3" height="2.3" fill="#fff"/><path d="M407.40 330.70 L407.52 330.70 407.52 331.14 407.52 331.59 407.52 332.03 407.52 332.48 407.52 332.92 407.52 333.37 407.52 333.81 407.52 334.26 407.52 334.70 407.52 335.15 407.52 335.59 407.52 336.04 407.52 336.48 407.52 336.93 407.52 337.37 407.52 337.82 407.52 338.00 407.53 338.26 407.80 338.71 408.09 339.15 408.37 339.60 408.66 340.04 408.93 340.49 409.20 340.93 409.46 341.38 409.70 341.82 409.94 342.27 410.16 342.71 410.36 343.16 410.55 343.60 410.73 344.05 410.89 344.49 411.03 344.94 411.16 345.38 411.27 345.83 411.36 346.27 411.44 346.72 411.50 347.16 411.55 347.61 411.57 348.05 411.58 348.50 411.58 348.50 411.57 348.94 411.54 349.39 411.49 349.83 411.41 350.28 411.32 350.72 411.20 351.17 411.07 351.61 410.91 352.06 410.74 352.50 410.55 352.95 410.33 353.39 410.10 353.84 409.86 354.28 409.59 354.73 409.31 355.17 409.02 355.62 408.72 356.06 408.41 356.51 408.09 356.95 407.78 357.40 407.52 357.84 407.52 358.00 407.52 358.29 407.52 358.73 407.52 359.18 407.52 359.62 407.52 360.07 407.52 360.51 407.52 360.96 407.52 361.40 L407.28 361.40 407.28 360.96 407.28 360.51 407.28 360.07 407.28 359.62 407.28 359.18 407.28 358.73 407.28 358.29 407.28 358.00 407.28 357.84 407.02 357.40 406.71 356.95 406.39 356.51 406.08 356.06 405.78 355.62 405.49 355.17 405.21 354.73 404.94 354.28 404.70 353.84 404.47 353.39 404.25 352.95 404.06 352.50 403.89 352.06 403.73 351.61 403.60 351.17 403.48 350.72 403.39 350.28 403.31 349.83 403.26 349.39 403.23 348.94 403.22 348.50 403.22 348.50 403.23 348.05 403.25 347.61 403.30 347.16 403.36 346.72 403.44 346.27 403.53 345.83 403.64 345.38 403.77 344.94 403.91 344.49 404.07 344.05 404.25 343.60 404.44 343.16 404.64 342.71 404.86 342.27 405.10 341.82 405.34 341.38 405.60 340.93 405.87 340.49 406.14 340.04 406.43 339.60 406.71 339.15 407.00 338.71 407.27 338.26 407.28 338.00 407.28 337.82 407.28 337.37 407.28 336.93 407.28 336.48 407.28 336.04 407.28 335.59 407.28 335.15 407.28 334.70 407.28 334.26 407.28 333.81 407.28 333.37 407.28 332.92 407.28 332.48 407.28 332.03 407.28 331.59 407.28 331.14 407.28 330.70 Z" fill="#e60000" stroke="#1a1a1a" stroke-width="0.55"/><rect x="406.00" y="345.52" width="2.8" height="8.80" fill="none" stroke="#111" stroke-opacity="0.7" stroke-width="0.28"/><rect x="406.25" y="348.95" width="2.3" height="2.3" fill="#fff"/><path d="M417.20 358.30 L417.32 358.30 417.32 358.89 417.32 359.47 417.32 360.06 417.32 360.64 417.32 361.23 417.32 361.81 417.32 362.40 417.32 362.98 417.32 363.57 417.32 364.16 417.32 364.74 417.32 365.33 417.32 365.91 417.32 366.50 417.32 367.08 417.32 367.67 417.32 368.25 417.32 368.84 417.32 369.42 417.32 370.00 417.32 370.01 417.45 370.60 417.73 371.18 418.02 371.77 418.31 372.35 418.59 372.94 418.86 373.52 419.13 374.11 419.38 374.69 419.62 375.28 419.85 375.87 420.06 376.45 420.25 377.04 420.43 377.62 420.59 378.21 420.74 378.79 420.87 379.38 420.98 379.96 421.07 380.55 421.15 381.13 421.20 381.72 421.24 382.31 421.27 382.89 421.27 383.30 421.27 383.48 421.25 384.06 421.20 384.65 421.12 385.23 421.01 385.82 420.88 386.40 420.72 386.99 420.53 387.58 420.32 388.16 420.08 388.75 419.82 389.33 419.54 389.92 419.23 390.50 418.91 391.09 418.57 391.67 418.21 392.26 417.86 392.84 417.50 393.43 417.32 394.00 417.32 394.02 417.32 394.60 417.32 395.19 417.32 395.77 417.32 396.36 417.32 396.94 417.32 397.53 417.32 398.11 417.32 398.70 L417.08 398.70 417.08 398.11 417.08 397.53 417.08 396.94 417.08 396.36 417.08 395.77 417.08 395.19 417.08 394.60 417.08 394.02 417.08 394.00 416.90 393.43 416.54 392.84 416.19 392.26 415.83 391.67 415.49 391.09 415.17 390.50 414.86 389.92 414.58 389.33 414.32 388.75 414.08 388.16 413.87 387.58 413.68 386.99 413.52 386.40 413.39 385.82 413.28 385.23 413.20 384.65 413.15 384.06 413.13 383.48 413.13 383.30 413.13 382.89 413.16 382.31 413.20 381.72 413.25 381.13 413.33 380.55 413.42 379.96 413.53 379.38 413.66 378.79 413.81 378.21 413.97 377.62 414.15 377.04 414.34 376.45 414.55 375.87 414.78 375.28 415.02 374.69 415.27 374.11 415.54 373.52 415.81 372.94 416.09 372.35 416.38 371.77 416.67 371.18 416.95 370.60 417.08 370.01 417.08 370.00 417.08 369.42 417.08 368.84 417.08 368.25 417.08 367.67 417.08 367.08 417.08 366.50 417.08 365.91 417.08 365.33 417.08 364.74 417.08 364.16 417.08 363.57 417.08 362.98 417.08 362.40 417.08 361.81 417.08 361.23 417.08 360.64 417.08 360.06 417.08 359.47 417.08 358.89 417.08 358.30 Z" fill="#2f3e8e" stroke="#1a1a1a" stroke-width="0.55"/><rect x="415.80" y="377.71" width="2.8" height="10.24" fill="none" stroke="#111" stroke-opacity="0.7" stroke-width="0.28"/><rect x="416.05" y="382.15" width="2.3" height="2.3" fill="#fff"/><path d="M426.60 365.50 L426.72 365.50 426.72 365.97 426.72 366.44 426.72 366.91 426.72 367.38 426.72 367.85 426.72 368.32 426.72 368.79 426.72 369.26 426.72 369.73 426.72 370.20 426.72 370.67 426.72 371.13 426.72 371.60 426.72 372.00 426.72 372.07 426.89 372.54 427.18 373.01 427.47 373.48 427.77 373.95 428.05 374.42 428.33 374.89 428.59 375.36 428.85 375.83 429.09 376.30 429.31 376.77 429.52 377.24 429.71 377.71 429.89 378.18 430.05 378.65 430.19 379.12 430.31 379.59 430.42 380.06 430.51 380.53 430.57 381.00 430.62 381.47 430.66 381.93 430.67 382.40 430.67 382.50 430.66 382.87 430.64 383.34 430.60 383.81 430.54 384.28 430.46 384.75 430.36 385.22 430.24 385.69 430.11 386.16 429.95 386.63 429.79 387.10 429.60 387.57 429.40 388.04 429.18 388.51 428.95 388.98 428.70 389.45 428.44 389.92 428.17 390.39 427.88 390.86 427.59 391.33 427.30 391.80 427.01 392.27 426.73 392.73 426.72 393.00 426.72 393.20 426.72 393.67 426.72 394.14 426.72 394.61 426.72 395.08 426.72 395.55 426.72 396.02 426.72 396.49 426.72 396.96 426.72 397.43 426.72 397.90 L426.48 397.90 426.48 397.43 426.48 396.96 426.48 396.49 426.48 396.02 426.48 395.55 426.48 395.08 426.48 394.61 426.48 394.14 426.48 393.67 426.48 393.20 426.48 393.00 426.47 392.73 426.19 392.27 425.90 391.80 425.61 391.33 425.32 390.86 425.03 390.39 424.76 389.92 424.50 389.45 424.25 388.98 424.02 388.51 423.80 388.04 423.60 387.57 423.41 387.10 423.25 386.63 423.09 386.16 422.96 385.69 422.84 385.22 422.74 384.75 422.66 384.28 422.60 383.81 422.56 383.34 422.54 382.87 422.53 382.50 422.53 382.40 422.54 381.93 422.58 381.47 422.63 381.00 422.69 380.53 422.78 380.06 422.89 379.59 423.01 379.12 423.15 378.65 423.31 378.18 423.49 377.71 423.68 377.24 423.89 376.77 424.11 376.30 424.35 375.83 424.61 375.36 424.87 374.89 425.15 374.42 425.43 373.95 425.73 373.48 426.02 373.01 426.31 372.54 426.48 372.07 426.48 372.00 426.48 371.60 426.48 371.13 426.48 370.67 426.48 370.20 426.48 369.73 426.48 369.26 426.48 368.79 426.48 368.32 426.48 367.85 426.48 367.38 426.48 366.91 426.48 366.44 426.48 365.97 426.48 365.50 Z" fill="#e60000" stroke="#1a1a1a" stroke-width="0.55"/><rect x="425.20" y="378.72" width="2.8" height="9.16" fill="none" stroke="#111" stroke-opacity="0.7" stroke-width="0.28"/><rect x="425.45" y="382.15" width="2.3" height="2.3" fill="#fff"/><path d="M436.20 351.80 L436.32 351.80 436.32 352.42 436.32 353.04 436.32 353.66 436.32 354.28 436.32 354.90 436.32 355.52 436.32 356.14 436.32 356.76 436.32 357.38 436.32 358.00 436.32 358.62 436.32 359.24 436.32 359.86 436.32 360.48 436.32 361.10 436.32 361.72 436.32 362.00 436.33 362.34 436.63 362.97 436.94 363.59 437.24 364.21 437.55 364.83 437.84 365.45 438.12 366.07 438.39 366.69 438.65 367.31 438.88 367.93 439.11 368.55 439.31 369.17 439.49 369.79 439.66 370.41 439.81 371.03 439.93 371.65 440.04 372.27 440.13 372.89 440.19 373.51 440.24 374.13 440.26 374.75 440.27 375.20 440.27 375.37 440.25 375.99 440.21 376.61 440.15 377.23 440.07 377.85 439.97 378.47 439.84 379.09 439.69 379.71 439.53 380.33 439.34 380.95 439.13 381.57 438.91 382.19 438.66 382.81 438.40 383.43 438.12 384.06 437.83 384.68 437.53 385.30 437.22 385.92 436.90 386.54 436.58 387.16 436.32 387.78 436.32 388.00 436.32 388.40 436.32 389.02 436.32 389.64 436.32 390.26 436.32 390.88 436.32 391.50 436.32 392.12 436.32 392.74 436.32 393.36 436.32 393.98 436.32 394.60 L436.08 394.60 436.08 393.98 436.08 393.36 436.08 392.74 436.08 392.12 436.08 391.50 436.08 390.88 436.08 390.26 436.08 389.64 436.08 389.02 436.08 388.40 436.08 388.00 436.08 387.78 435.82 387.16 435.50 386.54 435.18 385.92 434.87 385.30 434.57 384.68 434.28 384.06 434.00 383.43 433.74 382.81 433.49 382.19 433.27 381.57 433.06 380.95 432.87 380.33 432.71 379.71 432.56 379.09 432.43 378.47 432.33 377.85 432.25 377.23 432.19 376.61 432.15 375.99 432.13 375.37 432.13 375.20 432.14 374.75 432.16 374.13 432.21 373.51 432.27 372.89 432.36 372.27 432.47 371.65 432.59 371.03 432.74 370.41 432.91 369.79 433.09 369.17 433.29 368.55 433.52 367.93 433.75 367.31 434.01 366.69 434.28 366.07 434.56 365.45 434.85 364.83 435.16 364.21 435.46 363.59 435.77 362.97 436.07 362.34 436.08 362.00 436.08 361.72 436.08 361.10 436.08 360.48 436.08 359.86 436.08 359.24 436.08 358.62 436.08 358.00 436.08 357.38 436.08 356.76 436.08 356.14 436.08 355.52 436.08 354.90 436.08 354.28 436.08 353.66 436.08 353.04 436.08 352.42 436.08 351.80 Z" fill="#2f3e8e" stroke="#1a1a1a" stroke-width="0.55"/><rect x="434.80" y="370.45" width="2.8" height="10.96" fill="none" stroke="#111" stroke-opacity="0.7" stroke-width="0.28"/><rect x="435.05" y="374.85" width="2.3" height="2.3" fill="#fff"/><path d="M445.60 339.70 L445.72 339.70 445.72 340.46 445.72 341.22 445.72 341.98 445.72 342.74 445.72 343.50 445.72 344.27 445.72 345.03 445.72 345.79 445.72 346.55 445.72 347.31 445.72 348.07 445.72 348.83 445.72 349.59 445.72 350.35 445.72 351.11 445.72 351.87 445.72 352.63 445.72 353.40 445.72 354.16 445.72 354.92 445.72 355.68 445.72 356.44 445.72 357.20 445.72 357.96 445.72 358.72 445.72 359.48 445.72 360.24 445.72 361.00 445.72 361.77 445.72 362.53 445.72 363.00 445.72 363.29 446.05 364.05 446.41 364.81 446.77 365.57 447.12 366.33 447.46 367.09 447.77 367.85 448.07 368.61 448.35 369.37 448.60 370.13 448.83 370.90 449.03 371.66 449.20 372.42 449.35 373.18 449.47 373.94 449.56 374.70 449.63 375.46 449.66 376.22 449.67 376.80 449.67 376.98 449.64 377.74 449.56 378.50 449.44 379.27 449.28 380.03 449.08 380.79 448.84 381.55 448.56 382.31 448.24 383.07 447.89 383.83 447.50 384.59 447.09 385.35 446.65 386.11 446.21 386.87 445.77 387.63 445.72 388.00 445.72 388.40 445.72 389.16 445.72 389.92 445.72 390.68 445.72 391.44 445.72 392.20 L445.48 392.20 445.48 391.44 445.48 390.68 445.48 389.92 445.48 389.16 445.48 388.40 445.48 388.00 445.43 387.63 444.99 386.87 444.55 386.11 444.11 385.35 443.70 384.59 443.31 383.83 442.96 383.07 442.64 382.31 442.36 381.55 442.12 380.79 441.92 380.03 441.76 379.27 441.64 378.50 441.56 377.74 441.53 376.98 441.53 376.80 441.54 376.22 441.57 375.46 441.64 374.70 441.73 373.94 441.85 373.18 442.00 372.42 442.17 371.66 442.37 370.90 442.60 370.13 442.85 369.37 443.13 368.61 443.43 367.85 443.74 367.09 444.08 366.33 444.43 365.57 444.79 364.81 445.15 364.05 445.48 363.29 445.48 363.00 445.48 362.53 445.48 361.77 445.48 361.00 445.48 360.24 445.48 359.48 445.48 358.72 445.48 357.96 445.48 357.20 445.48 356.44 445.48 355.68 445.48 354.92 445.48 354.16 445.48 353.40 445.48 352.63 445.48 351.87 445.48 351.11 445.48 350.35 445.48 349.59 445.48 348.83 445.48 348.07 445.48 347.31 445.48 346.55 445.48 345.79 445.48 345.03 445.48 344.27 445.48 343.50 445.48 342.74 445.48 341.98 445.48 341.22 445.48 340.46 445.48 339.70 Z" fill="#e60000" stroke="#1a1a1a" stroke-width="0.55"/><rect x="444.20" y="371.03" width="2.8" height="10.60" fill="none" stroke="#111" stroke-opacity="0.7" stroke-width="0.28"/><rect x="444.45" y="375.65" width="2.3" height="2.3" fill="#fff"/><path d="M455.40 362.00 L455.52 362.00 455.52 362.61 455.52 363.23 455.52 363.84 455.52 364.45 455.52 365.07 455.52 365.68 455.52 366.29 455.52 366.90 455.52 367.52 455.52 368.13 455.52 368.74 455.52 369.36 455.52 369.97 455.52 370.58 455.52 371.20 455.52 371.81 455.52 372.42 455.52 373.03 455.52 373.65 455.52 374.26 455.52 374.87 455.52 375.49 455.52 376.00 455.52 376.10 455.70 376.71 455.99 377.33 456.29 377.94 456.58 378.55 456.87 379.17 457.15 379.78 457.42 380.39 457.68 381.00 457.92 381.62 458.15 382.23 458.37 382.84 458.56 383.46 458.75 384.07 458.91 384.68 459.06 385.30 459.19 385.91 459.30 386.52 459.39 387.13 459.46 387.75 459.52 388.36 459.56 388.97 459.58 389.59 459.58 389.90 459.58 390.20 459.54 390.81 459.47 391.43 459.37 392.04 459.23 392.65 459.05 393.27 458.84 393.88 458.60 394.49 458.33 395.10 458.03 395.72 457.70 396.33 457.34 396.94 456.96 397.56 456.57 398.17 456.16 398.78 455.75 399.40 455.52 400.00 455.52 400.01 455.52 400.62 455.52 401.23 455.52 401.85 455.52 402.46 455.52 403.07 455.52 403.69 455.52 404.30 L455.28 404.30 455.28 403.69 455.28 403.07 455.28 402.46 455.28 401.85 455.28 401.23 455.28 400.62 455.28 400.01 455.28 400.00 455.05 399.40 454.64 398.78 454.23 398.17 453.84 397.56 453.46 396.94 453.10 396.33 452.77 395.72 452.47 395.10 452.20 394.49 451.96 393.88 451.75 393.27 451.57 392.65 451.43 392.04 451.33 391.43 451.26 390.81 451.22 390.20 451.22 389.90 451.22 389.59 451.24 388.97 451.28 388.36 451.34 387.75 451.41 387.13 451.50 386.52 451.61 385.91 451.74 385.30 451.89 384.68 452.05 384.07 452.24 383.46 452.43 382.84 452.65 382.23 452.88 381.62 453.12 381.00 453.38 380.39 453.65 379.78 453.93 379.17 454.22 378.55 454.51 377.94 454.81 377.33 455.10 376.71 455.28 376.10 455.28 376.00 455.28 375.49 455.28 374.87 455.28 374.26 455.28 373.65 455.28 373.03 455.28 372.42 455.28 371.81 455.28 371.20 455.28 370.58 455.28 369.97 455.28 369.36 455.28 368.74 455.28 368.13 455.28 367.52 455.28 366.90 455.28 366.29 455.28 365.68 455.28 365.07 455.28 364.45 455.28 363.84 455.28 363.23 455.28 362.61 455.28 362.00 Z" fill="#2f3e8e" stroke="#1a1a1a" stroke-width="0.55"/><rect x="454.00" y="385.40" width="2.8" height="10.24" fill="none" stroke="#111" stroke-opacity="0.7" stroke-width="0.28"/><rect x="454.25" y="390.05" width="2.3" height="2.3" fill="#fff"/><path d="M464.90 365.90 L465.02 365.90 465.02 366.41 465.02 366.93 465.02 367.44 465.02 367.96 465.02 368.47 465.02 368.99 465.02 369.50 465.02 370.02 465.02 370.53 465.02 371.04 465.02 371.56 465.02 372.07 465.02 372.59 465.02 373.10 465.02 373.62 465.02 374.13 465.02 374.65 465.02 375.16 465.02 375.68 465.02 376.19 465.02 376.70 465.02 377.22 465.02 377.73 465.02 378.00 465.02 378.25 465.24 378.76 465.50 379.28 465.77 379.79 466.03 380.31 466.29 380.82 466.54 381.33 466.78 381.85 467.01 382.36 467.24 382.88 467.45 383.39 467.65 383.91 467.83 384.42 468.00 384.94 468.16 385.45 468.31 385.97 468.44 386.48 468.56 386.99 468.66 387.51 468.75 388.02 468.82 388.54 468.88 389.05 468.93 389.57 468.96 390.08 468.97 390.60 468.97 390.80 468.96 391.11 468.92 391.62 468.85 392.14 468.73 392.65 468.58 393.17 468.40 393.68 468.18 394.20 467.92 394.71 467.64 395.23 467.32 395.74 466.98 396.26 466.61 396.77 466.22 397.28 465.81 397.80 465.40 398.31 465.02 398.83 465.02 399.00 465.02 399.34 465.02 399.86 465.02 400.37 465.02 400.89 465.02 401.40 L464.78 401.40 464.78 400.89 464.78 400.37 464.78 399.86 464.78 399.34 464.78 399.00 464.78 398.83 464.40 398.31 463.99 397.80 463.58 397.28 463.19 396.77 462.82 396.26 462.48 395.74 462.16 395.23 461.88 394.71 461.62 394.20 461.40 393.68 461.22 393.17 461.07 392.65 460.95 392.14 460.88 391.62 460.84 391.11 460.83 390.80 460.83 390.60 460.84 390.08 460.87 389.57 460.92 389.05 460.98 388.54 461.05 388.02 461.14 387.51 461.24 386.99 461.36 386.48 461.49 385.97 461.64 385.45 461.80 384.94 461.97 384.42 462.15 383.91 462.35 383.39 462.56 382.88 462.79 382.36 463.02 381.85 463.26 381.33 463.51 380.82 463.77 380.31 464.03 379.79 464.30 379.28 464.56 378.76 464.78 378.25 464.78 378.00 464.78 377.73 464.78 377.22 464.78 376.70 464.78 376.19 464.78 375.68 464.78 375.16 464.78 374.65 464.78 374.13 464.78 373.62 464.78 373.10 464.78 372.59 464.78 372.07 464.78 371.56 464.78 371.04 464.78 370.53 464.78 370.02 464.78 369.50 464.78 368.99 464.78 368.47 464.78 367.96 464.78 367.44 464.78 366.93 464.78 366.41 464.78 365.90 Z" fill="#e60000" stroke="#1a1a1a" stroke-width="0.55"/><rect x="463.50" y="386.39" width="2.8" height="9.16" fill="none" stroke="#111" stroke-opacity="0.7" stroke-width="0.28"/><rect x="463.75" y="390.65" width="2.3" height="2.3" fill="#fff"/><path d="M474.70 324.60 L474.82 324.60 474.82 325.67 474.82 326.74 474.82 327.82 474.82 328.00 475.24 328.89 475.97 329.96 476.67 331.03 477.30 332.11 477.87 333.18 478.34 334.25 478.73 335.32 479.02 336.40 479.22 337.47 479.31 338.54 479.32 339.00 479.31 339.61 479.28 340.69 479.21 341.76 479.10 342.83 478.97 343.90 478.80 344.98 478.60 346.05 478.36 347.12 478.10 348.19 477.81 349.27 477.48 350.34 477.14 351.41 476.76 352.48 476.37 353.56 475.96 354.63 475.54 355.70 475.12 356.77 474.82 357.85 474.82 358.00 474.82 358.92 474.82 359.99 474.82 361.06 474.82 362.14 474.82 363.21 474.82 364.28 474.82 365.35 474.82 366.43 474.82 367.50 474.82 368.57 474.82 369.64 474.82 370.72 474.82 371.79 474.82 372.86 474.82 373.93 474.82 375.01 474.82 376.08 474.82 377.15 474.82 378.22 474.82 379.30 474.82 380.37 474.82 381.44 474.82 382.51 474.82 383.59 474.82 384.66 474.82 385.73 474.82 386.80 474.82 387.88 474.82 388.95 474.82 390.02 474.82 391.09 474.82 392.17 474.82 393.24 474.82 394.31 474.82 395.38 474.82 396.46 474.82 397.53 474.82 398.60 L474.58 398.60 474.58 397.53 474.58 396.46 474.58 395.38 474.58 394.31 474.58 393.24 474.58 392.17 474.58 391.09 474.58 390.02 474.58 388.95 474.58 387.88 474.58 386.80 474.58 385.73 474.58 384.66 474.58 383.59 474.58 382.51 474.58 381.44 474.58 380.37 474.58 379.30 474.58 378.22 474.58 377.15 474.58 376.08 474.58 375.01 474.58 373.93 474.58 372.86 474.58 371.79 474.58 370.72 474.58 369.64 474.58 368.57 474.58 367.50 474.58 366.43 474.58 365.35 474.58 364.28 474.58 363.21 474.58 362.14 474.58 361.06 474.58 359.99 474.58 358.92 474.58 358.00 474.58 357.85 474.28 356.77 473.86 355.70 473.44 354.63 473.03 353.56 472.64 352.48 472.26 351.41 471.92 350.34 471.59 349.27 471.30 348.19 471.04 347.12 470.80 346.05 470.60 344.98 470.43 343.90 470.30 342.83 470.19 341.76 470.12 340.69 470.09 339.61 470.08 339.00 470.09 338.54 470.18 337.47 470.38 336.40 470.67 335.32 471.06 334.25 471.53 333.18 472.10 332.11 472.73 331.03 473.43 329.96 474.16 328.89 474.58 328.00 474.58 327.82 474.58 326.74 474.58 325.67 474.58 324.60 Z" fill="#2f3e8e" stroke="#1a1a1a" stroke-width="0.55"/><rect x="473.30" y="336.34" width="2.8" height="12.40" fill="none" stroke="#111" stroke-opacity="0.7" stroke-width="0.28"/><rect x="473.55" y="339.95" width="2.3" height="2.3" fill="#fff"/><path d="M484.20 325.00 L484.32 325.00 484.32 326.62 484.32 328.25 484.32 329.00 484.72 329.87 485.78 331.49 486.75 333.12 487.55 334.74 488.15 336.36 488.54 337.99 488.70 339.61 488.71 340.00 488.69 341.23 488.62 342.86 488.50 344.48 488.31 346.10 488.08 347.72 487.79 349.35 487.45 350.97 487.06 352.59 486.62 354.22 486.15 355.84 485.64 357.46 485.10 359.09 484.57 360.71 484.32 362.00 484.32 362.33 484.32 363.96 484.32 365.58 484.32 367.20 484.32 368.83 484.32 370.45 484.32 372.07 484.32 373.70 484.32 375.32 484.32 376.94 484.32 378.57 484.32 380.19 484.32 381.81 484.32 383.43 484.32 385.06 484.32 386.68 484.32 388.30 484.32 389.93 484.32 391.55 484.32 393.17 484.32 394.80 484.32 396.42 484.32 398.04 484.32 399.67 484.32 401.29 484.32 402.91 484.32 404.54 484.32 406.16 484.32 407.78 484.32 409.41 484.32 411.03 484.32 412.65 484.32 414.28 484.32 415.90 484.32 417.52 484.32 419.14 484.32 420.77 484.32 422.39 484.32 424.01 484.32 425.64 484.32 427.26 484.32 428.88 484.32 430.51 484.32 432.13 484.32 433.75 484.32 435.38 484.32 437.00 L484.08 437.00 484.08 435.38 484.08 433.75 484.08 432.13 484.08 430.51 484.08 428.88 484.08 427.26 484.08 425.64 484.08 424.01 484.08 422.39 484.08 420.77 484.08 419.14 484.08 417.52 484.08 415.90 484.08 414.28 484.08 412.65 484.08 411.03 484.08 409.41 484.08 407.78 484.08 406.16 484.08 404.54 484.08 402.91 484.08 401.29 484.08 399.67 484.08 398.04 484.08 396.42 484.08 394.80 484.08 393.17 484.08 391.55 484.08 389.93 484.08 388.30 484.08 386.68 484.08 385.06 484.08 383.43 484.08 381.81 484.08 380.19 484.08 378.57 484.08 376.94 484.08 375.32 484.08 373.70 484.08 372.07 484.08 370.45 484.08 368.83 484.08 367.20 484.08 365.58 484.08 363.96 484.08 362.33 484.08 362.00 483.83 360.71 483.30 359.09 482.76 357.46 482.25 355.84 481.78 354.22 481.34 352.59 480.95 350.97 480.61 349.35 480.32 347.72 480.09 346.10 479.90 344.48 479.78 342.86 479.71 341.23 479.69 340.00 479.70 339.61 479.86 337.99 480.25 336.36 480.85 334.74 481.65 333.12 482.62 331.49 483.68 329.87 484.08 329.00 484.08 328.25 484.08 326.62 484.08 325.00 Z" fill="#e60000" stroke="#1a1a1a" stroke-width="0.55"/><rect x="482.80" y="336.34" width="2.8" height="13.48" fill="none" stroke="#111" stroke-opacity="0.7" stroke-width="0.28"/><rect x="483.05" y="339.95" width="2.3" height="2.3" fill="#fff"/><path d="M493.80 348.40 L493.92 348.40 493.92 348.98 493.92 349.57 493.92 350.15 493.92 350.74 493.92 351.32 493.92 351.90 493.92 352.49 493.92 353.07 493.92 353.66 493.92 354.24 493.92 354.82 493.92 355.41 493.92 355.99 493.92 356.58 493.92 357.16 493.92 357.74 493.92 358.33 493.92 358.91 493.92 359.50 493.92 360.00 493.92 360.08 494.06 360.67 494.33 361.25 494.60 361.83 494.87 362.42 495.13 363.00 495.39 363.59 495.64 364.17 495.88 364.75 496.10 365.34 496.32 365.92 496.52 366.51 496.70 367.09 496.88 367.67 497.03 368.26 497.18 368.84 497.31 369.43 497.42 370.01 497.52 370.59 497.60 371.18 497.66 371.76 497.71 372.35 497.74 372.93 497.76 373.51 497.76 373.80 497.76 374.10 497.73 374.68 497.68 375.27 497.61 375.85 497.51 376.43 497.39 377.02 497.24 377.60 497.07 378.19 496.88 378.77 496.66 379.36 496.43 379.94 496.17 380.52 495.89 381.11 495.60 381.69 495.29 382.28 494.97 382.86 494.64 383.44 494.30 384.03 493.98 384.61 493.92 385.00 493.92 385.20 493.92 385.78 493.92 386.36 493.92 386.95 493.92 387.53 493.92 388.12 493.92 388.70 L493.68 388.70 493.68 388.12 493.68 387.53 493.68 386.95 493.68 386.36 493.68 385.78 493.68 385.20 493.68 385.00 493.62 384.61 493.30 384.03 492.96 383.44 492.63 382.86 492.31 382.28 492.00 381.69 491.71 381.11 491.43 380.52 491.17 379.94 490.94 379.36 490.72 378.77 490.53 378.19 490.36 377.60 490.21 377.02 490.09 376.43 489.99 375.85 489.92 375.27 489.87 374.68 489.84 374.10 489.84 373.80 489.84 373.51 489.86 372.93 489.89 372.35 489.94 371.76 490.00 371.18 490.08 370.59 490.18 370.01 490.29 369.43 490.42 368.84 490.57 368.26 490.72 367.67 490.90 367.09 491.08 366.51 491.28 365.92 491.50 365.34 491.72 364.75 491.96 364.17 492.21 363.59 492.47 363.00 492.73 362.42 493.00 361.83 493.27 361.25 493.54 360.67 493.68 360.08 493.68 360.00 493.68 359.50 493.68 358.91 493.68 358.33 493.68 357.74 493.68 357.16 493.68 356.58 493.68 355.99 493.68 355.41 493.68 354.82 493.68 354.24 493.68 353.66 493.68 353.07 493.68 352.49 493.68 351.90 493.68 351.32 493.68 350.74 493.68 350.15 493.68 349.57 493.68 348.98 493.68 348.40 Z" fill="#2f3e8e" stroke="#1a1a1a" stroke-width="0.55"/><rect x="492.40" y="369.73" width="2.8" height="10.60" fill="none" stroke="#111" stroke-opacity="0.7" stroke-width="0.28"/><rect x="492.65" y="374.35" width="2.3" height="2.3" fill="#fff"/><path d="M503.10 354.80 L503.22 354.80 503.22 355.39 503.22 355.99 503.22 356.58 503.22 357.18 503.22 357.77 503.22 358.37 503.22 358.96 503.22 359.55 503.22 360.15 503.22 360.74 503.22 361.34 503.22 361.93 503.22 362.52 503.22 363.00 503.22 363.12 503.42 363.71 503.73 364.31 504.04 364.90 504.34 365.50 504.64 366.09 504.92 366.68 505.19 367.28 505.45 367.87 505.69 368.47 505.91 369.06 506.12 369.66 506.30 370.25 506.47 370.84 506.61 371.44 506.74 372.03 506.85 372.63 506.93 373.22 506.99 373.81 507.04 374.41 507.06 375.00 507.06 375.30 507.06 375.60 507.04 376.19 507.01 376.79 506.97 377.38 506.91 377.97 506.84 378.57 506.75 379.16 506.64 379.76 506.53 380.35 506.40 380.94 506.25 381.54 506.09 382.13 505.92 382.73 505.74 383.32 505.54 383.92 505.33 384.51 505.11 385.10 504.88 385.70 504.64 386.29 504.40 386.89 504.14 387.48 503.88 388.08 503.63 388.67 503.37 389.26 503.22 389.86 503.22 390.00 503.22 390.45 503.22 391.05 503.22 391.64 503.22 392.23 503.22 392.83 503.22 393.42 503.22 394.02 503.22 394.61 503.22 395.21 503.22 395.80 L502.98 395.80 502.98 395.21 502.98 394.61 502.98 394.02 502.98 393.42 502.98 392.83 502.98 392.23 502.98 391.64 502.98 391.05 502.98 390.45 502.98 390.00 502.98 389.86 502.83 389.26 502.57 388.67 502.32 388.08 502.06 387.48 501.80 386.89 501.56 386.29 501.32 385.70 501.09 385.10 500.87 384.51 500.66 383.92 500.46 383.32 500.28 382.73 500.11 382.13 499.95 381.54 499.80 380.94 499.67 380.35 499.56 379.76 499.45 379.16 499.36 378.57 499.29 377.97 499.23 377.38 499.19 376.79 499.16 376.19 499.14 375.60 499.14 375.30 499.14 375.00 499.16 374.41 499.21 373.81 499.27 373.22 499.35 372.63 499.46 372.03 499.59 371.44 499.73 370.84 499.90 370.25 500.08 369.66 500.29 369.06 500.51 368.47 500.75 367.87 501.01 367.28 501.28 366.68 501.56 366.09 501.86 365.50 502.16 364.90 502.47 364.31 502.78 363.71 502.98 363.12 502.98 363.00 502.98 362.52 502.98 361.93 502.98 361.34 502.98 360.74 502.98 360.15 502.98 359.55 502.98 358.96 502.98 358.37 502.98 357.77 502.98 357.18 502.98 356.58 502.98 355.99 502.98 355.39 502.98 354.80 Z" fill="#e60000" stroke="#1a1a1a" stroke-width="0.55"/><rect x="501.70" y="370.77" width="2.8" height="11.32" fill="none" stroke="#111" stroke-opacity="0.7" stroke-width="0.28"/><rect x="501.95" y="374.85" width="2.3" height="2.3" fill="#fff"/><path d="M513.20 274.30 L513.32 274.30 513.32 276.70 513.32 279.10 513.32 281.50 513.32 283.91 513.32 286.31 513.32 288.71 513.32 291.11 513.32 293.51 513.32 295.91 513.32 298.31 513.32 300.72 513.32 303.12 513.32 305.52 513.32 307.92 513.32 310.32 513.32 312.72 513.32 315.12 513.32 317.53 513.32 319.93 513.32 322.33 513.32 324.73 513.32 327.13 513.32 329.53 513.32 331.93 513.32 334.34 513.32 336.74 513.32 339.14 513.32 341.54 513.32 343.94 513.32 346.34 513.32 348.74 513.32 351.15 513.32 352.00 513.35 353.55 513.63 355.95 513.92 358.35 514.21 360.75 514.50 363.15 514.77 365.56 515.03 367.96 515.28 370.36 515.52 372.76 515.73 375.16 515.93 377.56 516.12 379.96 516.28 382.37 516.42 384.77 516.55 387.17 516.66 389.57 516.74 391.97 516.81 394.37 516.85 396.77 516.88 399.18 516.88 401.00 516.88 401.58 516.86 403.98 516.80 406.38 516.70 408.78 516.57 411.18 516.40 413.58 516.20 415.99 515.97 418.39 515.70 420.79 515.41 423.19 515.08 425.59 514.74 427.99 514.37 430.39 513.99 432.80 513.60 435.20 513.32 437.60 513.32 438.00 513.32 440.00 L513.08 440.00 513.08 438.00 513.08 437.60 512.80 435.20 512.41 432.80 512.03 430.39 511.66 427.99 511.32 425.59 510.99 423.19 510.70 420.79 510.43 418.39 510.20 415.99 510.00 413.58 509.83 411.18 509.70 408.78 509.60 406.38 509.54 403.98 509.52 401.58 509.52 401.00 509.52 399.18 509.55 396.77 509.59 394.37 509.66 391.97 509.74 389.57 509.85 387.17 509.98 384.77 510.12 382.37 510.28 379.96 510.47 377.56 510.67 375.16 510.88 372.76 511.12 370.36 511.37 367.96 511.63 365.56 511.90 363.15 512.19 360.75 512.48 358.35 512.77 355.95 513.05 353.55 513.08 352.00 513.08 351.15 513.08 348.74 513.08 346.34 513.08 343.94 513.08 341.54 513.08 339.14 513.08 336.74 513.08 334.34 513.08 331.93 513.08 329.53 513.08 327.13 513.08 324.73 513.08 322.33 513.08 319.93 513.08 317.53 513.08 315.12 513.08 312.72 513.08 310.32 513.08 307.92 513.08 305.52 513.08 303.12 513.08 300.72 513.08 298.31 513.08 295.91 513.08 293.51 513.08 291.11 513.08 288.71 513.08 286.31 513.08 283.91 513.08 281.50 513.08 279.10 513.08 276.70 513.08 274.30 Z" fill="#2f3e8e" stroke="#1a1a1a" stroke-width="0.55"/><rect x="511.80" y="385.16" width="2.8" height="32.56" fill="none" stroke="#111" stroke-opacity="0.7" stroke-width="0.28"/><rect x="512.05" y="402.45" width="2.3" height="2.3" fill="#fff"/><path d="M522.60 274.30 L522.72 274.30 522.72 276.63 522.72 278.96 522.72 281.29 522.72 283.62 522.72 285.94 522.72 288.27 522.72 290.60 522.72 292.93 522.72 295.26 522.72 297.59 522.72 299.92 522.72 302.25 522.72 304.58 522.72 306.91 522.72 309.23 522.72 311.56 522.72 313.89 522.72 316.22 522.72 318.55 522.72 320.88 522.72 323.21 522.72 325.54 522.72 327.87 522.72 330.20 522.72 332.52 522.72 334.85 522.72 337.18 522.72 339.51 522.72 341.84 522.72 344.17 522.72 346.50 522.72 348.83 522.72 351.16 522.72 353.49 522.72 355.81 522.72 358.14 522.72 360.47 522.72 362.80 522.72 365.13 522.72 367.46 522.72 368.00 522.84 369.79 523.21 372.12 523.58 374.45 523.94 376.78 524.28 379.10 524.60 381.43 524.89 383.76 525.15 386.09 525.38 388.42 525.58 390.75 525.75 393.08 525.88 395.41 525.98 397.74 526.04 400.07 526.06 402.39 526.07 403.00 526.05 404.72 525.99 407.05 525.87 409.38 525.71 411.71 525.49 414.04 525.23 416.37 524.93 418.70 524.58 421.03 524.19 423.36 523.77 425.68 523.32 428.01 522.88 430.34 522.72 432.00 522.72 432.67 522.72 435.00 L522.48 435.00 522.48 432.67 522.48 432.00 522.32 430.34 521.88 428.01 521.43 425.68 521.01 423.36 520.62 421.03 520.27 418.70 519.97 416.37 519.71 414.04 519.49 411.71 519.33 409.38 519.21 407.05 519.15 404.72 519.13 403.00 519.14 402.39 519.16 400.07 519.22 397.74 519.32 395.41 519.45 393.08 519.62 390.75 519.82 388.42 520.05 386.09 520.31 383.76 520.60 381.43 520.92 379.10 521.26 376.78 521.62 374.45 521.99 372.12 522.36 369.79 522.48 368.00 522.48 367.46 522.48 365.13 522.48 362.80 522.48 360.47 522.48 358.14 522.48 355.81 522.48 353.49 522.48 351.16 522.48 348.83 522.48 346.50 522.48 344.17 522.48 341.84 522.48 339.51 522.48 337.18 522.48 334.85 522.48 332.52 522.48 330.20 522.48 327.87 522.48 325.54 522.48 323.21 522.48 320.88 522.48 318.55 522.48 316.22 522.48 313.89 522.48 311.56 522.48 309.23 522.48 306.91 522.48 304.58 522.48 302.25 522.48 299.92 522.48 297.59 522.48 295.26 522.48 292.93 522.48 290.60 522.48 288.27 522.48 285.94 522.48 283.62 522.48 281.29 522.48 278.96 522.48 276.63 522.48 274.30 Z" fill="#e60000" stroke="#1a1a1a" stroke-width="0.55"/><rect x="521.20" y="391.30" width="2.8" height="24.64" fill="none" stroke="#111" stroke-opacity="0.7" stroke-width="0.28"/><rect x="521.45" y="403.55" width="2.3" height="2.3" fill="#fff"/></g>
<g font-family="Liberation Sans, Arial, sans-serif" font-size="5.1" fill="#333"><path d="M71.50 323.80H79.70" stroke="#333" stroke-width="0.7"/><text x="75.80" y="320.10" text-anchor="middle"><tspan font-style="italic">p</tspan> = 0.072</text><path d="M90.73 339.10H98.93" stroke="#333" stroke-width="0.7"/><text x="95.03" y="336.00" text-anchor="middle"><tspan font-style="italic">p</tspan> = 0.071</text><path d="M109.96 316.60H118.16" stroke="#333" stroke-width="0.7"/><text x="114.26" y="313.50" text-anchor="middle"><tspan font-style="italic">p</tspan> = 0.281</text><path d="M129.19 334.10H137.39" stroke="#333" stroke-width="0.7"/><text x="133.49" y="331.00" text-anchor="middle"><tspan font-style="italic">p</tspan> = 0.659</text><path d="M148.42 337.30H156.62" stroke="#333" stroke-width="0.7"/><text x="152.72" y="334.20" text-anchor="middle"><tspan font-style="italic">p</tspan> = 0.554</text><path d="M167.65 348.50H175.85" stroke="#333" stroke-width="0.7"/><text x="171.95" y="344.70" text-anchor="middle"><tspan font-style="italic">p</tspan> = 0.769</text><path d="M186.88 340.60H195.08" stroke="#333" stroke-width="0.7"/><text x="191.18" y="337.10" text-anchor="middle"><tspan font-style="italic">p</tspan> = 0.760</text><path d="M206.11 308.80H214.31" stroke="#333" stroke-width="0.7"/><text x="210.41" y="305.20" text-anchor="middle"><tspan font-style="italic">p</tspan> = 0.700</text><path d="M225.34 345.60H233.54" stroke="#333" stroke-width="0.7"/><text x="229.64" y="341.90" text-anchor="middle"><tspan font-style="italic">p</tspan> = 0.522</text><path d="M244.57 348.50H252.77" stroke="#333" stroke-width="0.7"/><text x="248.87" y="344.70" text-anchor="middle"><tspan font-style="italic">p</tspan> = 0.781</text><path d="M263.80 342.40H272.00" stroke="#333" stroke-width="0.7"/><text x="268.10" y="338.60" text-anchor="middle"><tspan font-style="italic">p</tspan> = 0.256</text><path d="M283.03 347.80H291.23" stroke="#333" stroke-width="0.7"/><text x="287.33" y="344.10" text-anchor="middle"><tspan font-style="italic">p</tspan> = 0.683</text><path d="M302.26 329.30H310.46" stroke="#333" stroke-width="0.7"/><text x="306.56" y="326.00" text-anchor="middle"><tspan font-style="italic">p</tspan> = 0.877</text><path d="M321.49 316.60H329.69" stroke="#333" stroke-width="0.7"/><text x="325.79" y="313.50" text-anchor="middle"><tspan font-style="italic">p</tspan> = 0.826</text><path d="M340.72 301.80H348.92" stroke="#333" stroke-width="0.7"/><text x="345.02" y="298.10" text-anchor="middle"><tspan font-style="italic">p</tspan> = 0.386</text><path d="M359.95 309.90H368.15" stroke="#333" stroke-width="0.7"/><text x="364.25" y="306.10" text-anchor="middle"><tspan font-style="italic">p</tspan> = 0.117</text><path d="M379.18 321.20H387.38" stroke="#333" stroke-width="0.7"/><text x="384.48" y="312.20" text-anchor="middle"><tspan font-style="italic">p</tspan> = 1.1 × 10<tspan font-size="3.2" dy="-1.8">−3</tspan></text><path d="M398.41 321.20H406.61" stroke="#333" stroke-width="0.7"/><text x="402.71" y="318.30" text-anchor="middle"><tspan font-style="italic">p</tspan> = 0.057</text><path d="M417.64 356.50H425.84" stroke="#333" stroke-width="0.7"/><text x="421.94" y="353.20" text-anchor="middle"><tspan font-style="italic">p</tspan> = 0.832</text><path d="M436.87 337.70H445.07" stroke="#333" stroke-width="0.7"/><text x="441.17" y="334.20" text-anchor="middle"><tspan font-style="italic">p</tspan> = 0.741</text><path d="M456.10 359.70H464.30" stroke="#333" stroke-width="0.7"/><text x="460.40" y="356.40" text-anchor="middle"><tspan font-style="italic">p</tspan> = 0.416</text><path d="M475.33 320.50H483.53" stroke="#333" stroke-width="0.7"/><text x="479.63" y="317.20" text-anchor="middle"><tspan font-style="italic">p</tspan> = 0.805</text><path d="M494.56 347.10H502.76" stroke="#333" stroke-width="0.7"/><text x="498.86" y="343.80" text-anchor="middle"><tspan font-style="italic">p</tspan> = 0.339</text><path d="M513.79 273.30H521.99" stroke="#333" stroke-width="0.7"/><text x="518.09" y="269.60" text-anchor="middle"><tspan font-style="italic">p</tspan> = 0.636</text></g>
</g></svg>
</body></html>
